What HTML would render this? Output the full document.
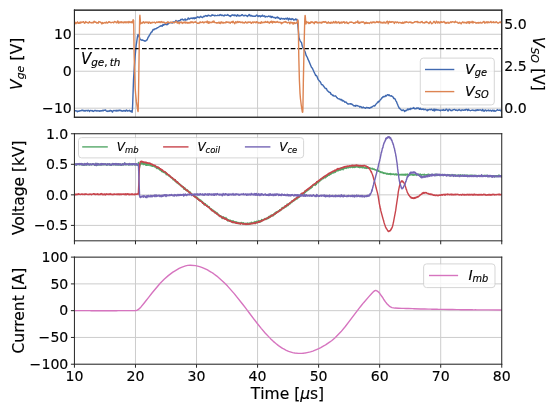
<!DOCTYPE html>
<html><head><meta charset="utf-8"><title>plot</title>
<style>html,body{margin:0;padding:0;background:#fff;width:550px;height:408px;overflow:hidden}svg{display:block}svg text{stroke:#000;stroke-width:0.15px}</style>
</head><body><svg width="550" height="408" viewBox="0 0 550 408" version="1.1"><defs><style type="text/css">*{stroke-linejoin: round; stroke-linecap: butt}</style></defs><g id="figure_1"><g id="patch_1"><path d="M 0 408 L 550 408 L 550 0 L 0 0 z " style="fill: #ffffff"/></g><g id="axes_1"><g id="patch_2"><path d="M 74.43 117.25 L 501.76 117.25 L 501.76 10.15 L 74.43 10.15 z " style="fill: #ffffff"/></g><g id="matplotlib.axis_1"><g id="xtick_1"><g id="line2d_1"><path d="M 74.43 117.25 L 74.43 10.15 " clip-path="url(#p11a7ee563b)" style="fill: none; stroke: #cccccc; stroke-linecap: square"/></g><g id="line2d_2"/></g><g id="xtick_2"><g id="line2d_3"><path d="M 135.48 117.25 L 135.48 10.15 " clip-path="url(#p11a7ee563b)" style="fill: none; stroke: #cccccc; stroke-linecap: square"/></g><g id="line2d_4"/></g><g id="xtick_3"><g id="line2d_5"><path d="M 196.52 117.25 L 196.52 10.15 " clip-path="url(#p11a7ee563b)" style="fill: none; stroke: #cccccc; stroke-linecap: square"/></g><g id="line2d_6"/></g><g id="xtick_4"><g id="line2d_7"><path d="M 257.57 117.25 L 257.57 10.15 " clip-path="url(#p11a7ee563b)" style="fill: none; stroke: #cccccc; stroke-linecap: square"/></g><g id="line2d_8"/></g><g id="xtick_5"><g id="line2d_9"><path d="M 318.62 117.25 L 318.62 10.15 " clip-path="url(#p11a7ee563b)" style="fill: none; stroke: #cccccc; stroke-linecap: square"/></g><g id="line2d_10"/></g><g id="xtick_6"><g id="line2d_11"><path d="M 379.67 117.25 L 379.67 10.15 " clip-path="url(#p11a7ee563b)" style="fill: none; stroke: #cccccc; stroke-linecap: square"/></g><g id="line2d_12"/></g><g id="xtick_7"><g id="line2d_13"><path d="M 440.71 117.25 L 440.71 10.15 " clip-path="url(#p11a7ee563b)" style="fill: none; stroke: #cccccc; stroke-linecap: square"/></g><g id="line2d_14"/></g><g id="xtick_8"><g id="line2d_15"><path d="M 501.76 117.25 L 501.76 10.15 " clip-path="url(#p11a7ee563b)" style="fill: none; stroke: #cccccc; stroke-linecap: square"/></g><g id="line2d_16"/></g></g><g id="matplotlib.axis_2"><g id="ytick_1"><g id="line2d_17"><path d="M 74.43 108.2 L 501.76 108.2 " clip-path="url(#p11a7ee563b)" style="fill: none; stroke: #cccccc; stroke-linecap: square"/></g><g id="line2d_18"/><g id="text_1"><text style="font-size: 14.1px; font-family: 'DejaVu Sans', sans-serif; text-anchor: end" x="71.83" y="112.952551" transform="rotate(-0 71.83 112.952551)">−10</text></g></g><g id="ytick_2"><g id="line2d_19"><path d="M 74.43 71.24 L 501.76 71.24 " clip-path="url(#p11a7ee563b)" style="fill: none; stroke: #cccccc; stroke-linecap: square"/></g><g id="line2d_20"/><g id="text_2"><text style="font-size: 14.1px; font-family: 'DejaVu Sans', sans-serif; text-anchor: end" x="71.83" y="75.996029" transform="rotate(-0 71.83 75.996029)">0</text></g></g><g id="ytick_3"><g id="line2d_21"><path d="M 74.43 34.28 L 501.76 34.28 " clip-path="url(#p11a7ee563b)" style="fill: none; stroke: #cccccc; stroke-linecap: square"/></g><g id="line2d_22"/><g id="text_3"><text style="font-size: 14.1px; font-family: 'DejaVu Sans', sans-serif; text-anchor: end" x="71.83" y="39.039507" transform="rotate(-0 71.83 39.039507)">10</text></g></g></g><g id="line2d_23"><path d="M 74.43 110.65 L 75.04 111.06 L 75.65 110.59 L 76.57 110.84 L 76.87 111.21 L 77.18 111.74 L 77.33 111.81 L 77.63 111.47 L 77.94 111.02 L 78.09 111.03 L 78.4 111.36 L 79.01 111.23 L 79.16 111.27 L 79.47 110.99 L 79.77 110.69 L 80.08 110.61 L 80.84 110.8 L 81.91 110.24 L 82.52 110.52 L 83.13 110.22 L 83.43 110.46 L 83.89 110.97 L 84.04 111.02 L 84.35 110.68 L 84.5 110.52 L 84.66 110.59 L 85.11 111.14 L 85.27 111.14 L 85.57 110.65 L 85.72 110.41 L 85.88 110.38 L 86.18 110.57 L 86.64 110.52 L 87.4 110.93 L 87.71 110.57 L 88.01 110.26 L 88.62 110.37 L 88.93 110.7 L 89.39 111.52 L 89.54 111.56 L 89.84 110.95 L 90.15 110.43 L 90.61 110.63 L 91.22 110.53 L 91.98 110.92 L 92.59 110.57 L 92.9 110.99 L 93.2 111.43 L 93.51 111.37 L 95.03 110.28 L 95.64 110.77 L 95.95 110.8 L 96.41 111.06 L 97.02 110.47 L 97.63 110.96 L 98.39 110.93 L 98.7 110.76 L 99.15 110.72 L 99.61 111.19 L 99.92 110.92 L 100.22 110.76 L 100.68 110.94 L 100.99 111.09 L 101.6 110.67 L 102.05 110.76 L 102.51 110.55 L 102.82 110.27 L 102.97 110.31 L 103.27 110.72 L 103.43 110.72 L 103.89 110.24 L 104.34 110.08 L 104.95 110.39 L 105.26 110.05 L 105.41 109.86 L 105.56 109.89 L 106.17 111.02 L 106.48 110.94 L 106.94 111.34 L 107.4 110.93 L 108.01 111.42 L 108.31 111.22 L 108.62 110.87 L 108.77 110.91 L 109.23 111.29 L 109.53 111.01 L 109.99 110.34 L 110.14 110.31 L 110.6 110.76 L 110.91 111.01 L 111.67 110.6 L 111.82 110.74 L 112.43 112.11 L 112.58 111.93 L 113.04 110.9 L 113.35 110.84 L 113.65 110.56 L 114.42 110.46 L 114.87 110.78 L 115.18 110.82 L 115.48 110.93 L 115.64 110.83 L 116.09 110.19 L 116.25 110.31 L 116.71 111.11 L 117.01 111.03 L 117.47 110.85 L 117.93 110.31 L 118.08 110.33 L 118.54 110.86 L 118.69 110.75 L 118.99 110.15 L 119.15 110.08 L 119.91 110.58 L 120.22 110.31 L 120.52 110.57 L 120.67 110.67 L 121.13 110.45 L 121.59 110.94 L 122.05 110.78 L 122.81 111.17 L 123.57 110.44 L 124.03 110.84 L 124.18 110.82 L 124.64 110.4 L 124.95 110.84 L 125.25 111.19 L 125.4 111.18 L 125.71 110.78 L 126.17 110.07 L 126.47 110.06 L 126.78 110.58 L 126.93 110.88 L 127.08 110.92 L 127.39 110.53 L 127.54 110.6 L 127.85 111.05 L 128 111.04 L 128.46 110.73 L 129.07 110.63 L 129.53 110.19 L 129.83 110.8 L 130.14 111.43 L 130.29 111.47 L 130.75 110.91 L 131.05 111.21 L 131.51 111.02 L 131.81 111.92 L 131.97 112.37 L 132.12 112.12 L 132.42 109.74 L 132.73 102.85 L 133.49 80.16 L 134.26 68 L 135.17 55.57 L 136.09 46.07 L 137.46 36.66 L 138.07 34.49 L 138.22 34.72 L 138.83 36.39 L 139.29 37.13 L 139.9 38.57 L 140.82 39.8 L 141.12 39.85 L 141.58 40.21 L 142.19 39.9 L 142.8 40.36 L 143.11 40.31 L 143.72 40.64 L 144.02 40.6 L 144.63 41.16 L 144.94 41.12 L 145.24 40.89 L 145.7 41 L 146.62 40.03 L 147.08 40.06 L 147.38 39.21 L 148.14 37.22 L 148.3 37.02 L 148.6 37 L 148.75 36.75 L 149.21 35.46 L 149.67 34.94 L 151.04 32.67 L 151.35 31.95 L 151.81 32.07 L 153.18 29.41 L 153.79 29.88 L 154.1 29.63 L 154.55 29 L 154.86 29.01 L 155.16 29.05 L 155.78 28.59 L 156.23 28.67 L 156.54 28.57 L 156.84 28.16 L 157.15 27.81 L 157.76 27.74 L 158.83 26.99 L 159.13 26.9 L 159.59 26.4 L 160.05 26.27 L 160.35 26.1 L 160.66 26.04 L 161.12 25.51 L 162.03 26.35 L 162.19 26.28 L 162.49 25.69 L 162.95 24.63 L 163.1 24.42 L 163.25 24.47 L 163.71 25.27 L 163.86 25.16 L 164.32 24.52 L 164.78 24.39 L 165.09 24.01 L 165.24 23.97 L 165.54 24.3 L 165.85 24.67 L 166 24.65 L 166.31 24.37 L 166.61 24.55 L 167.07 24.74 L 167.22 24.6 L 167.68 23.73 L 167.98 23.85 L 168.29 24.01 L 168.6 23.31 L 168.9 22.62 L 169.05 22.61 L 169.66 23 L 170.12 22.54 L 170.58 22.62 L 170.88 22.51 L 171.34 22.82 L 171.65 22.64 L 171.95 22.92 L 172.26 23.03 L 172.56 22.72 L 172.87 22.2 L 173.17 22.06 L 173.48 22.04 L 173.94 22.36 L 175.31 21.55 L 175.92 20.42 L 177.14 21.72 L 177.29 21.83 L 177.45 21.73 L 178.06 20.84 L 178.36 20.78 L 178.82 20.97 L 179.28 20.67 L 180.04 20.79 L 180.19 20.6 L 180.65 19.52 L 181.11 19.53 L 181.42 19.68 L 181.87 19.47 L 182.33 19.09 L 182.94 19.93 L 183.25 19.7 L 183.55 19.96 L 183.86 20.14 L 184.62 19.94 L 185.08 18.88 L 185.23 19.01 L 185.69 20.17 L 185.99 20.08 L 186.6 19.75 L 186.91 19.47 L 187.21 19.51 L 187.52 19.63 L 187.67 19.4 L 188.13 17.99 L 188.28 18.03 L 188.74 18.6 L 189.5 19.02 L 189.66 19.01 L 189.96 18.59 L 190.27 18.27 L 191.03 18.42 L 191.49 18.01 L 191.79 18.16 L 192.56 18.55 L 193.01 17.79 L 193.17 17.81 L 193.62 18.12 L 193.93 18.34 L 194.24 18.72 L 194.39 18.71 L 194.69 18.16 L 195 17.48 L 195.15 17.49 L 195.61 18.31 L 195.91 18.19 L 196.52 17.69 L 196.98 17.1 L 197.44 16.8 L 197.59 16.84 L 198.2 17.47 L 198.81 17.12 L 199.27 17.64 L 199.58 17.39 L 200.8 16.28 L 201.26 16.97 L 201.87 17.14 L 202.48 17.57 L 202.78 17.18 L 203.09 16.94 L 203.24 16.88 L 203.7 16.31 L 204.16 16.57 L 204.46 16.6 L 205.07 15.8 L 205.38 15.92 L 205.53 15.85 L 205.83 15.5 L 205.99 15.55 L 206.29 15.84 L 206.6 15.98 L 206.9 16.37 L 207.05 16.29 L 207.51 15.52 L 207.97 15.48 L 208.28 15.1 L 208.43 15.09 L 209.19 15.66 L 209.65 15.68 L 210.41 15.99 L 210.87 15.86 L 211.33 15.9 L 211.48 15.79 L 212.09 14.66 L 212.55 15.28 L 213.01 15.39 L 213.46 15.26 L 213.92 15.45 L 214.23 15.49 L 214.53 15.87 L 214.69 15.87 L 215.14 15.31 L 215.45 15.42 L 215.75 15.64 L 216.36 15.6 L 216.98 15.67 L 217.13 15.67 L 217.74 15.16 L 218.96 15.65 L 219.26 15.54 L 220.18 14.57 L 220.64 14.93 L 220.94 14.88 L 221.4 15.5 L 221.86 14.99 L 222.32 15.1 L 222.93 15.65 L 223.23 15.48 L 223.54 15.62 L 224 16 L 224.15 15.88 L 224.61 15 L 224.91 14.97 L 225.83 15.36 L 226.13 15.43 L 226.74 15.31 L 227.05 15.22 L 227.81 14.52 L 228.27 15.25 L 228.57 15.35 L 229.34 16.08 L 229.79 15.74 L 229.95 15.74 L 230.25 16.16 L 230.56 16.44 L 230.86 15.89 L 231.17 15.44 L 231.63 15.46 L 232.24 14.78 L 232.85 15.25 L 233.15 15.03 L 233.31 15.04 L 233.76 15.46 L 234.07 15.53 L 234.37 15.66 L 234.68 15.07 L 234.83 14.82 L 234.98 14.93 L 235.29 15.51 L 235.59 15.46 L 236.2 15.31 L 236.82 16.26 L 237.12 15.71 L 237.58 14.73 L 237.88 14.92 L 238.19 15.23 L 238.65 15.84 L 239.26 16.05 L 239.87 15.33 L 240.02 15.38 L 240.48 15.79 L 241.39 15.33 L 241.85 14.68 L 242.61 14.77 L 243.07 15.59 L 243.38 15.6 L 243.68 15.69 L 243.99 15.93 L 244.14 15.9 L 244.9 15.13 L 245.51 15.48 L 245.97 15.43 L 246.58 15.85 L 246.89 15.73 L 247.04 15.86 L 247.5 16.53 L 247.8 15.91 L 247.96 15.62 L 248.41 15.51 L 249.18 14.52 L 249.33 14.64 L 250.09 15.99 L 250.25 16.01 L 250.55 15.64 L 250.86 15.31 L 251.31 15.55 L 251.47 15.52 L 251.62 15.62 L 252.08 16.35 L 252.84 15.94 L 253.15 15.89 L 253.6 16.38 L 254.82 16.07 L 255.13 16.26 L 255.43 16.4 L 255.74 16.04 L 256.2 15.44 L 256.81 15.03 L 257.11 15.45 L 257.57 16.09 L 258.18 16.56 L 258.49 16.03 L 258.79 15.66 L 259.25 16.06 L 259.56 15.78 L 259.71 15.63 L 259.86 15.72 L 260.32 16.79 L 260.47 16.77 L 260.93 16.14 L 261.39 15.97 L 261.69 16.19 L 261.84 16.14 L 262.46 15.22 L 262.61 15.26 L 262.91 15.9 L 263.22 16.36 L 264.13 15.95 L 264.44 15.76 L 264.59 15.83 L 264.9 16.53 L 265.2 17.09 L 265.35 16.99 L 265.81 16.4 L 266.27 16.44 L 266.73 16.65 L 267.03 16.59 L 267.49 16.74 L 268.1 16.35 L 268.41 16.02 L 268.71 16.21 L 269.02 16.35 L 269.32 16.18 L 269.48 16.27 L 269.78 16.73 L 269.93 16.77 L 270.54 16.14 L 270.7 16.21 L 271 16.97 L 271.31 17.62 L 271.46 17.47 L 272.07 16.4 L 272.22 16.38 L 272.99 17.3 L 273.44 17.38 L 273.75 17.63 L 274.05 17.44 L 274.36 17.36 L 274.82 17.61 L 274.97 17.64 L 275.43 18.24 L 275.58 18.11 L 275.89 17.48 L 276.04 17.46 L 276.34 17.53 L 276.65 17.36 L 276.95 17.8 L 277.11 17.74 L 277.41 17.05 L 277.56 16.99 L 278.33 18.12 L 278.63 17.93 L 278.79 17.83 L 278.94 17.91 L 279.55 18.81 L 280.31 19.39 L 280.46 19.32 L 281.07 18.19 L 281.38 18.44 L 281.99 18.34 L 282.45 18.94 L 283.21 18.68 L 283.52 18.51 L 283.82 18.77 L 284.13 19.04 L 284.58 19.19 L 285.2 18.46 L 285.96 18.34 L 286.42 19.12 L 286.57 19.13 L 287.18 18.09 L 287.64 18.06 L 287.79 18.31 L 288.4 19.99 L 288.55 19.96 L 288.86 19.45 L 289.32 18.39 L 289.47 18.33 L 289.77 18.75 L 290.23 19.29 L 290.54 19.52 L 290.84 19.2 L 290.99 19.07 L 291.15 19.16 L 291.45 19.61 L 291.61 19.58 L 292.06 18.52 L 292.22 18.63 L 292.52 19.01 L 293.13 19.05 L 293.44 19.55 L 293.74 20.07 L 293.89 20.13 L 294.2 19.94 L 294.5 19.71 L 294.96 19.85 L 295.57 18.87 L 296.34 19.7 L 296.79 19.22 L 297.1 19.67 L 297.25 19.98 L 297.56 22.31 L 298.32 30.1 L 298.93 37.51 L 299.24 38.45 L 299.69 39.72 L 300 40.54 L 300.76 41.72 L 301.07 42.27 L 301.37 42.34 L 301.53 42.61 L 301.83 44.08 L 302.29 46.26 L 302.59 46.91 L 302.9 47.42 L 303.36 48.37 L 303.66 48.47 L 303.97 49.05 L 304.73 51.08 L 305.34 52.59 L 306.26 55.73 L 307.32 57.34 L 307.94 59.19 L 308.7 60.62 L 311.14 66.53 L 311.45 67.3 L 311.9 67.68 L 312.21 68.17 L 312.51 68.39 L 312.82 69.21 L 313.12 69.95 L 313.43 70.44 L 314.04 71.95 L 314.35 72.64 L 314.65 73.33 L 314.96 73.73 L 315.72 75.62 L 316.33 75.52 L 316.63 75.78 L 316.94 76.38 L 318.16 79.48 L 318.92 80.37 L 320.14 81.75 L 320.76 82.71 L 321.37 84.37 L 321.67 84.58 L 322.28 84.74 L 322.89 85.03 L 323.65 86.35 L 324.11 86.78 L 324.42 87.24 L 324.72 87.88 L 324.88 87.97 L 325.18 87.92 L 325.79 88.67 L 326.25 88.41 L 326.4 88.54 L 326.71 89.24 L 327.17 90.42 L 327.62 90.98 L 328.08 91.18 L 328.54 91.67 L 328.84 92 L 329.15 92.11 L 329.61 92.52 L 330.22 92.39 L 330.37 92.57 L 330.68 93.43 L 330.98 94.3 L 331.13 94.4 L 331.44 94.3 L 331.74 94.55 L 332.51 95.34 L 332.81 95.57 L 333.27 95.19 L 333.58 95.65 L 333.88 96.07 L 334.34 96.11 L 334.64 96.09 L 335.1 95.82 L 335.56 95.94 L 335.86 96.22 L 336.78 97.57 L 337.09 97.65 L 337.39 98.07 L 337.7 98.36 L 338 98.53 L 338.31 98.86 L 338.92 98.9 L 339.53 99.04 L 339.83 99.13 L 340.29 99.68 L 340.6 99.41 L 340.75 99.47 L 341.05 99.81 L 341.36 99.52 L 341.51 99.57 L 342.27 100.95 L 342.73 100.34 L 343.5 100.79 L 343.8 101.15 L 344.26 101.52 L 344.56 101.84 L 344.87 102.19 L 345.02 102.15 L 345.33 101.86 L 345.48 101.86 L 345.78 102.18 L 346.24 102.12 L 346.7 102.89 L 347.16 103.44 L 347.46 103.51 L 347.92 104.08 L 348.53 104.01 L 348.84 104.06 L 350.21 103.69 L 350.97 104.19 L 351.58 103.84 L 351.74 103.95 L 352.19 104.67 L 352.65 104.68 L 353.26 105.35 L 353.87 105.85 L 354.33 105.67 L 354.64 105.76 L 355.25 106.31 L 355.55 105.94 L 356.01 105.26 L 356.62 105.81 L 357.08 105.56 L 357.38 105.59 L 358.3 106.1 L 358.76 106.14 L 359.37 106.53 L 359.67 107.06 L 359.83 107.05 L 360.13 106.53 L 360.28 106.5 L 360.59 106.79 L 361.05 106.66 L 361.5 107.27 L 361.96 107.84 L 362.11 107.84 L 363.18 106.94 L 363.49 107.23 L 363.95 107.68 L 364.56 107.67 L 365.32 108.33 L 365.62 108.26 L 365.93 107.78 L 366.24 107.34 L 366.69 107.48 L 367.15 107.79 L 367.61 107.56 L 368.22 107.93 L 368.83 107.71 L 369.14 108.08 L 369.44 108.31 L 369.9 108.05 L 370.2 107.9 L 370.51 107.49 L 370.66 107.45 L 370.97 107.57 L 371.73 107.14 L 372.03 106.77 L 372.34 106.74 L 372.65 106.71 L 373.26 105.86 L 373.56 105.88 L 374.02 105.53 L 374.48 106.08 L 374.78 105.95 L 375.09 105.61 L 376 104.01 L 376.31 103.85 L 376.77 103.32 L 376.92 103.27 L 377.22 102.71 L 377.53 102.08 L 377.68 102.12 L 377.99 102.46 L 378.14 102.33 L 378.6 101.26 L 379.06 101.66 L 379.36 101.3 L 380.28 99.76 L 380.73 99.61 L 381.19 98.89 L 381.65 98.17 L 381.95 97.78 L 382.26 97.47 L 382.57 97.7 L 382.72 97.47 L 383.02 96.6 L 383.18 96.46 L 383.79 96.76 L 384.09 96.53 L 384.4 96.36 L 384.85 96.69 L 385.01 96.66 L 385.31 96.18 L 385.62 95.51 L 385.77 95.38 L 386.08 95.71 L 386.38 95.96 L 386.69 95.73 L 387.45 94.58 L 388.06 94.58 L 388.67 95.42 L 389.13 94.85 L 389.43 95.2 L 389.89 95.76 L 390.2 95.82 L 390.5 95.85 L 390.81 96.08 L 391.11 95.86 L 391.42 95.78 L 391.88 96.31 L 392.18 96.38 L 392.49 96.66 L 392.79 96.62 L 393.1 97.08 L 393.86 98.62 L 394.01 98.63 L 394.32 98.4 L 394.93 98.83 L 395.23 99.34 L 396 101.01 L 396.61 101.97 L 397.06 103.32 L 397.52 104.17 L 398.29 106.39 L 398.59 106.73 L 398.9 107.58 L 399.2 108.32 L 399.66 108.04 L 400.27 109.08 L 400.57 109.3 L 401.03 109.83 L 401.34 109.91 L 401.95 110.59 L 403.17 109.85 L 403.47 109.93 L 403.78 110.26 L 404.7 111.49 L 405 111.13 L 405.46 110.44 L 405.61 110.39 L 406.07 110.73 L 406.37 110.46 L 406.68 110.21 L 406.98 109.96 L 407.44 108.94 L 407.59 109.05 L 408.05 109.99 L 408.36 109.56 L 408.82 109.02 L 409.12 108.82 L 409.88 109.35 L 410.04 109.52 L 410.19 109.47 L 410.8 108.24 L 411.41 108.84 L 412.02 108.57 L 412.33 108.51 L 412.94 108.14 L 413.24 108.25 L 413.39 108.12 L 413.7 107.54 L 413.85 107.62 L 414.31 108.69 L 414.46 108.73 L 414.77 108.62 L 415.38 108.9 L 415.84 108.55 L 416.14 108.67 L 416.29 108.69 L 416.75 107.92 L 417.21 108.44 L 417.51 108.18 L 417.82 107.91 L 418.28 108.03 L 418.58 108.35 L 419.35 109.25 L 419.5 109.39 L 419.65 109.32 L 420.11 108.08 L 420.26 108.09 L 421.03 109.4 L 421.33 109.46 L 421.64 109.34 L 422.09 108.99 L 422.4 109.18 L 422.7 109.4 L 422.86 109.39 L 423.31 109.04 L 423.92 109.7 L 425.3 109.26 L 426.37 109.91 L 426.67 109.87 L 427.13 110.77 L 427.28 110.69 L 427.74 109.62 L 427.89 109.58 L 428.5 110.06 L 428.66 110.03 L 429.27 109.49 L 429.57 109.62 L 430.03 109.55 L 430.33 109.77 L 430.64 109.62 L 431.4 109.15 L 431.71 109.14 L 431.86 109.28 L 432.32 110.3 L 432.47 110.32 L 432.78 110.12 L 433.23 110.6 L 433.39 110.46 L 434 108.96 L 434.3 110.07 L 434.61 110.95 L 434.76 110.7 L 435.22 109.5 L 435.52 109.44 L 435.68 109.51 L 436.13 110.1 L 436.59 109.5 L 437.2 110.06 L 437.97 109.8 L 438.58 110 L 438.88 110 L 439.34 110.31 L 439.8 110.16 L 440.41 110.72 L 440.71 110.43 L 441.02 110.07 L 441.32 110.08 L 441.63 110.13 L 441.93 110.06 L 442.39 110.3 L 442.85 110.06 L 443.31 109.49 L 443.46 109.61 L 443.92 110.51 L 444.07 110.45 L 444.38 110.08 L 444.68 110.2 L 445.29 110.39 L 445.44 110.3 L 446.05 109.21 L 446.66 109.12 L 447.58 110.33 L 447.89 110.98 L 448.04 111.06 L 448.34 110.71 L 448.8 109.96 L 449.11 109.37 L 449.26 109.27 L 450.02 109.71 L 450.79 110.66 L 451.09 110.66 L 451.55 110.28 L 452.01 110.66 L 452.31 110.31 L 452.62 109.97 L 453.69 109.68 L 453.99 109.67 L 454.45 109.39 L 454.91 109.6 L 455.52 110.19 L 455.97 110.21 L 456.28 109.84 L 457.04 110.11 L 457.35 110.63 L 457.65 110.65 L 457.96 110.48 L 458.42 109.95 L 459.03 109.43 L 459.48 109.76 L 459.94 110.2 L 460.4 110.1 L 461.01 110.78 L 461.32 110.34 L 461.62 109.89 L 461.93 109.9 L 462.38 110.17 L 462.84 109.98 L 463.3 110.33 L 464.37 109.83 L 464.83 110.17 L 465.13 110.29 L 465.44 109.84 L 465.74 109.38 L 466.05 109.49 L 466.35 109.56 L 466.66 109.38 L 466.81 109.44 L 467.73 110.58 L 468.34 109.35 L 468.49 109.42 L 469.1 110.1 L 469.41 110.2 L 469.86 110.45 L 470.17 110.57 L 470.47 110.74 L 471.24 110.2 L 471.69 110.41 L 472 110.34 L 472.3 110.28 L 472.61 109.97 L 473.22 110.22 L 473.98 110.62 L 474.44 110.53 L 474.75 110.59 L 475.2 110.26 L 475.66 110.64 L 476.12 109.81 L 476.27 109.93 L 476.58 110.43 L 476.73 110.47 L 477.49 109.61 L 477.65 109.64 L 477.95 110.12 L 478.1 110.36 L 478.26 110.32 L 478.56 109.85 L 478.71 109.88 L 479.02 110.14 L 479.33 109.95 L 479.63 109.83 L 479.94 109.87 L 480.39 110.13 L 480.7 109.97 L 481.31 110.08 L 481.92 110.82 L 482.07 110.69 L 482.38 109.99 L 482.68 109.37 L 482.84 109.55 L 483.45 111.08 L 483.75 111.11 L 484.06 111.12 L 484.36 111.19 L 484.67 110.6 L 484.97 110.01 L 485.12 110 L 485.43 110.16 L 485.89 110 L 486.35 110.91 L 486.5 110.96 L 487.11 110.41 L 487.87 110.65 L 488.48 110.01 L 488.63 110.11 L 489.09 110.84 L 489.25 110.85 L 489.7 110.48 L 490.77 110.3 L 490.92 110.41 L 491.38 111.23 L 491.69 110.96 L 492.76 110.14 L 492.91 110.24 L 493.37 111.13 L 493.52 111.13 L 494.13 110.27 L 494.28 110.39 L 494.74 111.29 L 494.89 111.31 L 495.35 111.1 L 495.66 111 L 496.11 110.58 L 496.57 110.47 L 497.33 109.59 L 497.64 109.75 L 498.25 110.3 L 498.86 110.33 L 499.17 110.4 L 499.62 110.04 L 500.23 110.07 L 500.69 110.83 L 500.84 110.88 L 501.45 110.27 L 501.76 109.76 L 501.76 109.76 " clip-path="url(#p11a7ee563b)" style="fill: none; stroke: #4069b0; stroke-width: 1.4; stroke-linecap: square"/></g><g id="line2d_24"><path d="M 74.43 48.58 L 501.76 48.58 " clip-path="url(#p11a7ee563b)" style="fill: none; stroke-dasharray: 4.7175,2.04; stroke-dashoffset: 0; stroke: #000000; stroke-width: 1.275"/></g><g id="patch_3"><path d="M 74.43 117.25 L 74.43 10.15 " style="fill: none; stroke: #262626; stroke-linejoin: miter; stroke-linecap: square"/></g><g id="patch_4"><path d="M 501.76 117.25 L 501.76 10.15 " style="fill: none; stroke: #262626; stroke-linejoin: miter; stroke-linecap: square"/></g><g id="patch_5"><path d="M 74.43 117.25 L 501.76 117.25 " style="fill: none; stroke: #262626; stroke-linejoin: miter; stroke-linecap: square"/></g><g id="patch_6"><path d="M 74.43 10.15 L 501.76 10.15 " style="fill: none; stroke: #262626; stroke-linejoin: miter; stroke-linecap: square"/></g></g><g id="axes_2"><g id="patch_7"><path d="M 74.43 240.82 L 501.76 240.82 L 501.76 133.72 L 74.43 133.72 z " style="fill: #ffffff"/></g><g id="matplotlib.axis_3"><g id="xtick_9"><g id="line2d_25"><path d="M 74.43 240.82 L 74.43 133.72 " clip-path="url(#pb87db20f77)" style="fill: none; stroke: #cccccc; stroke-linecap: square"/></g><g id="line2d_26"><defs><path id="mb01c74a3c1" d="M 0 0 L 0 3.5 " style="stroke: #262626"/></defs><g><use href="#mb01c74a3c1" x="74.43" y="240.82" style="fill: #262626; stroke: #262626"/></g></g></g><g id="xtick_10"><g id="line2d_27"><path d="M 135.48 240.82 L 135.48 133.72 " clip-path="url(#pb87db20f77)" style="fill: none; stroke: #cccccc; stroke-linecap: square"/></g><g id="line2d_28"><g><use href="#mb01c74a3c1" x="135.477143" y="240.82" style="fill: #262626; stroke: #262626"/></g></g></g><g id="xtick_11"><g id="line2d_29"><path d="M 196.52 240.82 L 196.52 133.72 " clip-path="url(#pb87db20f77)" style="fill: none; stroke: #cccccc; stroke-linecap: square"/></g><g id="line2d_30"><g><use href="#mb01c74a3c1" x="196.524286" y="240.82" style="fill: #262626; stroke: #262626"/></g></g></g><g id="xtick_12"><g id="line2d_31"><path d="M 257.57 240.82 L 257.57 133.72 " clip-path="url(#pb87db20f77)" style="fill: none; stroke: #cccccc; stroke-linecap: square"/></g><g id="line2d_32"><g><use href="#mb01c74a3c1" x="257.571429" y="240.82" style="fill: #262626; stroke: #262626"/></g></g></g><g id="xtick_13"><g id="line2d_33"><path d="M 318.62 240.82 L 318.62 133.72 " clip-path="url(#pb87db20f77)" style="fill: none; stroke: #cccccc; stroke-linecap: square"/></g><g id="line2d_34"><g><use href="#mb01c74a3c1" x="318.618571" y="240.82" style="fill: #262626; stroke: #262626"/></g></g></g><g id="xtick_14"><g id="line2d_35"><path d="M 379.67 240.82 L 379.67 133.72 " clip-path="url(#pb87db20f77)" style="fill: none; stroke: #cccccc; stroke-linecap: square"/></g><g id="line2d_36"><g><use href="#mb01c74a3c1" x="379.665714" y="240.82" style="fill: #262626; stroke: #262626"/></g></g></g><g id="xtick_15"><g id="line2d_37"><path d="M 440.71 240.82 L 440.71 133.72 " clip-path="url(#pb87db20f77)" style="fill: none; stroke: #cccccc; stroke-linecap: square"/></g><g id="line2d_38"><g><use href="#mb01c74a3c1" x="440.712857" y="240.82" style="fill: #262626; stroke: #262626"/></g></g></g><g id="xtick_16"><g id="line2d_39"><path d="M 501.76 240.82 L 501.76 133.72 " clip-path="url(#pb87db20f77)" style="fill: none; stroke: #cccccc; stroke-linecap: square"/></g><g id="line2d_40"><g><use href="#mb01c74a3c1" x="501.76" y="240.82" style="fill: #262626; stroke: #262626"/></g></g></g></g><g id="matplotlib.axis_4"><g id="ytick_4"><g id="line2d_41"><path d="M 74.43 225.4 L 501.76 225.4 " clip-path="url(#pb87db20f77)" style="fill: none; stroke: #cccccc; stroke-linecap: square"/></g><g id="line2d_42"><defs><path id="m298dba9c88" d="M 0 0 L -3.5 0 " style="stroke: #262626"/></defs><g><use href="#m298dba9c88" x="74.43" y="225.398675" style="fill: #262626; stroke: #262626"/></g></g><g id="text_4"><text style="font-size: 14.1px; font-family: 'DejaVu Sans', sans-serif; text-anchor: end" x="68.33" y="230.155574" transform="rotate(-0 68.33 230.155574)">−0.5</text></g></g><g id="ytick_5"><g id="line2d_43"><path d="M 74.43 194.85 L 501.76 194.85 " clip-path="url(#pb87db20f77)" style="fill: none; stroke: #cccccc; stroke-linecap: square"/></g><g id="line2d_44"><g><use href="#m298dba9c88" x="74.43" y="194.8493" style="fill: #262626; stroke: #262626"/></g></g><g id="text_5"><text style="font-size: 14.1px; font-family: 'DejaVu Sans', sans-serif; text-anchor: end" x="68.33" y="199.606198" transform="rotate(-0 68.33 199.606198)">0.0</text></g></g><g id="ytick_6"><g id="line2d_45"><path d="M 74.43 164.3 L 501.76 164.3 " clip-path="url(#pb87db20f77)" style="fill: none; stroke: #cccccc; stroke-linecap: square"/></g><g id="line2d_46"><g><use href="#m298dba9c88" x="74.43" y="164.299925" style="fill: #262626; stroke: #262626"/></g></g><g id="text_6"><text style="font-size: 14.1px; font-family: 'DejaVu Sans', sans-serif; text-anchor: end" x="68.33" y="169.056823" transform="rotate(-0 68.33 169.056823)">0.5</text></g></g><g id="ytick_7"><g id="line2d_47"><path d="M 74.43 133.75 L 501.76 133.75 " clip-path="url(#pb87db20f77)" style="fill: none; stroke: #cccccc; stroke-linecap: square"/></g><g id="line2d_48"><g><use href="#m298dba9c88" x="74.43" y="133.750549" style="fill: #262626; stroke: #262626"/></g></g><g id="text_7"><text style="font-size: 14.1px; font-family: 'DejaVu Sans', sans-serif; text-anchor: end" x="68.33" y="138.507448" transform="rotate(-0 68.33 138.507448)">1.0</text></g></g></g><g id="line2d_49"><path d="M 74.43 164.49 L 74.58 164.69 L 74.74 164.23 L 74.89 164.66 L 75.04 164.29 L 75.19 164.53 L 75.35 164.49 L 75.65 164.88 L 75.8 164.09 L 75.96 164.36 L 76.11 164.02 L 76.41 165.12 L 76.87 164.1 L 77.33 163.91 L 77.79 164.6 L 77.94 164.04 L 78.25 164.61 L 78.4 164.06 L 78.55 164.01 L 78.7 163.74 L 78.86 164.48 L 79.01 163.99 L 79.31 164.44 L 79.62 164.78 L 79.77 164.79 L 79.92 163.65 L 80.08 164.56 L 80.23 163.78 L 80.53 164.42 L 80.69 164.44 L 80.84 164.26 L 80.99 163.83 L 81.3 164.17 L 81.6 164.85 L 81.76 163.59 L 81.91 164.73 L 82.06 164.95 L 82.21 163.89 L 82.37 164.83 L 82.52 164.11 L 82.67 164.13 L 82.82 164.47 L 82.98 164.3 L 83.13 165.16 L 83.28 165.04 L 83.59 164.37 L 83.74 164.34 L 83.89 164.16 L 84.2 165.24 L 84.35 164.39 L 84.5 164.6 L 84.81 163.65 L 84.96 164.41 L 85.11 164.26 L 85.27 164.82 L 85.42 164.14 L 85.72 164.26 L 85.88 164.13 L 86.03 164.96 L 86.18 164.26 L 86.33 164.18 L 86.49 163.73 L 86.64 164.96 L 86.94 163.59 L 87.1 164.63 L 87.25 164.7 L 87.56 163.36 L 87.86 164.6 L 88.32 164.61 L 88.47 164.48 L 88.62 164.09 L 89.08 164.61 L 89.23 165.14 L 89.39 164.42 L 89.69 164.69 L 90 164.21 L 90.3 164.56 L 90.61 164 L 90.76 164.48 L 90.91 164.45 L 91.07 164.89 L 91.37 164.38 L 91.52 164.36 L 91.83 164.8 L 91.98 164.88 L 92.13 164.32 L 92.29 164.53 L 92.44 163.93 L 92.59 163.97 L 92.74 164.38 L 92.9 164.03 L 93.05 164.33 L 93.2 164.07 L 93.35 164.47 L 93.66 163.9 L 93.81 164.33 L 93.97 164.04 L 94.12 164.57 L 94.27 164.53 L 94.42 165.17 L 94.58 164.59 L 94.73 164.91 L 94.88 164.48 L 95.03 165.34 L 95.49 164.22 L 95.64 164.89 L 95.8 164.46 L 95.95 163.44 L 96.41 165.55 L 96.71 164.39 L 96.86 164.37 L 97.17 164.08 L 97.32 164.48 L 97.48 164.22 L 97.63 165.14 L 97.78 163.6 L 97.93 164.61 L 98.09 164.75 L 98.24 163.97 L 98.39 164.25 L 98.54 164.1 L 98.7 164.67 L 99 164.35 L 99.15 165.06 L 99.31 164.72 L 99.76 164.75 L 99.92 164.78 L 100.07 164.07 L 100.22 164.24 L 100.38 164.16 L 100.68 164.91 L 100.83 165.05 L 100.99 164.43 L 101.14 164.57 L 101.29 163.75 L 101.44 163.67 L 101.6 163.9 L 101.75 164.73 L 101.9 164.9 L 102.05 164.46 L 102.21 164.68 L 102.36 163.86 L 102.66 164.4 L 102.82 164.25 L 102.97 163.81 L 103.12 164.62 L 103.27 164.13 L 103.43 164.81 L 103.58 164.44 L 103.73 164.59 L 103.89 164.2 L 104.04 164.26 L 104.19 163.97 L 104.65 164.72 L 104.95 164.49 L 105.11 164.52 L 105.26 164.71 L 105.41 163.93 L 105.56 163.89 L 105.87 164.42 L 106.17 164.37 L 106.33 164.45 L 106.48 165.08 L 106.63 164.63 L 106.78 165.08 L 106.94 164.41 L 107.09 164.29 L 107.24 165 L 107.4 164.61 L 107.55 164.92 L 107.7 164.92 L 107.85 163.82 L 108.31 164.52 L 108.46 164.29 L 108.62 164.53 L 108.77 164.3 L 108.92 164.73 L 109.07 164.38 L 109.23 164.5 L 109.38 164.9 L 109.53 163.77 L 109.68 164.06 L 109.99 165.03 L 110.14 164.82 L 110.3 164.85 L 110.45 164.71 L 110.6 164.98 L 110.91 164.51 L 111.06 164.53 L 111.21 165.39 L 111.36 164.52 L 111.52 164.72 L 111.67 164.68 L 111.82 164.48 L 111.97 164.67 L 112.13 164.18 L 112.28 164.19 L 112.58 164.67 L 112.74 163.7 L 112.89 163.61 L 113.19 164.34 L 113.35 164.02 L 113.5 164.02 L 113.65 164.84 L 113.81 163.88 L 113.96 164.32 L 114.11 163.74 L 114.26 164.45 L 114.42 164.41 L 114.57 164.61 L 114.87 164.02 L 115.03 164.77 L 115.33 164.38 L 115.48 164.75 L 115.64 163.8 L 115.79 165.03 L 115.94 163.6 L 116.09 164.76 L 116.4 163.8 L 116.55 164.12 L 116.71 164.85 L 117.01 164.51 L 117.32 164.12 L 117.62 164.01 L 117.77 164.83 L 117.93 164.05 L 118.08 165.06 L 118.23 164.37 L 118.54 164.87 L 118.69 163.87 L 118.84 164.25 L 118.99 163.97 L 119.15 165.01 L 119.3 164.95 L 119.45 164.57 L 119.6 164.74 L 119.76 164.42 L 119.91 164.63 L 120.06 164.5 L 120.22 164.81 L 120.37 164.04 L 120.67 165.15 L 120.83 164.52 L 121.44 164.84 L 121.59 164.64 L 121.74 165.25 L 122.35 163.95 L 122.5 164.41 L 122.66 164.45 L 122.81 164.03 L 122.96 164.7 L 123.12 164.39 L 123.27 164.45 L 123.42 164.98 L 123.57 164.2 L 123.73 164.08 L 123.88 164.51 L 124.18 164.6 L 124.49 163.15 L 124.64 163.6 L 124.79 163.36 L 124.95 164.57 L 125.1 163.68 L 125.25 163.53 L 125.4 163.72 L 125.56 164.74 L 125.71 164.02 L 125.86 164.4 L 126.01 163.93 L 126.17 164.6 L 126.32 164.48 L 126.47 164.74 L 126.63 164.28 L 126.78 164.47 L 126.93 164.14 L 127.39 164.58 L 127.54 164.59 L 127.85 164.05 L 128 164.44 L 128.3 164.37 L 128.46 164.18 L 128.61 164.38 L 128.76 164.95 L 128.91 164.21 L 129.07 164.28 L 129.22 164.78 L 129.37 163.65 L 129.53 164.88 L 129.68 164.31 L 129.83 164.61 L 129.98 164.43 L 130.14 164.01 L 130.29 164.01 L 130.75 164.81 L 131.05 164.08 L 131.36 164.61 L 131.81 163.93 L 131.97 164.83 L 132.12 164.24 L 132.27 164.34 L 132.58 164.76 L 132.73 163.91 L 133.04 164.48 L 133.19 164.42 L 133.34 164.15 L 133.49 164.48 L 133.65 163.85 L 133.95 164.64 L 134.1 164.49 L 134.26 164.84 L 134.41 164.62 L 134.56 164.04 L 134.71 163.91 L 135.17 165.01 L 135.32 164.92 L 135.48 164.34 L 135.63 164.47 L 135.78 164.76 L 135.93 164.62 L 136.09 163.89 L 136.39 164.64 L 136.55 164.5 L 136.7 164.11 L 136.85 164.57 L 137 164.66 L 137.16 165.21 L 137.46 165.06 L 137.61 165.17 L 137.77 164.37 L 137.92 164.25 L 138.07 164.69 L 138.38 163.11 L 138.53 162.49 L 138.68 163.28 L 138.83 163.26 L 138.99 163.43 L 139.29 165.7 L 139.45 167.73 L 140.06 164.48 L 140.21 164.93 L 140.36 163.21 L 140.67 164.18 L 140.82 163.47 L 140.97 164.29 L 141.28 162.79 L 141.43 162.61 L 141.58 163.53 L 141.73 162.83 L 141.89 163.34 L 142.19 163.33 L 142.5 162.65 L 142.8 164.08 L 143.11 163.36 L 143.26 164.62 L 143.41 164.19 L 143.57 163.16 L 143.72 164.62 L 143.87 164.21 L 144.02 164.54 L 144.48 163.48 L 144.63 164.26 L 144.79 163.21 L 144.94 163.35 L 145.09 164.02 L 145.24 163.7 L 145.4 163.82 L 145.7 165.1 L 145.86 164.9 L 146.01 165.02 L 146.16 165.3 L 146.47 163.52 L 146.62 163.93 L 146.77 163.81 L 146.92 165.4 L 147.23 163.74 L 147.53 164.46 L 147.69 164.76 L 147.84 164.28 L 147.99 164.59 L 148.14 164.65 L 148.3 165.32 L 148.45 164.46 L 148.6 164.56 L 148.75 163.79 L 149.37 164.93 L 149.52 164.54 L 149.82 164.47 L 149.98 164.37 L 150.13 165.71 L 150.28 164.96 L 150.59 165.06 L 150.74 164.56 L 150.89 165.53 L 151.04 164.29 L 151.2 165.39 L 151.35 165.16 L 151.5 165.25 L 151.65 165.1 L 151.81 166.06 L 151.96 165.99 L 152.11 166.14 L 152.27 165.36 L 152.42 165.95 L 152.57 165.41 L 152.88 166.19 L 153.03 165.46 L 153.18 165.94 L 153.33 165.83 L 153.49 165.89 L 153.79 166.32 L 153.94 165.78 L 154.1 166.58 L 154.4 166.73 L 154.55 166.25 L 154.71 166.8 L 154.86 165.85 L 155.01 167.15 L 155.16 167.03 L 155.32 166.44 L 155.47 166.46 L 155.62 166.28 L 155.93 167.38 L 156.23 166.71 L 156.39 168.16 L 156.69 167.32 L 157 168.6 L 157.3 167.81 L 157.61 168.4 L 157.76 167.69 L 157.91 167.9 L 158.06 167.66 L 158.37 168.17 L 158.52 167.97 L 158.68 168.68 L 158.83 168.34 L 158.98 169.4 L 159.13 168.38 L 159.29 168.35 L 159.44 168.99 L 159.59 169.12 L 159.74 169.98 L 159.9 169.15 L 160.05 169.47 L 160.2 170.11 L 160.35 169.25 L 160.51 170.5 L 160.66 169.65 L 160.81 170.34 L 161.12 169.76 L 161.42 170.44 L 161.57 170.57 L 161.73 171.58 L 161.88 170.62 L 162.03 170.81 L 162.19 171.44 L 162.34 170.77 L 162.49 170.63 L 162.64 171.82 L 162.95 171.3 L 163.1 171.95 L 163.25 171.92 L 163.41 172.43 L 163.71 171.66 L 163.86 172.26 L 164.02 172.23 L 164.17 171.35 L 164.32 171.76 L 164.47 171.82 L 164.63 172.31 L 164.78 172.15 L 164.93 172.8 L 165.09 172.81 L 165.24 173.29 L 165.39 171.97 L 165.7 173.26 L 166 173.77 L 166.15 174.54 L 166.31 172.84 L 166.61 174.08 L 166.76 174.69 L 166.92 174.67 L 167.07 173.96 L 167.22 174.13 L 167.37 173.96 L 167.53 174.9 L 167.68 174.48 L 167.98 174.74 L 168.29 175.21 L 168.44 175.59 L 168.6 175.01 L 168.9 176.16 L 169.05 175.3 L 169.21 176.16 L 169.51 176.04 L 169.66 175.91 L 169.82 176.58 L 170.12 176.03 L 170.43 177.07 L 170.58 176.88 L 170.73 177.4 L 170.88 177.11 L 171.19 177.27 L 171.49 177.91 L 171.65 177.42 L 171.8 178.01 L 171.95 178.1 L 172.11 178.04 L 172.26 177.75 L 172.41 178.75 L 172.72 178.29 L 173.02 179.58 L 173.17 179.79 L 173.33 179.21 L 173.48 179.68 L 173.63 179.51 L 173.94 179.76 L 174.09 179.42 L 174.24 179.39 L 174.39 180.53 L 174.55 180.56 L 174.7 180.17 L 174.85 181.15 L 175.01 180.78 L 175.16 180.76 L 175.31 179.79 L 175.62 181.32 L 175.77 180.88 L 175.92 181.14 L 176.07 181.88 L 176.53 182.23 L 176.68 181.48 L 176.84 181.84 L 176.99 183 L 177.14 182.44 L 177.29 182.77 L 177.6 182.5 L 177.75 182.33 L 177.9 183.02 L 178.06 182.62 L 178.21 182.81 L 178.36 183.83 L 178.52 183.81 L 178.67 183.25 L 178.82 183.84 L 178.97 183.45 L 179.28 184.58 L 179.43 184.23 L 179.58 184.53 L 179.74 184.45 L 179.89 184.24 L 180.04 184.94 L 180.19 184.34 L 180.35 185.2 L 180.5 185.32 L 180.8 185.33 L 180.96 185.6 L 181.11 185.21 L 181.26 186.36 L 181.42 185.53 L 181.57 185.73 L 181.87 186.69 L 182.03 185.98 L 182.18 186.52 L 182.33 186.22 L 182.64 187.03 L 183.09 186.65 L 183.25 186.66 L 183.4 188.11 L 183.55 186.94 L 183.7 189.02 L 183.86 187.77 L 184.01 188.35 L 184.16 187.71 L 184.31 189.01 L 184.47 187.86 L 184.62 189.26 L 185.08 188.67 L 185.23 189.27 L 185.38 188.23 L 185.54 189.73 L 185.69 188.79 L 185.99 190.06 L 186.15 189.76 L 186.3 190.25 L 186.45 190.2 L 186.6 190.91 L 186.76 190.23 L 186.91 190.31 L 187.06 190.6 L 187.21 189.95 L 187.52 190.63 L 187.67 190.14 L 187.83 190.94 L 187.98 190.72 L 188.13 190.81 L 188.28 191.4 L 188.44 190.86 L 188.59 191.65 L 188.74 191.23 L 188.89 191.8 L 189.05 191.89 L 189.2 192.47 L 189.35 192.49 L 189.5 192.83 L 189.66 191.94 L 189.96 192.72 L 190.11 192.53 L 190.27 192.53 L 190.42 192.09 L 190.57 193.29 L 190.88 193.01 L 191.03 193.67 L 191.18 193.45 L 191.34 194.18 L 191.49 194.31 L 191.64 194.07 L 191.79 195.25 L 191.95 194.69 L 192.1 194.7 L 192.25 194.34 L 192.4 194.78 L 192.56 194.5 L 192.71 194.96 L 192.86 194.8 L 193.01 194.92 L 193.17 195.39 L 193.32 195.34 L 193.47 195.45 L 193.78 195.21 L 193.93 196.24 L 194.08 196.44 L 194.24 196.43 L 194.39 195.48 L 194.54 196.47 L 194.69 196.66 L 194.85 196.4 L 195 195.91 L 195.15 196.86 L 195.3 196.48 L 195.61 197.25 L 195.76 196.61 L 195.91 197.6 L 196.22 196.99 L 196.37 196.89 L 196.83 197.87 L 196.98 197.28 L 197.13 198.28 L 197.29 197.72 L 197.44 199.02 L 197.59 198.61 L 197.75 198.64 L 197.9 199.03 L 198.05 198.2 L 198.2 199.39 L 198.66 199.75 L 198.97 200.39 L 199.12 200.23 L 199.27 199.11 L 199.58 200.59 L 199.73 200.23 L 200.03 199.99 L 200.34 200.49 L 200.49 200.7 L 200.64 199.9 L 200.8 201.17 L 200.95 201.25 L 201.1 200.71 L 201.26 200.8 L 201.41 201.34 L 201.56 201.33 L 201.87 202.1 L 202.02 202.02 L 202.32 202.58 L 202.48 201.43 L 202.63 202.69 L 202.78 202.2 L 202.93 202.74 L 203.09 202.72 L 203.24 203.01 L 203.39 202.61 L 203.85 204.43 L 204.16 203.13 L 204.31 204.92 L 204.46 204.1 L 204.61 203.92 L 204.77 203.93 L 205.07 204.43 L 205.22 203.78 L 205.38 203.68 L 205.53 204.8 L 205.68 205 L 205.83 204.45 L 206.29 205.54 L 206.44 205.43 L 206.9 206.12 L 207.05 206.36 L 207.21 205.24 L 207.36 205.8 L 207.51 205.73 L 207.82 206.46 L 207.97 206.62 L 208.12 206.39 L 208.28 207.41 L 208.43 206.66 L 208.58 206.64 L 208.73 206.81 L 208.89 207.42 L 209.04 206.61 L 209.19 206.68 L 209.34 207.27 L 209.5 207.2 L 209.8 208.34 L 210.11 208.55 L 210.41 208.41 L 210.57 209.03 L 211.02 208.66 L 211.18 208.67 L 211.33 209.07 L 211.48 210.26 L 211.63 209.69 L 211.79 210.65 L 211.94 209.47 L 212.09 209.39 L 212.4 210.38 L 212.85 210.52 L 213.16 211.23 L 213.31 210.09 L 213.46 211.06 L 213.62 211.17 L 213.77 210.93 L 213.92 211.73 L 214.23 211.35 L 214.38 211.61 L 214.53 211.19 L 214.84 212.72 L 214.99 211.4 L 215.14 212.32 L 215.3 211.91 L 215.75 212.64 L 216.06 212.24 L 216.21 213.06 L 216.36 212.87 L 216.67 213.94 L 216.82 213.4 L 216.98 213.5 L 217.13 213.34 L 217.28 212.98 L 217.59 213.46 L 217.74 213.51 L 218.04 214.14 L 218.2 214.17 L 218.35 214.38 L 218.5 215.03 L 218.65 214.66 L 218.96 215.7 L 219.11 214.9 L 219.42 215.86 L 220.18 215.6 L 220.33 216.29 L 220.49 215.67 L 220.64 216.5 L 220.79 216.17 L 220.94 216.15 L 221.1 216.77 L 221.25 216.14 L 221.4 216.5 L 221.55 216.38 L 221.71 217.8 L 221.86 217.19 L 222.01 217.87 L 222.16 217.57 L 222.32 218.59 L 222.62 217.15 L 222.77 216.87 L 222.93 217.59 L 223.08 216.59 L 223.23 216.9 L 223.39 218.06 L 223.54 218.02 L 223.69 217.85 L 223.84 217.3 L 224 218.23 L 224.15 218.22 L 224.3 217.63 L 224.45 218.78 L 224.61 217.8 L 224.76 218.91 L 224.91 218.27 L 225.06 218.98 L 225.37 218.27 L 225.52 218.35 L 225.83 218.95 L 225.98 217.57 L 226.13 218.31 L 226.28 218.44 L 226.59 219.61 L 226.74 219.59 L 226.9 219.16 L 227.05 219.59 L 227.2 218.87 L 227.35 219.47 L 227.51 219.5 L 227.66 219.72 L 227.81 221.03 L 228.12 219.87 L 228.27 219.61 L 228.42 220.91 L 228.57 220.82 L 228.73 219.84 L 228.88 220.27 L 229.03 220.1 L 229.18 220.34 L 229.34 220.14 L 229.49 221.31 L 229.79 220.64 L 229.95 220.63 L 230.1 221.07 L 230.25 220.08 L 230.56 221.08 L 230.71 220.92 L 230.86 220.94 L 231.02 221.11 L 231.17 220.73 L 231.32 221.66 L 231.47 221.18 L 231.78 221.99 L 231.93 221.86 L 232.08 221.02 L 232.39 222.18 L 232.54 222.08 L 232.69 222.41 L 233 220.59 L 233.76 222.67 L 233.92 222.42 L 234.07 221.49 L 234.22 221.77 L 234.37 222.59 L 234.53 222.27 L 234.98 222.36 L 235.29 221.85 L 235.44 222.95 L 235.59 222.35 L 235.75 222.72 L 235.9 222.74 L 236.05 221.79 L 236.2 222.16 L 236.36 223.02 L 236.51 222.28 L 236.66 222.84 L 236.82 222.26 L 236.97 222.75 L 237.12 222.76 L 237.27 222.96 L 237.43 222.61 L 237.58 222.66 L 237.73 222.48 L 237.88 222.61 L 238.04 222.44 L 238.34 223.17 L 238.49 222.84 L 238.65 223.43 L 238.8 222.62 L 238.95 222.54 L 239.1 223.58 L 239.26 223.26 L 239.41 223.61 L 239.56 223.04 L 239.72 223.16 L 239.87 223.62 L 240.02 223.13 L 240.33 223.78 L 240.48 222.88 L 240.63 223.48 L 240.94 223.1 L 241.09 222.45 L 241.55 223.08 L 241.7 222.85 L 241.85 222.83 L 242 222.55 L 242.31 223.53 L 242.46 223.48 L 242.61 223.2 L 242.77 223.57 L 242.92 223.52 L 243.07 224.01 L 243.23 223.34 L 243.38 223.32 L 243.53 223.64 L 243.68 222.66 L 243.84 223.6 L 243.99 223.4 L 244.14 223.44 L 244.6 224.09 L 244.75 223.58 L 245.06 224.06 L 245.21 223.71 L 245.36 223.99 L 245.51 223.76 L 245.67 223.75 L 245.82 223.08 L 245.97 223.08 L 246.13 223.61 L 246.28 223.42 L 246.58 224.43 L 246.74 223.7 L 247.04 224.03 L 247.19 223.84 L 247.35 223.91 L 247.5 223.02 L 247.8 224.42 L 247.96 223.58 L 248.11 223.8 L 248.57 223.21 L 248.72 223.48 L 248.87 223.47 L 249.02 224.42 L 249.18 223.61 L 249.33 223.48 L 249.48 223.06 L 249.79 223.59 L 250.09 223.21 L 250.25 223.92 L 250.4 223.71 L 250.55 223.96 L 250.86 223 L 251.01 223.47 L 251.31 222.12 L 251.47 223.63 L 251.62 223.38 L 251.77 222.91 L 252.08 222.7 L 252.54 223.45 L 252.69 222.85 L 252.84 223.25 L 252.99 223 L 253.15 223.51 L 253.3 222.26 L 253.45 223.03 L 253.6 222.85 L 253.76 222.86 L 253.91 223.2 L 254.06 223.12 L 254.21 223.24 L 254.52 222.47 L 254.67 222.9 L 254.82 221.52 L 255.28 223.49 L 255.43 222.06 L 255.59 222.07 L 255.89 222.99 L 256.2 222.83 L 256.35 221.36 L 256.5 221.4 L 256.66 222.41 L 256.81 221.31 L 256.96 222.4 L 257.11 222.13 L 257.27 222.21 L 257.42 222.79 L 257.57 222.52 L 257.72 222.62 L 258.03 221.22 L 258.33 221.83 L 258.49 221.53 L 258.64 221.98 L 258.79 220.53 L 259.1 222.25 L 259.25 221.65 L 259.4 221.65 L 259.56 221.48 L 259.71 221.57 L 259.86 222.33 L 260.01 220.87 L 260.17 220.65 L 260.32 221.09 L 260.47 220.63 L 260.62 221.07 L 260.78 221.06 L 260.93 220.91 L 261.08 221.5 L 261.23 220.33 L 261.39 221.29 L 261.54 219.53 L 261.84 220.65 L 262 220.03 L 262.46 220.41 L 262.61 220.34 L 262.76 219.81 L 262.91 220.57 L 263.07 220.17 L 263.22 220.38 L 263.37 219.56 L 263.52 219.63 L 263.68 220.1 L 263.83 219.71 L 264.13 219.59 L 264.29 219.13 L 264.44 219.36 L 264.74 218.87 L 265.05 218.37 L 265.2 219.16 L 265.35 218.36 L 265.51 218.81 L 265.81 218.78 L 265.97 219.48 L 266.42 218.29 L 266.58 218.35 L 266.73 218.88 L 266.88 218.81 L 267.03 218.26 L 267.19 218.52 L 267.34 218.35 L 267.49 217.67 L 267.64 217.75 L 267.95 218.68 L 268.25 217.08 L 268.41 217.65 L 268.56 217.45 L 268.71 218.25 L 268.87 216.42 L 269.02 217.41 L 269.17 216.59 L 269.32 217.12 L 269.48 216.65 L 269.63 216.81 L 269.78 217.53 L 269.93 216.05 L 270.09 217.27 L 270.24 216.72 L 270.39 216.62 L 270.7 215.78 L 270.85 216.51 L 271.15 215.08 L 271.31 215.38 L 271.46 215.27 L 271.76 215.99 L 272.07 215.52 L 272.22 215.39 L 272.38 215.41 L 272.53 214.67 L 272.68 215.43 L 272.99 215.24 L 273.14 215.83 L 273.29 214.66 L 273.44 215.43 L 273.6 215.15 L 273.75 213.9 L 273.9 214.96 L 274.05 214.03 L 274.21 214.29 L 274.36 214.01 L 274.51 214.03 L 274.66 214.48 L 274.82 212.85 L 274.97 214.41 L 275.12 214.12 L 275.43 212.7 L 275.58 213.54 L 275.73 213.32 L 275.89 212.83 L 276.04 211.92 L 276.19 213.11 L 276.34 213.16 L 276.5 212.45 L 276.65 212.52 L 276.8 211.59 L 276.95 212.26 L 277.11 211.74 L 277.26 211.72 L 277.41 211.55 L 277.56 211.68 L 277.72 211.33 L 277.87 212.02 L 278.17 211.76 L 278.33 211.83 L 278.48 210.9 L 278.63 211.55 L 278.79 211.55 L 278.94 210.83 L 279.09 211.38 L 279.24 210.87 L 279.4 210.89 L 279.55 211.05 L 279.7 209.69 L 279.85 210.38 L 280.01 209.96 L 280.16 210.72 L 280.31 210.43 L 280.46 209.86 L 280.62 209.72 L 280.77 209.97 L 281.07 209.33 L 281.23 209.85 L 281.38 209.4 L 281.53 209.75 L 281.69 209.54 L 281.84 207.89 L 282.14 208.47 L 282.3 207.52 L 282.45 207.99 L 282.75 208.15 L 282.91 208.63 L 283.36 207.88 L 283.67 208.19 L 283.82 207.42 L 283.97 207.42 L 284.28 206.73 L 284.43 207.71 L 284.58 206.3 L 284.74 207.32 L 285.04 206.81 L 285.2 206.25 L 285.5 206.24 L 285.65 206.38 L 285.81 207.03 L 285.96 206.38 L 286.11 206.58 L 286.42 205.68 L 286.57 206.49 L 286.72 205.36 L 286.87 205.77 L 287.03 205.67 L 287.18 203.96 L 287.48 205.08 L 287.64 204.9 L 287.94 205.71 L 288.4 203.98 L 288.55 204.95 L 288.71 203.85 L 288.86 204.34 L 289.01 204.06 L 289.16 204.03 L 289.32 203.68 L 289.47 203.88 L 289.77 202.92 L 289.93 203.72 L 290.08 203.52 L 290.23 203.85 L 290.54 202.48 L 290.69 202.84 L 290.84 202.38 L 290.99 202.82 L 291.15 202.19 L 291.3 202.66 L 291.45 202.24 L 291.61 202.34 L 291.76 202.58 L 291.91 201 L 292.06 201.66 L 292.22 200.65 L 292.37 200.72 L 292.52 201.57 L 292.67 200.92 L 292.83 200.98 L 292.98 200.87 L 293.13 201.23 L 293.28 200.95 L 293.44 201.06 L 293.59 200.66 L 293.74 200.89 L 293.89 200.88 L 294.05 200.73 L 294.2 200.74 L 294.35 199.6 L 294.5 200.1 L 294.66 199.83 L 294.81 198.83 L 294.96 199.68 L 295.12 199.89 L 295.27 199.35 L 295.42 199.46 L 295.57 199.3 L 296.03 198.31 L 296.18 198.84 L 296.34 198.31 L 296.49 198.2 L 296.64 198.92 L 296.95 197.7 L 297.1 198.94 L 297.25 197.56 L 297.4 198.23 L 297.56 197.88 L 297.71 196.86 L 297.86 198.13 L 298.02 197.39 L 298.17 197.74 L 298.32 196.94 L 298.47 197.43 L 298.63 196.65 L 298.78 197.5 L 299.08 196.61 L 299.24 197.17 L 299.39 196.77 L 299.54 196.74 L 299.69 195.65 L 300 196.4 L 300.15 196.48 L 300.3 195.61 L 300.61 195.46 L 300.76 194.79 L 300.91 195.3 L 301.07 193.99 L 301.22 195.26 L 301.68 194.29 L 301.83 193.58 L 301.98 194.57 L 302.14 194.26 L 302.44 194.54 L 302.59 194.05 L 302.75 193.97 L 302.9 194.19 L 303.05 193.98 L 303.2 193.22 L 303.51 193.76 L 303.66 192.98 L 303.81 192.92 L 303.97 193.72 L 304.12 193.59 L 304.27 192.89 L 304.43 192.99 L 304.58 192.52 L 304.73 191.31 L 304.88 191 L 305.04 191.94 L 305.19 191.37 L 305.34 191.3 L 305.65 192.2 L 305.8 191.17 L 305.95 191.25 L 306.1 191.21 L 306.26 191.02 L 306.41 191.41 L 306.56 190.16 L 306.71 190.4 L 306.87 190.99 L 307.02 190.87 L 307.32 190.02 L 307.48 190.29 L 307.63 189.99 L 307.78 190.6 L 308.09 189.67 L 308.24 189.62 L 308.55 188.91 L 308.7 189.77 L 308.85 188.92 L 309.16 188.46 L 309.46 188.94 L 309.61 189.04 L 309.77 187.73 L 310.07 188.06 L 310.22 187.48 L 310.38 188.52 L 310.53 187.47 L 310.68 187.25 L 310.84 187.84 L 310.99 187.65 L 311.14 188.15 L 311.29 186.84 L 311.45 187.3 L 311.75 186.51 L 311.9 186.54 L 312.06 186.37 L 312.21 187.25 L 312.36 186.26 L 312.67 186.15 L 312.82 185.11 L 312.97 185.64 L 313.12 184.81 L 313.28 185.46 L 313.58 184.76 L 313.73 184.76 L 313.89 185.11 L 314.04 184.86 L 314.19 185.11 L 314.35 184.82 L 314.5 184.83 L 314.65 184.6 L 314.8 184.75 L 314.96 184.64 L 315.26 185.44 L 315.41 184.46 L 315.57 184.48 L 315.72 184.38 L 316.02 183.2 L 316.33 184.49 L 316.48 183.75 L 316.63 181.73 L 316.79 182.82 L 317.09 182.77 L 317.4 181.58 L 317.55 182.49 L 317.7 181.81 L 317.86 182.47 L 318.01 182.61 L 318.16 182.95 L 318.31 182.15 L 318.47 182.5 L 318.62 181.62 L 318.77 182.19 L 318.92 181.53 L 319.08 181.56 L 319.23 181.3 L 319.38 181.26 L 319.53 181.51 L 319.84 181.05 L 319.99 181.02 L 320.14 180.62 L 320.3 179.86 L 320.45 180.23 L 320.6 179.81 L 320.76 179.88 L 320.91 180.09 L 321.06 179.77 L 321.21 179.8 L 321.37 179.24 L 321.52 179.71 L 321.67 179.66 L 322.13 178.48 L 322.28 178.49 L 322.43 177.91 L 322.74 178.88 L 322.89 178.51 L 323.04 178.79 L 323.2 178.6 L 323.35 177.97 L 323.5 178.3 L 323.96 176.7 L 324.11 177.67 L 324.42 177.85 L 324.57 177.36 L 324.72 176.3 L 324.88 177.86 L 325.03 177.72 L 325.18 176.95 L 325.49 177.76 L 325.79 176.6 L 325.94 177.38 L 326.1 176.2 L 326.25 176.48 L 326.4 175.85 L 326.86 176.53 L 327.01 176.09 L 327.17 176.1 L 327.32 175.75 L 327.47 176.26 L 327.62 175.92 L 327.78 174.6 L 327.93 175.24 L 328.08 175.38 L 328.23 175.08 L 328.39 175.19 L 328.69 174.7 L 328.84 174.73 L 329 174.34 L 329.15 175.37 L 329.45 173.61 L 329.61 174.07 L 329.76 173.53 L 329.91 174.65 L 330.06 173.53 L 330.37 174.27 L 330.52 174.37 L 330.83 173.74 L 330.98 174.24 L 331.44 173.11 L 331.59 172.75 L 331.74 173.34 L 331.9 173.24 L 332.35 172.21 L 332.66 172.44 L 332.81 173.01 L 332.96 172.52 L 333.27 172.99 L 333.42 172.19 L 333.58 172.41 L 333.73 172.44 L 333.88 172.26 L 334.03 172.8 L 334.19 172.03 L 334.34 171.84 L 334.64 171.03 L 334.8 171.25 L 334.95 171.22 L 335.1 171.95 L 335.25 170.96 L 335.41 172.26 L 335.71 171.05 L 336.02 171.46 L 336.17 170.28 L 336.32 170.71 L 336.47 170.61 L 336.63 170.67 L 336.93 170.2 L 337.09 170.79 L 337.24 170.17 L 337.39 170.55 L 337.54 169.83 L 337.85 170 L 338 170.94 L 338.31 169.31 L 338.46 170.4 L 338.61 169.99 L 338.76 169.26 L 338.92 170.08 L 339.22 170.23 L 339.37 168.99 L 339.53 170.07 L 339.68 169.8 L 339.99 170.12 L 340.29 169.61 L 340.44 170.14 L 340.6 169.44 L 340.75 169.97 L 341.21 167.75 L 341.36 169.55 L 341.66 167.73 L 341.82 169.04 L 341.97 168.34 L 342.27 169.22 L 342.43 168.33 L 342.58 168.95 L 342.73 168.29 L 342.88 169.57 L 343.04 168.41 L 343.19 169.72 L 343.5 167.75 L 343.8 168.38 L 343.95 168.57 L 344.11 168.58 L 344.26 167.32 L 344.56 168.49 L 344.72 168.23 L 344.87 168.49 L 345.02 167.9 L 345.17 168.09 L 345.63 168.04 L 345.78 167.81 L 345.94 168.05 L 346.09 167.76 L 346.24 168.42 L 346.4 167.45 L 346.55 167.93 L 346.7 167.9 L 347.01 167.26 L 347.16 167.74 L 347.46 167.39 L 347.62 167.53 L 347.77 167.38 L 348.07 167.78 L 348.23 167.67 L 348.38 166.81 L 348.53 167.72 L 348.68 167.8 L 348.84 167.01 L 348.99 167.15 L 349.14 167.05 L 349.29 166.79 L 349.45 167.23 L 349.6 167.27 L 349.75 166.97 L 350.06 167.12 L 350.21 167.17 L 350.36 167.45 L 350.52 167.22 L 350.67 167.41 L 350.97 166.53 L 351.28 166.76 L 351.43 166.41 L 351.58 166.53 L 351.74 166.9 L 351.89 166.2 L 352.04 167.18 L 352.19 165.53 L 352.35 166.68 L 352.5 166.45 L 352.65 167.62 L 352.8 166.5 L 352.96 166.49 L 353.11 167.39 L 353.26 166.81 L 353.42 167.28 L 353.57 167.04 L 353.87 165.97 L 354.03 167.06 L 354.18 166.34 L 354.33 166.75 L 354.48 166.34 L 354.64 167.5 L 354.79 167.01 L 354.94 166.15 L 355.09 167.22 L 355.25 166.07 L 355.4 167.24 L 355.55 166.25 L 355.7 166.67 L 356.01 166.75 L 356.32 165.96 L 356.62 166.57 L 356.77 165.21 L 356.93 166.97 L 357.08 166.98 L 357.23 166.29 L 357.38 167.03 L 357.69 166.58 L 357.84 167.14 L 357.99 166.13 L 358.15 167.15 L 358.3 166.93 L 358.45 166.12 L 358.6 167.31 L 358.76 166.29 L 358.91 166.54 L 359.06 166.26 L 359.21 166.39 L 359.52 167.68 L 359.67 166.86 L 359.83 166.72 L 359.98 166.88 L 360.13 167.27 L 360.28 166.84 L 360.44 167.29 L 360.74 166.56 L 360.89 167.63 L 361.05 166.56 L 361.5 167.37 L 361.66 166.83 L 361.81 166.76 L 361.96 167.18 L 362.11 166.15 L 362.27 167.72 L 362.42 167.08 L 362.57 167.89 L 362.73 167.5 L 362.88 167.54 L 363.03 166.55 L 363.18 166.89 L 363.34 166.8 L 363.79 167.82 L 364.1 167.75 L 364.4 167.91 L 364.56 167.42 L 364.86 168.17 L 365.01 167.86 L 365.17 168 L 365.47 167.79 L 365.62 167.3 L 365.78 168.24 L 365.93 168.21 L 366.08 168.04 L 366.24 168.45 L 366.39 168.29 L 366.54 167.74 L 366.69 168.03 L 366.85 168 L 367 167.69 L 367.15 168.29 L 367.3 167.75 L 367.61 167.69 L 367.76 167.99 L 368.22 167.47 L 368.37 167.81 L 368.52 167.55 L 368.68 168.32 L 368.83 167.8 L 368.98 167.74 L 369.14 168.14 L 369.75 167.65 L 370.05 168.16 L 370.2 168.29 L 370.66 168.23 L 370.81 168.46 L 370.97 168.48 L 371.27 168.82 L 371.58 168.71 L 371.73 168.36 L 371.88 168.89 L 372.03 168.71 L 372.19 169.1 L 372.34 168.59 L 372.49 168.6 L 372.65 168.34 L 372.8 168.57 L 372.95 169.1 L 373.1 169 L 373.26 169.28 L 373.71 169.23 L 374.02 169.29 L 374.17 168.8 L 374.32 169.45 L 374.48 169.45 L 374.93 169.87 L 375.09 169.87 L 375.24 170 L 375.39 169.83 L 375.55 169.88 L 375.7 170.1 L 375.85 169.88 L 376 169.93 L 376.31 170.23 L 376.61 170.2 L 376.92 170.71 L 377.07 170.67 L 377.22 170.4 L 377.38 170.95 L 377.53 170.58 L 377.68 170.76 L 377.83 169.78 L 378.14 170.82 L 378.29 170.98 L 378.44 171.4 L 378.6 171.28 L 378.75 170.79 L 379.06 171.33 L 379.36 171.23 L 379.51 171.54 L 379.82 171.38 L 379.97 171.94 L 380.12 171.72 L 380.28 172.34 L 380.43 172.13 L 380.58 171.64 L 380.89 171.74 L 381.04 172.62 L 381.19 172.42 L 381.34 172.47 L 381.5 172.11 L 381.8 172.41 L 381.95 172.28 L 382.11 172.6 L 382.26 172.36 L 382.41 172.66 L 382.57 172.27 L 383.33 173.25 L 383.48 172.82 L 383.63 173.43 L 383.79 172.63 L 384.09 173.34 L 384.24 172.96 L 384.4 173.44 L 384.55 173.27 L 384.7 173.36 L 384.85 172.98 L 385.16 173 L 385.31 173.39 L 385.47 173.11 L 385.62 173.48 L 386.08 173.32 L 386.23 173.82 L 386.38 173.46 L 386.53 174.1 L 386.69 173.74 L 386.84 173.88 L 386.99 173.78 L 387.14 174.01 L 387.3 173.53 L 387.45 173.81 L 387.6 173.6 L 387.75 174.04 L 387.91 174.1 L 388.21 173.7 L 388.36 174.21 L 388.67 173.86 L 388.82 173.83 L 388.98 173.96 L 389.13 173.77 L 389.43 174.16 L 389.74 173.75 L 389.89 174.14 L 390.04 174.19 L 390.35 173.49 L 390.5 174.6 L 390.81 173.91 L 390.96 174.25 L 391.11 173.86 L 391.26 174.02 L 391.42 174.41 L 391.72 174.01 L 391.88 174.27 L 392.03 173.94 L 392.64 174.31 L 392.79 174.16 L 392.94 174.44 L 393.1 173.92 L 393.25 174.39 L 393.55 174.02 L 393.71 174.17 L 393.86 174.51 L 394.32 174.38 L 394.62 174.83 L 394.77 174.22 L 394.93 174.22 L 395.08 173.88 L 395.23 173.84 L 395.39 174.65 L 395.54 174.67 L 395.84 174.31 L 396 174.54 L 396.15 174.55 L 396.3 174.99 L 396.45 174 L 396.61 174.68 L 396.76 174.4 L 396.91 174.49 L 397.06 174.87 L 397.37 174.35 L 397.52 174.68 L 398.13 174.61 L 398.29 175.02 L 398.44 174.98 L 398.59 174.78 L 398.74 175.11 L 399.05 174.59 L 399.35 174.93 L 399.51 174.55 L 399.66 174.68 L 399.81 174.51 L 400.12 174.7 L 400.27 174.78 L 400.42 174.48 L 400.57 174.92 L 401.03 174.52 L 401.34 174.9 L 401.49 174.41 L 401.64 174.67 L 401.8 174.55 L 401.95 174.83 L 402.1 174.32 L 402.25 174.49 L 402.41 174.98 L 402.56 174.93 L 402.86 174.47 L 403.02 174.35 L 403.32 174.98 L 403.47 174.55 L 403.63 174.48 L 403.78 174.94 L 403.93 174.73 L 404.24 174.91 L 404.54 174.34 L 404.7 174.46 L 404.85 175 L 405 174.95 L 405.15 174.6 L 405.31 174.77 L 405.46 174.72 L 405.61 174.1 L 405.76 175.27 L 405.92 174.94 L 406.07 175.06 L 406.22 174.9 L 406.37 174.4 L 406.53 174.7 L 406.98 174.74 L 407.14 174.54 L 407.29 174.04 L 407.44 174.81 L 407.75 174.7 L 407.9 175.21 L 408.05 174.6 L 408.21 174.8 L 408.36 175.26 L 408.66 174.73 L 408.82 175 L 408.97 174.58 L 409.27 175.4 L 409.43 174.81 L 409.58 174.86 L 409.73 174.71 L 409.88 175.16 L 410.04 175.14 L 410.8 174.4 L 410.95 174.69 L 411.1 174.73 L 411.26 174.24 L 411.41 174.67 L 411.56 174.5 L 411.72 174.89 L 412.02 174.74 L 412.17 174.85 L 412.33 174.67 L 412.48 175 L 412.94 174.42 L 413.09 175.39 L 413.39 174.72 L 413.55 175.02 L 413.7 174.79 L 413.85 174.86 L 414 174.81 L 414.16 174.92 L 414.46 174.77 L 414.62 174.96 L 414.77 174.69 L 414.92 174.96 L 415.07 174.89 L 415.23 174.98 L 415.38 174.39 L 415.53 174.76 L 415.68 174.8 L 415.84 174.4 L 415.99 174.66 L 416.14 174.46 L 416.75 175.39 L 416.9 174.37 L 417.06 174.38 L 417.21 174.94 L 417.36 174.4 L 417.51 174.66 L 417.67 174.61 L 417.82 174.38 L 418.13 174.47 L 418.28 174.3 L 418.74 174.93 L 418.89 174.39 L 419.04 175.02 L 419.19 174.76 L 419.5 174.81 L 419.65 174.32 L 419.96 174.72 L 420.11 174.46 L 420.26 174.71 L 420.57 174.06 L 420.72 174.61 L 420.87 174.7 L 421.03 174.53 L 421.18 175.39 L 421.48 175.01 L 421.64 175.08 L 421.79 174.78 L 422.25 174.9 L 422.55 174.56 L 422.7 174.55 L 422.86 174.88 L 423.01 174.8 L 423.16 174.46 L 423.31 174.75 L 423.47 174.55 L 423.62 175 L 424.23 174.6 L 424.38 174.81 L 424.54 174.25 L 424.69 175.09 L 424.84 174.63 L 424.99 175.16 L 425.15 174.79 L 425.3 174.95 L 425.6 174.72 L 426.06 175.01 L 426.37 174.85 L 426.52 174.67 L 426.67 175.37 L 426.82 174.74 L 426.98 174.89 L 427.59 174.63 L 427.74 174.73 L 427.89 174.31 L 428.2 174.75 L 428.35 174.53 L 428.5 174.99 L 428.66 174.84 L 428.81 174.26 L 429.11 175.08 L 429.27 174.51 L 429.42 174.45 L 429.57 174.91 L 429.72 175.01 L 430.03 174.63 L 430.33 175 L 430.49 174.71 L 430.64 174.76 L 430.79 175.3 L 430.95 175.2 L 431.1 174.93 L 431.25 174.9 L 431.4 174.75 L 431.56 174.8 L 431.71 174.51 L 431.86 174.74 L 432.01 174.51 L 432.17 175.11 L 432.32 174.96 L 432.47 174.58 L 432.62 175.17 L 432.78 174.53 L 433.08 174.69 L 433.23 174.75 L 433.39 174.99 L 434 174.49 L 434.15 175.06 L 434.3 174.84 L 434.46 174.95 L 434.61 174.5 L 434.76 174.56 L 435.07 174.12 L 435.37 174.97 L 435.52 174.74 L 435.83 174.96 L 435.98 175.17 L 436.13 174.8 L 436.29 175.15 L 436.44 174.89 L 436.59 174.97 L 436.74 175.49 L 437.05 174.12 L 437.36 175.02 L 437.51 174.76 L 437.66 175.26 L 437.81 174.95 L 437.97 174.92 L 438.12 175.04 L 438.27 174.81 L 438.42 174.93 L 438.58 174.87 L 438.73 174.62 L 438.88 175.03 L 439.34 175.01 L 439.64 175.35 L 439.8 175.03 L 439.95 175.49 L 440.1 175.38 L 440.41 174.47 L 440.56 175.03 L 440.71 174.81 L 440.87 175.19 L 441.02 174.91 L 441.48 175.31 L 441.63 174.61 L 441.78 175.27 L 441.93 174.7 L 442.09 175.27 L 442.39 174.67 L 442.54 174.53 L 442.85 175.54 L 443 174.96 L 443.15 175.35 L 443.31 175.42 L 443.46 175.25 L 443.61 175.29 L 443.77 174.88 L 443.92 175.02 L 444.22 174.98 L 444.38 175.26 L 444.83 174.61 L 445.14 175.04 L 445.29 175.19 L 445.75 174.91 L 445.9 175.33 L 446.05 175.22 L 446.51 175.34 L 446.66 175.09 L 446.82 175.48 L 446.97 175.21 L 447.12 175.5 L 447.28 175.09 L 447.43 175.37 L 447.58 174.92 L 447.73 175.07 L 447.89 174.89 L 448.04 175.32 L 448.34 175.4 L 448.65 174.81 L 448.95 175.04 L 449.11 175.48 L 449.26 174.78 L 449.41 174.74 L 449.72 175.65 L 449.87 175.32 L 450.02 175.3 L 450.18 175.01 L 450.33 175.32 L 450.48 175.36 L 450.63 175.03 L 450.79 175.02 L 450.94 175.18 L 451.24 174.93 L 451.4 175.5 L 451.55 175.32 L 451.85 175.66 L 452.16 175.04 L 452.31 174.82 L 452.46 175.08 L 452.62 175 L 452.92 175.48 L 453.23 175.15 L 453.38 175.5 L 453.53 175 L 453.84 175.42 L 453.99 174.85 L 454.14 175.02 L 454.3 174.78 L 454.45 175.24 L 454.6 175.12 L 454.75 175.5 L 454.91 175.49 L 455.21 174.98 L 455.36 175.35 L 455.52 175.22 L 455.67 175.43 L 455.97 175.19 L 456.13 175.66 L 456.28 175.51 L 456.43 175.75 L 456.74 175.28 L 457.04 175.62 L 457.35 176.04 L 457.65 175.22 L 457.81 175.49 L 457.96 175.34 L 458.26 175.62 L 458.42 175.18 L 458.57 175.3 L 458.72 175.78 L 458.87 175.75 L 459.03 175.26 L 459.18 175.84 L 459.33 175.57 L 459.48 175.65 L 459.64 175.21 L 459.79 175.44 L 459.94 175.46 L 460.1 175.64 L 460.25 174.97 L 460.4 174.82 L 460.55 175.42 L 460.71 175.38 L 461.32 175.81 L 461.47 175.51 L 461.62 175.93 L 461.77 175.74 L 461.93 175.29 L 462.08 175.71 L 462.23 174.96 L 462.38 175.45 L 462.54 175.44 L 462.69 175.21 L 462.84 175.5 L 463 175.45 L 463.15 175.65 L 463.45 175.33 L 463.61 175.69 L 463.91 175.17 L 464.22 175.75 L 464.37 175.4 L 464.52 175.35 L 464.83 175.97 L 465.13 175.43 L 465.28 175.26 L 465.59 175.51 L 465.74 175.82 L 465.89 175.48 L 466.35 176.02 L 466.51 175.34 L 466.66 175.88 L 466.81 175.13 L 466.96 174.95 L 467.27 175.93 L 467.57 175.87 L 467.88 175.3 L 468.03 175.72 L 468.18 175.69 L 468.34 175.77 L 468.49 175.32 L 468.64 175.34 L 468.79 175.72 L 469.1 175.39 L 469.25 175.87 L 469.56 175.48 L 469.71 175.84 L 469.86 175.5 L 470.17 175.94 L 470.32 175.6 L 470.47 175.99 L 470.63 175.57 L 470.78 175.66 L 470.93 175.3 L 471.08 175.69 L 471.24 175.38 L 471.39 175.41 L 471.69 175.13 L 471.85 175.98 L 472 175.73 L 472.15 175.96 L 472.3 175.48 L 472.46 175.38 L 472.61 175.71 L 472.92 175.33 L 473.37 176.32 L 473.68 175.61 L 473.83 176.16 L 473.98 175.7 L 474.29 175.74 L 474.44 175.47 L 474.59 175.77 L 474.75 175.27 L 474.9 175.72 L 475.05 175.4 L 475.2 175.84 L 475.36 175.77 L 475.51 175.95 L 475.66 175.35 L 475.81 175.84 L 475.97 175.76 L 476.12 175.4 L 476.43 175.76 L 476.58 175.78 L 476.73 176.05 L 477.34 175.59 L 477.49 175.62 L 477.8 176.23 L 477.95 176.09 L 478.1 175.58 L 478.26 175.84 L 478.41 175.49 L 478.56 176.16 L 478.71 175.89 L 478.87 175.97 L 479.02 175.77 L 479.33 176.17 L 479.48 175.85 L 479.63 176.35 L 479.94 175.74 L 480.09 176.07 L 480.24 175.79 L 480.39 176.06 L 480.7 175.89 L 481 175.68 L 481.16 175.92 L 481.31 175.35 L 481.61 175.83 L 481.77 175.36 L 481.92 175.82 L 482.07 175.3 L 482.53 175.91 L 482.68 176.01 L 482.99 175.79 L 483.14 175.45 L 483.45 175.88 L 483.6 175.78 L 483.9 176.11 L 484.06 176.13 L 484.21 175.45 L 484.36 175.84 L 484.51 175.34 L 484.67 175.26 L 484.82 175.63 L 484.97 175.51 L 485.12 175.79 L 485.43 175.67 L 485.58 175.75 L 485.74 175.42 L 485.89 175.75 L 486.04 175.48 L 486.19 175.72 L 486.35 175.64 L 486.5 175.35 L 486.65 176.18 L 486.8 175.55 L 486.96 175.93 L 487.11 175.67 L 487.72 176.45 L 487.87 175.34 L 488.33 176.38 L 488.63 175.62 L 488.79 175.84 L 488.94 176.33 L 489.25 175.94 L 489.4 176.05 L 489.55 175.71 L 489.7 176.12 L 489.86 176.03 L 490.01 176.48 L 490.16 175.58 L 490.31 175.67 L 490.62 176.23 L 490.77 175.62 L 490.92 176.28 L 491.23 176.45 L 491.53 176.07 L 491.69 176.24 L 491.84 175.79 L 492.3 175.87 L 492.45 175.88 L 492.6 176.4 L 492.76 176.09 L 492.91 176.42 L 493.21 176.02 L 493.52 176.35 L 493.67 175.75 L 493.82 176.4 L 494.13 176.2 L 494.43 176.07 L 494.59 176.94 L 494.89 175.93 L 495.2 175.74 L 495.66 176.2 L 495.81 176.55 L 496.11 175.82 L 496.42 175.98 L 496.57 175.7 L 496.72 175.8 L 496.88 175.65 L 497.18 176.47 L 497.49 175.76 L 497.64 176.09 L 497.94 175.74 L 498.1 176.65 L 498.25 175.37 L 498.56 175.98 L 498.71 176.19 L 498.86 176.18 L 499.01 174.85 L 499.17 175.75 L 499.32 175.62 L 499.47 176.1 L 499.62 176.12 L 499.78 175.92 L 499.93 176.31 L 500.08 176.07 L 500.23 176.12 L 500.54 175.88 L 500.69 176.07 L 500.84 175.61 L 501 176.11 L 501.15 176.16 L 501.3 176.04 L 501.45 176.07 L 501.61 175.79 L 501.76 176.7 L 501.76 176.7 " clip-path="url(#pb87db20f77)" style="fill: none; stroke: #55a868; stroke-width: 1.4; stroke-linecap: square"/></g><g id="line2d_50"><path d="M 74.43 194.72 L 74.58 194.26 L 74.74 194.45 L 74.89 194.25 L 75.04 194.74 L 75.35 194.2 L 75.5 194.8 L 75.65 194.14 L 76.11 194.64 L 76.26 194.09 L 76.41 194.21 L 76.57 194.13 L 76.87 194.47 L 77.02 194.23 L 77.18 194.51 L 77.33 194.12 L 77.48 194.53 L 77.63 194.41 L 77.79 194.46 L 77.94 193.88 L 78.09 194.34 L 78.25 194.22 L 78.4 193.92 L 78.55 194.02 L 78.7 193.68 L 78.86 193.76 L 79.01 194.01 L 79.16 194.01 L 79.31 194.39 L 79.47 194.19 L 79.77 194.26 L 79.92 194.52 L 80.38 194.25 L 80.69 194.49 L 80.84 194.42 L 80.99 194.22 L 81.15 194.27 L 81.3 194.08 L 81.45 194.33 L 81.6 194.03 L 82.21 194.36 L 82.37 194.06 L 82.67 194.48 L 82.82 194.4 L 82.98 194.12 L 83.13 194.11 L 83.74 194.51 L 83.89 194.25 L 84.04 194.45 L 84.2 194.27 L 84.35 194.46 L 84.5 194.18 L 84.66 194.22 L 84.81 194.54 L 84.96 194.1 L 85.11 194.1 L 85.27 194.44 L 85.57 194.06 L 85.72 194.25 L 85.88 194.07 L 86.03 194.21 L 86.18 194.06 L 86.49 194.35 L 86.79 194.31 L 87.25 194.39 L 87.4 194.32 L 87.56 194.45 L 87.86 194.49 L 88.32 194.55 L 88.62 194.17 L 88.78 194.39 L 88.93 194.18 L 89.08 194.25 L 89.23 194.15 L 89.69 194.36 L 89.84 194.54 L 90.15 193.92 L 90.3 194.29 L 90.45 194.07 L 90.61 194.29 L 90.76 194.19 L 90.91 194.37 L 91.22 194.34 L 91.37 194.73 L 91.52 194.21 L 91.68 194.24 L 91.83 194.65 L 91.98 194.1 L 92.13 194.27 L 93.05 194.1 L 93.2 193.64 L 93.35 193.7 L 93.51 194.11 L 93.97 193.82 L 94.27 194.25 L 94.42 193.81 L 94.58 193.96 L 94.73 194.41 L 94.88 194.45 L 95.34 194.05 L 95.64 194.49 L 95.8 194.18 L 95.95 194.18 L 96.25 194.42 L 96.41 194.18 L 96.71 194.22 L 96.86 193.92 L 97.02 194.16 L 97.17 193.79 L 97.32 193.91 L 97.48 194.23 L 97.78 193.94 L 97.93 194.58 L 98.24 194.02 L 98.39 194.63 L 98.54 194.39 L 98.7 194.6 L 98.85 194.29 L 99 194.66 L 99.46 194.18 L 99.92 194.35 L 100.07 194.48 L 100.22 194.38 L 100.38 194.55 L 100.53 194.32 L 100.68 193.63 L 100.83 193.71 L 100.99 193.91 L 101.29 193.72 L 101.44 193.96 L 101.6 193.58 L 101.75 194.13 L 101.9 194.21 L 102.05 193.89 L 102.21 194.73 L 102.36 194.33 L 102.51 194.62 L 102.82 194.22 L 102.97 194.33 L 103.12 194.27 L 103.27 194.44 L 103.43 194.34 L 103.58 194.6 L 103.73 194.53 L 103.89 194.71 L 104.04 194.23 L 104.19 194.38 L 104.34 193.85 L 104.65 194.02 L 104.8 193.89 L 105.11 194.72 L 105.26 194.35 L 105.41 194.95 L 105.56 194.24 L 105.72 194.2 L 105.87 194.33 L 106.02 194.13 L 106.17 194.34 L 106.33 194.02 L 106.48 194.43 L 106.63 193.87 L 106.78 193.83 L 107.09 194.34 L 107.24 194.05 L 107.4 194.35 L 107.7 194.4 L 107.85 194.5 L 108.01 194.3 L 108.31 194.62 L 108.46 194.45 L 108.62 194.05 L 108.77 194.04 L 108.92 194.34 L 109.23 194.27 L 109.38 194.16 L 109.68 194.44 L 109.84 194.26 L 110.14 193.58 L 110.45 194.45 L 110.6 193.98 L 110.75 194.13 L 111.06 193.89 L 111.52 194.55 L 111.67 194.26 L 111.82 194.56 L 111.97 194.33 L 112.13 194.6 L 112.28 194.46 L 112.43 194.67 L 112.58 194.42 L 112.74 194.41 L 113.04 194.17 L 113.35 194.66 L 113.5 194.15 L 113.65 194.38 L 114.26 193.93 L 114.57 194.02 L 114.72 194.47 L 114.87 194.49 L 115.18 194.33 L 115.33 194.32 L 115.64 194.16 L 115.79 194.26 L 115.94 194.54 L 116.09 194.1 L 116.25 194.07 L 116.4 194.26 L 116.55 194.03 L 117.01 194.6 L 117.47 193.89 L 117.62 194.47 L 117.77 194.41 L 117.93 194.6 L 118.08 194.51 L 118.23 194.25 L 118.54 194.59 L 118.69 193.98 L 118.99 194.25 L 119.15 194.05 L 119.3 194.14 L 119.45 194.67 L 119.76 193.9 L 119.91 194.23 L 120.06 194.23 L 120.22 194.06 L 120.52 194.52 L 120.67 194.34 L 120.83 194.4 L 120.98 194.09 L 121.13 194.5 L 121.28 193.93 L 121.44 194.37 L 121.59 194.11 L 121.74 194.5 L 122.35 194.06 L 122.5 194.26 L 122.96 194.01 L 123.12 194.2 L 123.27 193.94 L 123.42 194.11 L 123.57 194 L 123.73 194.18 L 123.88 194.17 L 124.03 194.41 L 124.18 194.32 L 124.34 194.43 L 124.49 194.2 L 124.79 194.04 L 124.95 194.45 L 125.1 193.59 L 125.25 194.18 L 125.4 193.93 L 125.56 193.95 L 125.71 194.56 L 126.01 193.97 L 126.17 194.78 L 126.32 194.16 L 126.47 194.33 L 126.78 194.04 L 126.93 194.45 L 127.08 194.1 L 127.39 194.37 L 127.54 194.15 L 127.69 193.64 L 127.85 194.16 L 128 194.11 L 128.3 194.42 L 128.61 193.91 L 128.76 194.23 L 128.91 194.18 L 129.07 194.44 L 129.22 194.04 L 129.37 194.84 L 129.53 194.36 L 129.83 194.29 L 129.98 194.5 L 130.14 194.48 L 130.44 194.28 L 130.59 194.47 L 130.75 194.34 L 130.9 193.97 L 131.05 193.93 L 131.36 194.63 L 131.51 194.64 L 131.66 193.94 L 131.81 194.24 L 131.97 194.29 L 132.27 193.77 L 132.42 194.03 L 132.58 194.54 L 132.73 194.31 L 133.49 194.59 L 133.65 194.28 L 133.8 194.28 L 133.95 194.48 L 134.1 194.47 L 134.41 194 L 134.71 194.2 L 134.87 194.78 L 135.02 194.33 L 135.17 194.41 L 135.32 194.26 L 135.48 194.38 L 135.63 194.29 L 135.78 194.36 L 135.93 193.74 L 136.24 194.3 L 136.7 194.12 L 136.85 194.27 L 137 194.21 L 137.16 194.03 L 137.46 194.06 L 137.61 193.82 L 138.07 194.41 L 138.22 194.19 L 138.38 192.8 L 138.83 182.21 L 139.29 169.84 L 139.75 164.21 L 140.36 161.55 L 140.82 161.58 L 140.97 161.7 L 141.43 161.13 L 141.58 161.54 L 141.73 161.13 L 141.89 161.56 L 142.04 161.54 L 142.19 162.03 L 142.5 161.59 L 142.8 162.13 L 143.11 161.84 L 143.41 162.4 L 143.57 162.23 L 143.72 162.47 L 143.87 162.13 L 144.18 162.64 L 144.33 162.5 L 144.48 162.09 L 144.63 162.47 L 144.94 162.14 L 145.09 162.37 L 145.24 162.07 L 145.4 162.29 L 145.55 162.27 L 145.86 162.8 L 146.01 163.12 L 146.16 162.66 L 146.47 162.42 L 146.62 162.34 L 146.77 162.69 L 147.08 162.76 L 147.23 162.7 L 147.38 163.16 L 147.53 162.86 L 147.69 162.98 L 147.84 162.95 L 147.99 162.73 L 148.3 163.32 L 148.45 163.1 L 148.6 163.23 L 149.06 163.08 L 149.21 163.34 L 149.37 163.2 L 149.52 163.25 L 149.67 163.07 L 149.98 163.33 L 150.43 164.08 L 150.59 163.42 L 150.74 163.93 L 151.04 163.69 L 151.2 164.22 L 151.5 164.17 L 151.81 164.43 L 151.96 164.34 L 152.11 164.07 L 152.72 165.01 L 152.88 164.73 L 153.03 164.88 L 153.18 165.22 L 153.33 165 L 154.1 165.34 L 154.25 165.26 L 154.55 165.63 L 154.86 165.77 L 155.01 165.3 L 155.16 166.05 L 155.32 165.57 L 155.78 166.16 L 155.93 166.15 L 156.23 166.56 L 156.39 166.56 L 156.54 167.03 L 156.69 166.66 L 156.84 166.7 L 157 167.63 L 157.3 166.98 L 157.61 167.09 L 157.91 166.95 L 158.06 167.04 L 158.22 166.96 L 158.37 167.39 L 158.52 167.36 L 158.68 167.93 L 158.83 167.84 L 158.98 168.25 L 159.29 167.83 L 159.59 168.56 L 159.74 168.36 L 160.35 168.56 L 160.51 169.34 L 160.66 168.71 L 160.96 169.28 L 161.12 169.04 L 161.42 169.84 L 161.57 169.92 L 161.88 169.72 L 162.03 169.79 L 162.34 170.33 L 162.49 169.98 L 162.64 170.43 L 162.8 170.2 L 163.25 171.1 L 163.41 171.17 L 163.71 171.49 L 163.86 171.47 L 164.02 171.61 L 164.17 171.48 L 164.78 172.12 L 164.93 171.84 L 165.24 172.22 L 165.54 172.1 L 165.85 172.63 L 166.15 172.9 L 166.46 173.07 L 166.61 173.56 L 166.76 173.61 L 166.92 174 L 167.07 173.46 L 167.37 173.7 L 167.53 174.06 L 167.68 174.02 L 168.14 174.82 L 168.29 174.78 L 168.44 174.85 L 168.75 174.69 L 168.9 175.18 L 169.05 175.12 L 169.21 175.26 L 169.51 176.01 L 169.66 175.99 L 169.82 176.19 L 169.97 176 L 170.12 176 L 170.58 176.5 L 170.73 177.03 L 170.88 176.88 L 171.04 177.44 L 171.19 177.23 L 171.34 177.3 L 171.65 177.8 L 171.8 177.48 L 171.95 177.77 L 172.11 177.51 L 172.26 177.62 L 172.56 178.09 L 172.72 178.04 L 173.17 178.79 L 173.48 178.92 L 173.94 179.41 L 174.24 179.71 L 174.39 179.31 L 174.55 179.72 L 174.7 179.71 L 174.85 180.23 L 175.01 180.11 L 175.16 180.45 L 175.31 179.94 L 175.46 180.87 L 175.62 181.04 L 175.77 180.87 L 175.92 181 L 176.07 181.74 L 176.23 181.41 L 176.38 181.36 L 176.53 181.75 L 176.68 181.35 L 177.45 182.5 L 177.6 181.97 L 177.9 182.84 L 178.06 182.7 L 178.21 183.06 L 178.36 183.02 L 178.52 183.49 L 178.67 183.47 L 179.28 183.9 L 179.43 183.7 L 179.74 184.51 L 180.35 184.84 L 180.5 185.33 L 180.65 185.16 L 180.96 185.45 L 181.11 185.48 L 181.26 186.01 L 181.42 185.73 L 181.57 185.83 L 181.72 186.23 L 182.03 186.12 L 182.18 186.57 L 182.33 186.48 L 182.79 187.09 L 182.94 187.08 L 183.09 186.86 L 183.25 187.09 L 183.4 187.59 L 183.55 187.48 L 183.86 187.92 L 184.01 187.8 L 184.31 188.48 L 184.47 188.08 L 184.62 188.79 L 184.77 188.56 L 184.93 189.14 L 185.08 188.96 L 185.38 189.19 L 185.54 189.72 L 185.69 189.5 L 185.84 189.59 L 185.99 189.9 L 186.3 189.89 L 186.45 190.32 L 186.6 190.17 L 186.76 190.39 L 186.91 190.09 L 187.06 190.12 L 187.21 189.97 L 187.52 190.7 L 187.67 190.74 L 187.83 191.31 L 187.98 191.01 L 188.28 191.63 L 188.44 191.48 L 188.59 191.75 L 188.74 191.63 L 188.89 192.18 L 189.05 191.99 L 189.5 193 L 189.66 192.59 L 190.27 193.12 L 190.42 192.98 L 190.72 193.69 L 190.88 193.57 L 191.34 193.93 L 191.49 194.15 L 191.64 194.09 L 191.79 194.54 L 191.95 194.45 L 192.4 194.95 L 192.71 195.22 L 192.86 195.16 L 193.17 195.72 L 193.32 195.45 L 193.47 195.44 L 193.93 196.19 L 194.08 196.33 L 194.39 196.32 L 194.69 196.46 L 194.85 196.96 L 195 196.83 L 195.3 196.88 L 195.46 196.87 L 195.61 197.35 L 195.76 197.37 L 195.91 197.77 L 196.07 197.33 L 196.83 197.86 L 196.98 198.41 L 197.29 198.38 L 197.59 199.11 L 197.75 198.97 L 197.9 199.07 L 198.05 199.01 L 198.2 199.11 L 198.36 199.56 L 198.66 199.62 L 198.97 200.15 L 199.12 200.37 L 199.42 199.95 L 199.58 200.7 L 199.73 200.43 L 199.88 200.45 L 200.19 200.85 L 200.49 201.2 L 200.8 201.15 L 200.95 201.27 L 201.1 201.18 L 201.26 201.38 L 201.41 201.78 L 201.56 201.54 L 201.87 202.33 L 202.02 201.97 L 202.32 202.47 L 202.48 202.34 L 202.63 203.32 L 202.78 203.25 L 202.93 202.85 L 203.24 203.33 L 203.39 203.01 L 203.85 203.96 L 204.16 203.65 L 204.31 204.47 L 204.46 204.29 L 204.77 204.86 L 204.92 204.62 L 205.07 205 L 205.22 204.96 L 205.38 204.71 L 205.53 205.05 L 205.83 205.25 L 206.44 205.89 L 206.6 205.79 L 206.9 206.29 L 207.05 206.16 L 207.21 206.19 L 207.36 206.57 L 207.51 206.64 L 207.67 206.51 L 207.97 207.02 L 208.12 206.91 L 208.43 207.23 L 208.58 206.79 L 208.89 207.53 L 209.04 207.66 L 209.19 207.43 L 209.5 208.24 L 209.65 208.22 L 209.95 208.75 L 210.11 208.73 L 210.57 209.11 L 210.72 208.95 L 210.87 209.44 L 211.02 209.1 L 211.48 210.12 L 211.63 209.59 L 211.79 210.42 L 211.94 210.36 L 212.09 210.11 L 212.55 210.98 L 212.7 210.85 L 213.46 211.14 L 213.77 211.75 L 213.92 211.36 L 214.08 211.93 L 214.23 211.63 L 214.38 211.89 L 214.53 211.71 L 214.69 212.26 L 214.84 212.3 L 215.14 212.84 L 215.3 212.81 L 215.45 213.04 L 215.6 212.97 L 215.75 213.1 L 215.91 212.96 L 216.36 213.67 L 216.67 213.85 L 216.82 213.46 L 217.28 214.23 L 217.43 214.25 L 217.59 214.14 L 217.74 214.79 L 217.89 214.64 L 218.35 214.8 L 218.5 215.17 L 218.65 215.14 L 218.81 215.54 L 218.96 215.59 L 219.11 215.17 L 219.42 216.03 L 219.57 215.56 L 219.87 216.59 L 220.03 216.16 L 220.18 216.15 L 220.33 216.33 L 220.49 216.13 L 220.64 216.51 L 220.79 216.42 L 220.94 216.75 L 221.25 216.42 L 221.71 217.51 L 221.86 217.25 L 222.01 217.51 L 222.16 217.25 L 222.32 217.58 L 222.47 217.41 L 222.62 217.72 L 222.77 217.33 L 222.93 218.04 L 223.08 217.92 L 223.23 217.58 L 223.54 218.49 L 223.84 218.16 L 224 218.07 L 224.15 218.53 L 224.3 218.22 L 224.45 218.82 L 224.61 218.26 L 224.91 218.9 L 225.06 218.82 L 225.22 218.99 L 225.37 219.33 L 225.52 218.78 L 225.83 219.35 L 225.98 218.79 L 226.13 218.91 L 226.59 219.96 L 226.9 219.54 L 227.05 219.71 L 227.2 219.55 L 227.35 220.02 L 227.51 219.81 L 227.66 219.94 L 227.81 220.46 L 227.96 220.53 L 228.27 220.36 L 228.42 220.39 L 228.57 220.57 L 228.88 220.53 L 229.79 221.23 L 229.95 220.89 L 230.1 221.08 L 230.25 220.71 L 230.71 221.66 L 231.17 221.51 L 231.47 221.9 L 231.63 221.79 L 231.93 221.89 L 232.08 221.72 L 232.39 222.4 L 232.54 222.17 L 232.69 222.49 L 232.85 222.35 L 233 221.88 L 233.15 221.95 L 233.46 222.23 L 233.61 222.16 L 233.76 222.44 L 233.92 222.02 L 234.07 222.21 L 234.22 221.9 L 234.37 222.51 L 234.53 222.21 L 234.68 222.61 L 234.83 222.4 L 234.98 222.84 L 235.14 222.56 L 235.44 222.8 L 235.75 222.64 L 235.9 222.77 L 236.05 222.6 L 236.2 222.68 L 236.36 223.23 L 236.51 222.84 L 236.66 223.25 L 236.97 223.02 L 237.12 223.45 L 237.27 223.47 L 237.43 223.21 L 237.58 223.22 L 237.73 222.84 L 238.04 223.14 L 238.19 223 L 238.34 223.46 L 238.49 223.4 L 238.65 223.6 L 238.95 223.22 L 239.1 223.14 L 239.41 223.45 L 239.72 223.67 L 240.02 223.2 L 240.17 223.96 L 240.33 224.11 L 240.48 223.59 L 240.63 224.15 L 240.78 223.67 L 240.94 223.74 L 241.09 223.2 L 241.24 223.2 L 241.39 223.39 L 241.55 223.37 L 241.7 223.61 L 241.85 223.53 L 242 223.29 L 242.16 223.48 L 242.46 224.03 L 242.77 224.03 L 242.92 223.91 L 243.07 224.03 L 243.23 223.85 L 243.38 223.99 L 243.84 223.8 L 243.99 224.17 L 244.14 223.76 L 244.29 224.08 L 244.6 224.04 L 244.75 223.95 L 245.21 224.15 L 245.36 224.4 L 245.51 224.1 L 245.67 224.23 L 245.82 224.17 L 245.97 223.55 L 246.13 224.31 L 246.43 223.9 L 246.74 223.84 L 246.89 224.39 L 247.04 224.38 L 247.19 224.05 L 247.35 224.21 L 247.5 223.89 L 247.65 224.21 L 247.8 224.19 L 247.96 224.03 L 248.72 224.09 L 248.87 223.94 L 249.02 224.21 L 249.18 224.23 L 249.33 223.9 L 249.48 223.93 L 249.64 224.13 L 249.79 223.97 L 249.94 224.07 L 250.09 223.44 L 250.25 224.08 L 250.4 223.46 L 250.55 223.92 L 250.7 223.72 L 250.86 223.86 L 251.01 223.84 L 251.16 223.61 L 251.62 223.72 L 251.77 223.23 L 252.23 223.71 L 252.54 223.61 L 252.69 223.27 L 252.84 223.55 L 252.99 223.35 L 253.15 223.54 L 253.45 223.1 L 253.6 223.37 L 253.91 223.1 L 254.21 223.4 L 254.37 223.02 L 254.67 223.21 L 254.82 222.92 L 255.13 223.51 L 255.28 223.1 L 255.43 223.15 L 255.59 222.75 L 255.74 223.04 L 255.89 222.99 L 256.2 222.72 L 256.35 222.84 L 256.5 222.42 L 256.66 222.51 L 256.96 222.04 L 257.11 222.65 L 257.42 222.57 L 258.03 222.03 L 258.18 222.46 L 258.49 222.3 L 258.64 221.69 L 258.79 221.69 L 258.94 222.24 L 259.1 222.22 L 259.4 221.55 L 259.56 221.54 L 259.71 221.7 L 260.01 221.41 L 260.17 221.46 L 260.32 221 L 260.62 221.51 L 260.78 221.34 L 260.93 221.52 L 261.23 220.86 L 261.39 221.18 L 261.69 220.39 L 262 220.93 L 262.46 220.69 L 262.61 220.68 L 263.07 220.13 L 263.22 220.32 L 263.37 219.66 L 263.68 219.7 L 263.83 219.97 L 263.98 219.48 L 264.13 219.78 L 264.29 219.27 L 264.44 219.35 L 264.59 219.71 L 264.74 219.59 L 264.9 219.09 L 265.2 219.36 L 265.81 218.95 L 265.97 219 L 266.12 218.84 L 266.27 218.46 L 266.42 218.62 L 266.58 218.36 L 266.73 218.52 L 267.34 217.95 L 267.49 217.86 L 267.64 218.04 L 267.8 217.92 L 267.95 218.16 L 268.41 217.62 L 268.56 217.42 L 268.71 217.56 L 268.87 216.97 L 269.02 217.24 L 269.17 217.07 L 269.32 217.11 L 269.48 216.8 L 269.93 217.09 L 270.09 216.7 L 270.24 216.76 L 270.54 216.15 L 270.7 216.68 L 271.15 215.6 L 271.31 215.75 L 271.61 215.66 L 271.76 215.58 L 271.92 215.36 L 272.22 215.82 L 272.53 215.33 L 272.68 215.39 L 272.99 215.09 L 273.14 215.04 L 273.29 214.67 L 273.6 214.7 L 273.9 214.41 L 274.05 213.99 L 274.21 214.24 L 274.36 213.89 L 274.51 213.95 L 274.66 214.29 L 274.82 213.64 L 275.12 213.74 L 275.28 213.62 L 275.43 212.9 L 275.58 213.28 L 275.89 212.65 L 276.04 212.76 L 276.19 213.19 L 276.34 212.81 L 276.65 212.65 L 276.8 212.41 L 276.95 212.55 L 277.11 212.36 L 277.26 211.96 L 277.41 212.51 L 277.72 211.73 L 277.87 211.97 L 278.02 211.81 L 278.17 211.86 L 278.33 211.5 L 278.48 211.58 L 278.79 210.92 L 279.24 210.8 L 279.4 210.67 L 279.55 210.72 L 279.7 210.23 L 279.85 210.42 L 280.01 210.29 L 280.16 210.5 L 280.46 209.48 L 280.77 210.08 L 281.07 209.54 L 281.23 209.3 L 281.38 209.29 L 281.53 209.11 L 281.69 209.16 L 281.99 208.71 L 282.3 208.21 L 282.45 208.51 L 282.6 208.32 L 282.75 208.59 L 283.21 207.87 L 283.36 208.1 L 283.52 207.58 L 283.67 207.91 L 283.97 207.18 L 284.13 207.07 L 284.28 207.23 L 284.43 207.18 L 284.58 206.73 L 284.74 207.05 L 284.89 206.6 L 285.04 206.68 L 285.2 206.44 L 285.35 205.8 L 285.5 205.77 L 285.65 205.87 L 285.81 206.35 L 286.11 205.93 L 286.26 205.74 L 286.42 205.31 L 286.57 205.77 L 286.72 205.26 L 286.87 205.15 L 287.03 205.19 L 287.18 204.62 L 287.33 205.11 L 287.64 204.78 L 287.79 205.14 L 288.1 204.84 L 288.4 204.08 L 288.71 203.93 L 288.86 204.31 L 289.01 203.78 L 289.16 203.84 L 289.62 202.92 L 289.77 203.04 L 289.93 202.9 L 290.08 203.07 L 290.23 202.65 L 290.38 202.75 L 290.54 202.26 L 290.69 202.5 L 290.84 202.15 L 291.15 202.14 L 291.3 201.94 L 291.45 202.01 L 291.61 201.77 L 291.76 201.89 L 291.91 201.22 L 292.06 201.35 L 292.37 200.62 L 292.52 201.49 L 292.98 200.55 L 293.13 200.72 L 293.28 200.43 L 293.44 200.48 L 293.59 200.04 L 293.74 200.15 L 293.89 199.58 L 294.05 200.27 L 294.2 200.16 L 294.35 199.53 L 294.66 199.83 L 294.81 199.09 L 294.96 199.2 L 295.12 199.07 L 295.27 199.17 L 295.57 198.7 L 295.73 198.97 L 295.88 198.38 L 296.03 198.37 L 296.18 197.99 L 296.34 197.93 L 296.49 198.25 L 296.64 198.15 L 296.95 197.57 L 297.1 197.66 L 297.56 197.2 L 297.71 196.94 L 298.17 197.33 L 298.32 196.7 L 298.47 196.76 L 298.78 196.51 L 298.93 196.66 L 299.08 196.33 L 299.24 196.65 L 299.39 196.16 L 299.54 196.17 L 299.69 195.61 L 299.85 195.79 L 300 195.69 L 300.3 195.02 L 300.46 195.11 L 300.91 193.99 L 301.22 194.74 L 301.53 193.67 L 301.68 194.2 L 301.83 193.31 L 301.98 193.96 L 302.14 193.67 L 302.29 193.79 L 302.44 193.6 L 302.59 193.68 L 302.75 193.49 L 302.9 193.5 L 303.05 192.73 L 303.2 193.04 L 303.36 192.69 L 303.66 192.7 L 303.97 192.17 L 304.12 192.19 L 305.04 191.38 L 305.34 190.98 L 305.49 191.03 L 305.65 190.73 L 305.8 190.68 L 305.95 190.35 L 306.1 190.53 L 306.41 190.49 L 306.56 190.26 L 306.71 189.78 L 306.87 190.21 L 307.02 189.77 L 307.17 189.69 L 307.48 189.03 L 307.78 189.69 L 307.94 188.89 L 308.09 188.73 L 308.24 189.04 L 308.55 188.55 L 308.7 188.81 L 308.85 188.06 L 309.16 187.84 L 309.31 187.94 L 309.77 187.45 L 309.92 187.64 L 310.07 187.1 L 310.22 187.23 L 310.38 187.59 L 310.53 186.72 L 310.84 186.91 L 310.99 186.59 L 311.14 186.7 L 311.29 186.11 L 311.45 186.53 L 311.6 186.28 L 311.75 185.81 L 311.9 185.74 L 312.06 185.92 L 312.21 185.89 L 312.36 185.38 L 312.51 185.41 L 312.82 184.87 L 312.97 185.03 L 313.12 184.62 L 313.28 185.16 L 313.43 184.41 L 313.58 184.92 L 314.19 183.92 L 314.5 183.8 L 314.8 183.61 L 315.11 183.87 L 315.26 183.81 L 315.41 183.26 L 315.72 182.96 L 315.87 182.7 L 316.02 182.69 L 316.33 182.85 L 316.48 182.82 L 316.63 182.04 L 316.79 181.86 L 316.94 182.08 L 317.4 181.38 L 317.55 181.72 L 317.86 181.22 L 318.01 181.66 L 318.31 181.11 L 318.47 181.12 L 318.62 180.5 L 318.77 180.63 L 319.08 180.66 L 319.23 180.15 L 319.38 180.03 L 319.53 180.14 L 319.69 180.05 L 319.84 180.18 L 320.3 179.24 L 320.6 179.01 L 320.76 179.18 L 320.91 179.07 L 321.06 178.66 L 321.37 178.88 L 321.67 178.37 L 322.13 178.15 L 322.43 177.49 L 322.74 177.89 L 322.89 177.65 L 323.04 177.89 L 323.2 177.48 L 323.35 177.41 L 323.5 177.05 L 323.65 177.14 L 323.96 176.4 L 324.11 176.78 L 324.27 176.81 L 324.42 176.45 L 324.57 176.43 L 324.72 176.23 L 324.88 176.28 L 325.03 176.03 L 325.18 176.02 L 325.33 176.3 L 325.64 175.71 L 325.79 175.5 L 325.94 175.72 L 326.1 175.6 L 326.25 175.1 L 326.4 175.38 L 326.86 174.79 L 327.01 174.8 L 327.17 174.94 L 327.32 174.52 L 327.47 174.81 L 327.62 174.73 L 327.78 174 L 327.93 174.04 L 328.08 174.37 L 328.54 173.83 L 328.69 173.92 L 328.84 173.32 L 329.15 173.33 L 329.3 173.38 L 329.61 172.93 L 329.76 173.13 L 329.91 172.94 L 330.06 172.94 L 330.22 172.67 L 330.37 172.75 L 330.52 173.07 L 330.68 172.93 L 330.83 172.33 L 330.98 172.65 L 331.13 172.32 L 331.29 172.4 L 331.44 171.93 L 331.59 172 L 331.74 171.95 L 331.9 172.02 L 332.35 171.4 L 332.51 171.8 L 332.66 171.25 L 332.81 171.47 L 332.96 171.45 L 333.12 171.13 L 333.27 171.23 L 333.73 171 L 334.03 171.23 L 334.19 170.65 L 334.34 170.69 L 334.49 170.22 L 334.95 170.33 L 335.1 170.12 L 335.41 170.51 L 335.56 170.24 L 335.71 170.7 L 336.02 169.75 L 336.17 169.77 L 336.32 169.41 L 336.78 169.57 L 336.93 169.27 L 337.09 169.54 L 337.24 169.4 L 337.7 168.54 L 338 169.29 L 338.31 168.65 L 338.46 168.92 L 338.76 168.54 L 338.92 168.96 L 339.07 168.89 L 339.22 168.95 L 339.37 168.5 L 339.68 168.45 L 339.83 168.74 L 339.99 168.54 L 340.29 168.49 L 340.75 168.12 L 341.21 167.95 L 341.36 168.03 L 341.66 167.64 L 341.82 167.76 L 342.58 167.62 L 342.73 167.25 L 342.88 167.78 L 343.04 167.36 L 343.19 167.64 L 343.34 167.05 L 343.5 167.14 L 343.65 167.4 L 343.8 167.27 L 343.95 167.37 L 344.41 166.58 L 344.56 167.26 L 344.72 166.74 L 344.87 167.11 L 345.48 166.5 L 345.78 166.61 L 345.94 166.63 L 346.09 166.4 L 346.24 166.76 L 346.4 166.46 L 346.55 166.57 L 346.85 166.49 L 347.16 165.92 L 347.31 166.05 L 347.46 166.55 L 347.62 166.33 L 347.77 166.53 L 348.07 166.09 L 348.23 166.28 L 348.38 166.18 L 348.84 166.29 L 348.99 165.99 L 349.29 165.87 L 349.45 166.13 L 349.91 165.69 L 350.21 166.08 L 350.36 165.79 L 350.52 165.97 L 350.67 165.89 L 350.82 166.06 L 350.97 165.66 L 351.28 165.85 L 351.43 165.52 L 351.58 165.55 L 351.89 165.25 L 352.04 165.56 L 352.19 165.24 L 352.35 165.74 L 352.5 165.55 L 352.65 165.94 L 352.8 165.65 L 352.96 165.67 L 353.11 165.58 L 353.26 165.35 L 353.42 165.76 L 353.57 165.41 L 353.72 165.64 L 354.03 165.36 L 354.48 165.65 L 354.64 165.36 L 354.79 165.61 L 354.94 165.38 L 355.09 165.73 L 355.25 165.21 L 355.4 165.7 L 355.55 165.32 L 355.7 165.63 L 355.86 165.42 L 356.01 165.48 L 356.16 165.27 L 356.32 165.37 L 356.47 165.08 L 356.77 165.23 L 356.93 165.14 L 357.08 165.61 L 357.23 165.2 L 357.54 165.77 L 357.69 165.45 L 357.84 165.59 L 357.99 165.22 L 358.15 165.63 L 358.45 165.6 L 358.6 166.04 L 358.76 165.62 L 358.91 165.91 L 359.06 165.44 L 359.21 165.39 L 359.52 165.99 L 359.67 165.66 L 359.98 165.51 L 360.28 165.87 L 360.44 165.63 L 360.59 165.79 L 360.74 165.38 L 360.89 165.95 L 361.05 165.97 L 361.2 165.8 L 361.35 165.93 L 361.66 165.65 L 361.96 165.78 L 362.11 165.56 L 362.27 165.7 L 362.42 166.04 L 362.73 165.7 L 362.88 165.88 L 363.18 165.57 L 363.34 165.49 L 363.64 165.85 L 363.79 166.02 L 363.95 165.79 L 364.1 166.02 L 364.25 165.51 L 364.4 165.8 L 364.56 165.77 L 364.71 165.54 L 365.01 165.92 L 365.47 166.15 L 365.62 166.19 L 365.78 165.93 L 365.93 166.31 L 366.39 166.3 L 366.54 166.16 L 366.69 166.77 L 366.85 166.55 L 367.15 166.8 L 367.3 166.73 L 367.46 167.13 L 367.61 166.81 L 367.91 167.39 L 368.07 167.1 L 368.52 168.13 L 368.68 167.91 L 369.14 168.05 L 369.29 168.87 L 369.44 168.7 L 369.59 168.95 L 369.75 168.95 L 370.36 170.46 L 370.97 171.38 L 371.12 171.99 L 371.27 171.49 L 372.19 174.14 L 372.34 174.15 L 372.8 175.83 L 373.26 177.1 L 373.71 179.05 L 374.02 179.63 L 374.32 181.23 L 374.48 181.37 L 374.63 182.56 L 374.78 182.3 L 375.09 183.68 L 375.24 184.09 L 375.55 185.81 L 375.7 185.79 L 376 187.52 L 377.53 193.17 L 377.83 194.63 L 377.99 195.09 L 379.06 201.9 L 379.36 203.85 L 379.67 205.2 L 379.97 207.04 L 380.28 208.27 L 380.43 208.22 L 380.73 210.38 L 382.72 217.76 L 383.18 219.33 L 383.48 220.38 L 383.63 220.76 L 383.94 222.14 L 384.24 222.96 L 384.4 223.89 L 384.55 224.1 L 384.85 224.87 L 385.01 225.21 L 385.47 226.93 L 385.62 227.1 L 385.92 227.59 L 386.38 228.61 L 386.53 228.59 L 386.99 229.51 L 387.14 229.52 L 387.75 230.94 L 387.91 230.65 L 388.06 230.68 L 388.21 231.05 L 388.36 231.01 L 388.67 231.58 L 388.98 231.12 L 389.13 231.35 L 389.43 230.87 L 389.74 230.65 L 390.04 230.87 L 390.35 230.38 L 390.5 230.43 L 390.65 229.74 L 390.81 229.59 L 391.11 229.53 L 391.26 228.52 L 391.42 228.87 L 391.57 228.62 L 391.88 227.93 L 392.03 227.66 L 392.18 227.16 L 392.33 227.06 L 392.49 226.32 L 392.64 226.22 L 392.94 224.48 L 393.1 224.11 L 393.25 222.71 L 393.4 222.53 L 393.71 220.94 L 395.69 210.38 L 396.3 205.9 L 397.22 199.8 L 397.52 197.84 L 397.67 197.08 L 398.29 191.8 L 399.2 187.27 L 400.12 183.58 L 400.27 183.4 L 400.42 182.73 L 400.57 182.6 L 400.73 182.07 L 400.88 182.03 L 401.49 181.18 L 401.64 181.29 L 401.8 180.73 L 402.1 181.35 L 402.41 181.61 L 402.71 181.04 L 402.86 181.77 L 403.02 181.77 L 403.17 182.25 L 403.32 181.87 L 403.63 182.51 L 403.78 182.54 L 403.93 182.69 L 404.54 184.27 L 404.7 184.76 L 404.85 184.44 L 405.15 185.63 L 406.07 188.56 L 406.22 189.36 L 406.37 189.27 L 406.68 190.32 L 406.83 190.66 L 407.29 192.44 L 407.44 192.52 L 407.9 193.31 L 408.05 193.8 L 408.21 193.79 L 408.51 194.85 L 408.82 194.71 L 409.12 195.58 L 409.58 196 L 409.73 196.07 L 409.88 196.7 L 410.04 196.34 L 410.34 197.01 L 410.49 196.74 L 410.65 197.16 L 410.8 197.19 L 410.95 197.8 L 411.1 197.24 L 411.41 197.93 L 411.56 197.47 L 411.87 197.74 L 412.02 197.73 L 412.17 198.3 L 412.33 198.01 L 412.48 198.27 L 412.63 198.27 L 412.78 197.79 L 413.09 198.06 L 413.24 198.27 L 413.39 198.21 L 413.55 198.03 L 413.85 198.58 L 414 198.17 L 414.31 198.04 L 414.46 197.59 L 414.62 198.2 L 414.77 197.94 L 414.92 198.31 L 415.23 197.68 L 415.38 197.55 L 415.53 198.03 L 415.68 197.65 L 415.99 197.78 L 416.14 197.1 L 416.45 197.53 L 416.6 197.27 L 416.75 197.63 L 416.9 196.94 L 417.21 197.3 L 417.51 196.77 L 417.67 196.53 L 417.82 197.06 L 417.97 197.1 L 418.13 197.01 L 418.28 196.5 L 418.43 196.67 L 418.74 196.19 L 419.04 196.3 L 419.19 195.77 L 419.35 195.87 L 419.65 195.27 L 419.8 195.56 L 419.96 195.37 L 420.11 194.6 L 420.26 194.98 L 420.41 194.98 L 420.57 194.66 L 420.87 194.7 L 421.18 194.06 L 421.48 193.97 L 421.64 194.32 L 421.79 194.09 L 421.94 193.45 L 422.09 193.51 L 422.25 193.07 L 422.4 193.15 L 422.55 193.46 L 422.7 193.14 L 422.86 193.39 L 423.31 192.37 L 423.47 192.76 L 423.62 192.7 L 423.77 192.93 L 423.92 192.89 L 424.08 193.4 L 424.38 192.72 L 424.54 192.66 L 424.69 192.8 L 424.84 192.45 L 424.99 192.5 L 425.15 192.81 L 425.45 192.8 L 425.91 192.47 L 426.21 193.1 L 426.37 193.09 L 426.52 192.76 L 426.82 193.04 L 427.28 193.38 L 427.44 193.58 L 427.89 193.55 L 428.2 193.78 L 428.35 193.46 L 428.5 193.85 L 428.66 193.8 L 429.11 194.29 L 429.27 194.13 L 429.42 194.24 L 429.57 193.95 L 429.72 194.32 L 430.33 193.86 L 430.49 193.89 L 430.64 194.51 L 430.79 194.37 L 430.95 194.44 L 431.1 193.98 L 431.25 194.3 L 431.56 194.18 L 431.71 194.61 L 432.01 194.51 L 432.17 194.72 L 432.32 194.47 L 433.23 195.01 L 433.39 195.37 L 433.54 195.05 L 433.69 195.03 L 434 195.37 L 434.61 194.88 L 434.76 195.41 L 434.91 195.23 L 435.07 195.26 L 435.37 195.49 L 435.52 195.59 L 435.68 195.5 L 435.98 195.09 L 436.13 195.47 L 436.29 195.24 L 436.59 195.15 L 436.74 195.31 L 437.05 195.26 L 437.2 195.64 L 437.36 195.35 L 437.51 195.65 L 437.66 195.69 L 437.81 195.5 L 437.97 195.68 L 438.27 195.18 L 438.58 195.45 L 438.73 195.53 L 438.88 195.46 L 439.19 195.11 L 439.49 195.39 L 439.64 195.36 L 439.8 195.12 L 439.95 195.35 L 440.1 195 L 440.26 195.26 L 440.41 194.89 L 440.56 195.32 L 441.17 195.11 L 441.32 194.63 L 441.48 194.97 L 441.63 194.9 L 441.78 195.01 L 441.93 194.52 L 442.24 194.83 L 442.39 195.19 L 442.54 194.7 L 442.7 194.8 L 443 194.59 L 443.15 194.86 L 443.46 194.37 L 443.77 194.52 L 443.92 194.56 L 444.07 194.47 L 444.22 194.67 L 444.38 194.35 L 444.68 194.83 L 444.83 194.63 L 445.14 195.36 L 445.29 194.52 L 445.44 194.39 L 445.6 194.71 L 445.9 194.34 L 446.21 194.49 L 446.51 194.37 L 446.66 194.41 L 446.82 194.26 L 447.12 194.65 L 447.28 194.54 L 447.43 194.76 L 447.58 194.08 L 447.73 194.6 L 448.04 194.2 L 448.5 194.1 L 448.65 194.56 L 448.8 194.39 L 448.95 194.42 L 449.26 194.67 L 449.41 194.39 L 449.56 194.78 L 450.33 194.34 L 450.48 194.25 L 450.79 194.33 L 450.94 194.24 L 451.09 194.72 L 451.24 194.27 L 451.4 194.6 L 451.55 194.35 L 451.85 194.6 L 452.01 194.94 L 452.16 194.29 L 452.31 194.74 L 452.46 194.78 L 452.62 194.48 L 452.77 194.67 L 452.92 194.33 L 453.07 194.35 L 453.38 194.62 L 453.53 194.58 L 453.69 194.97 L 453.84 194.67 L 453.99 194.64 L 454.14 194.74 L 454.3 194.61 L 454.45 194.87 L 454.6 194.35 L 454.75 194.24 L 454.91 194.73 L 455.21 194.29 L 455.52 194.67 L 455.67 194.56 L 455.97 194.15 L 456.13 194.74 L 456.28 194.48 L 456.43 194.57 L 456.74 194.39 L 457.04 194.58 L 457.2 194.11 L 457.35 194.58 L 457.5 194.63 L 457.65 194.36 L 457.96 194.55 L 458.11 194.4 L 458.26 194.8 L 458.42 194.55 L 458.72 194.67 L 458.87 194.8 L 459.03 194.74 L 459.18 195.03 L 459.33 194.77 L 459.79 194.74 L 460.1 194.79 L 460.25 194.64 L 460.4 194.69 L 460.55 194.56 L 460.86 194.89 L 461.01 194.8 L 461.32 194.86 L 461.47 195.21 L 461.93 194.55 L 462.08 194.66 L 462.38 194.39 L 462.54 194.86 L 462.69 194.53 L 463 194.67 L 463.15 194.3 L 463.3 194.92 L 463.45 194.88 L 463.76 194.66 L 463.91 194.76 L 464.06 195.07 L 464.22 194.72 L 464.37 194.74 L 464.52 194.37 L 464.98 195.08 L 465.13 194.76 L 465.28 194.94 L 465.44 194.61 L 465.59 194.57 L 465.74 194.73 L 465.89 194.62 L 466.2 194.78 L 466.35 194.4 L 466.81 194.96 L 467.42 194.36 L 467.57 194.44 L 467.73 194.73 L 467.88 194.26 L 468.18 194.68 L 468.34 194.57 L 468.49 195.01 L 468.64 194.77 L 468.79 194.81 L 468.95 194.54 L 469.1 195 L 469.25 194.81 L 469.41 194.41 L 469.71 194.63 L 469.86 194.22 L 470.02 194.9 L 470.17 194.72 L 470.32 194.89 L 470.47 194.71 L 470.78 194.79 L 470.93 194.57 L 471.08 194.87 L 471.24 194.54 L 471.39 194.69 L 471.54 194.5 L 471.69 194.75 L 471.85 194.73 L 472.15 194.31 L 472.3 194.94 L 472.46 194.63 L 472.61 194.65 L 472.76 195.11 L 472.92 195.07 L 473.07 194.78 L 473.22 194.93 L 473.37 194.78 L 473.53 194.34 L 473.68 194.81 L 473.83 194.77 L 473.98 194.98 L 474.14 194.68 L 474.29 194.65 L 474.44 194.14 L 474.59 194.3 L 474.75 194.81 L 474.9 194.27 L 475.2 194.69 L 475.36 194.56 L 475.81 195.07 L 476.27 194.8 L 476.43 194.78 L 476.58 194.37 L 476.73 194.72 L 476.88 194.44 L 477.04 194.76 L 477.19 194.64 L 477.34 194.83 L 477.49 194.68 L 477.8 195.17 L 478.1 194.72 L 478.26 194.47 L 478.41 194.53 L 478.56 194.77 L 478.71 194.75 L 478.87 195.12 L 479.33 194.39 L 479.63 194.69 L 479.94 194.67 L 480.09 195.13 L 480.24 194.99 L 480.55 194.48 L 481.31 194.76 L 481.46 194.91 L 481.61 194.45 L 481.92 194.76 L 482.07 194.51 L 482.38 194.91 L 482.53 194.69 L 482.68 195.09 L 482.84 194.69 L 482.99 194.86 L 483.14 194.85 L 483.45 194.33 L 483.75 194.83 L 483.9 194.37 L 484.06 194.85 L 484.21 194.59 L 484.36 194.88 L 484.51 194.53 L 484.67 194.62 L 484.82 194.41 L 485.12 194.86 L 485.28 194.41 L 485.43 194.63 L 485.58 195.17 L 485.74 194.88 L 486.04 194.95 L 486.35 194.92 L 486.5 194.87 L 486.8 195.21 L 487.11 194.66 L 487.26 195.12 L 487.41 194.74 L 487.57 194.68 L 487.72 194.83 L 487.87 194.73 L 488.02 194.94 L 488.18 194.88 L 488.33 194.98 L 488.63 194.44 L 488.79 194.82 L 488.94 194.54 L 489.09 195.14 L 489.25 194.83 L 489.4 194.81 L 489.55 194.37 L 489.7 194.83 L 489.86 194.56 L 490.01 195.02 L 490.16 194.59 L 490.31 194.5 L 490.47 194.64 L 490.62 195.17 L 490.77 194.71 L 491.08 194.62 L 491.23 194.77 L 491.38 195.09 L 491.69 194.45 L 491.84 194.72 L 491.99 194.48 L 492.15 194.76 L 492.3 194.74 L 492.45 194.61 L 492.6 194.84 L 492.76 194.21 L 492.91 194.69 L 493.06 194.55 L 493.21 194.65 L 493.37 194.49 L 493.82 194.71 L 493.98 194.33 L 494.13 194.45 L 494.28 195.01 L 494.43 194.99 L 494.59 194.68 L 494.89 194.54 L 495.04 194.89 L 495.2 194.6 L 495.5 194.81 L 496.11 194.54 L 496.27 194.77 L 496.42 194.67 L 496.57 194.82 L 497.18 194.36 L 497.49 194.34 L 497.64 194.55 L 497.79 194.45 L 497.94 194.63 L 498.1 194.45 L 498.25 194.56 L 498.4 194.49 L 498.86 194.81 L 499.01 194.13 L 499.17 194.31 L 499.32 194.22 L 499.62 194.63 L 499.78 194.15 L 499.93 194.9 L 500.23 194.6 L 500.54 194.89 L 500.84 194.72 L 501 194.6 L 501.15 194.33 L 501.3 194.76 L 501.61 194.35 L 501.76 194.45 L 501.76 194.45 " clip-path="url(#pb87db20f77)" style="fill: none; stroke: #c8444c; stroke-width: 1.4; stroke-linecap: square"/></g><g id="line2d_51"><path d="M 74.43 164.36 L 74.58 164.57 L 74.74 164.11 L 74.89 164.54 L 75.04 164.17 L 75.19 164.4 L 75.35 164.36 L 75.65 164.75 L 75.8 163.97 L 75.96 164.24 L 76.11 163.9 L 76.41 164.99 L 76.87 163.98 L 77.33 163.79 L 77.79 164.48 L 77.94 163.92 L 78.25 164.49 L 78.4 163.93 L 78.55 163.89 L 78.7 163.62 L 78.86 164.36 L 79.01 163.86 L 79.31 164.32 L 79.62 164.66 L 79.77 164.67 L 79.92 163.53 L 80.08 164.44 L 80.23 163.66 L 80.53 164.29 L 80.69 164.32 L 80.84 164.14 L 80.99 163.71 L 81.3 164.05 L 81.6 164.73 L 81.76 163.47 L 81.91 164.61 L 82.06 164.83 L 82.21 163.77 L 82.37 164.71 L 82.52 163.99 L 82.67 164 L 82.82 164.35 L 82.98 164.18 L 83.13 165.03 L 83.28 164.92 L 83.59 164.25 L 83.74 164.22 L 83.89 164.04 L 84.2 165.12 L 84.35 164.27 L 84.5 164.48 L 84.81 163.53 L 84.96 164.29 L 85.11 164.14 L 85.27 164.69 L 85.42 164.02 L 85.72 164.14 L 85.88 164.01 L 86.03 164.83 L 86.18 164.14 L 86.33 164.05 L 86.49 163.61 L 86.64 164.84 L 86.94 163.47 L 87.1 164.51 L 87.25 164.58 L 87.56 163.24 L 87.86 164.48 L 88.32 164.49 L 88.47 164.36 L 88.62 163.97 L 89.08 164.49 L 89.23 165.02 L 89.39 164.29 L 89.69 164.57 L 90 164.08 L 90.3 164.44 L 90.61 163.87 L 90.76 164.36 L 90.91 164.32 L 91.07 164.77 L 91.37 164.26 L 91.52 164.24 L 91.83 164.68 L 91.98 164.76 L 92.13 164.2 L 92.29 164.41 L 92.44 163.81 L 92.59 163.85 L 92.74 164.26 L 92.9 163.91 L 93.05 164.21 L 93.2 163.95 L 93.35 164.35 L 93.66 163.78 L 93.81 164.21 L 93.97 163.92 L 94.12 164.45 L 94.27 164.41 L 94.42 165.05 L 94.58 164.47 L 94.73 164.79 L 94.88 164.36 L 95.03 165.22 L 95.49 164.1 L 95.64 164.77 L 95.8 164.34 L 95.95 163.31 L 96.41 165.43 L 96.71 164.26 L 96.86 164.25 L 97.17 163.96 L 97.32 164.36 L 97.48 164.1 L 97.63 165.01 L 97.78 163.47 L 97.93 164.49 L 98.09 164.63 L 98.24 163.85 L 98.39 164.13 L 98.54 163.98 L 98.7 164.55 L 99 164.23 L 99.15 164.94 L 99.31 164.6 L 99.76 164.62 L 99.92 164.66 L 100.07 163.95 L 100.22 164.11 L 100.38 164.04 L 100.68 164.79 L 100.83 164.93 L 100.99 164.31 L 101.14 164.45 L 101.29 163.63 L 101.44 163.54 L 101.6 163.78 L 101.75 164.61 L 101.9 164.77 L 102.05 164.33 L 102.21 164.56 L 102.36 163.74 L 102.66 164.28 L 102.82 164.13 L 102.97 163.69 L 103.12 164.49 L 103.27 164 L 103.43 164.68 L 103.58 164.32 L 103.73 164.47 L 103.89 164.07 L 104.04 164.14 L 104.19 163.85 L 104.65 164.6 L 104.95 164.37 L 105.11 164.4 L 105.26 164.58 L 105.41 163.81 L 105.56 163.76 L 105.87 164.29 L 106.17 164.25 L 106.33 164.33 L 106.48 164.95 L 106.63 164.5 L 106.78 164.96 L 106.94 164.29 L 107.09 164.17 L 107.24 164.87 L 107.4 164.49 L 107.55 164.8 L 107.7 164.79 L 107.85 163.69 L 108.31 164.4 L 108.46 164.17 L 108.62 164.41 L 108.77 164.17 L 108.92 164.61 L 109.07 164.25 L 109.23 164.38 L 109.38 164.78 L 109.53 163.65 L 109.68 163.94 L 109.99 164.91 L 110.14 164.7 L 110.3 164.73 L 110.45 164.59 L 110.6 164.86 L 110.91 164.39 L 111.06 164.41 L 111.21 165.27 L 111.36 164.4 L 111.52 164.6 L 111.67 164.56 L 111.82 164.35 L 111.97 164.55 L 112.13 164.06 L 112.28 164.07 L 112.58 164.55 L 112.74 163.58 L 112.89 163.48 L 113.19 164.22 L 113.35 163.9 L 113.5 163.9 L 113.65 164.72 L 113.81 163.76 L 113.96 164.19 L 114.11 163.62 L 114.26 164.33 L 114.42 164.29 L 114.57 164.49 L 114.87 163.89 L 115.03 164.65 L 115.33 164.26 L 115.48 164.63 L 115.64 163.68 L 115.79 164.91 L 115.94 163.48 L 116.09 164.64 L 116.4 163.68 L 116.55 164 L 116.71 164.73 L 117.01 164.39 L 117.32 163.99 L 117.62 163.89 L 117.77 164.71 L 117.93 163.93 L 118.08 164.94 L 118.23 164.24 L 118.54 164.74 L 118.69 163.75 L 118.84 164.13 L 118.99 163.85 L 119.15 164.89 L 119.3 164.83 L 119.45 164.45 L 119.6 164.62 L 119.76 164.29 L 119.91 164.5 L 120.06 164.38 L 120.22 164.69 L 120.37 163.91 L 120.67 165.03 L 120.83 164.39 L 121.44 164.72 L 121.59 164.52 L 121.74 165.13 L 122.35 163.82 L 122.5 164.29 L 122.66 164.33 L 122.81 163.91 L 122.96 164.57 L 123.12 164.26 L 123.27 164.33 L 123.42 164.86 L 123.57 164.08 L 123.73 163.96 L 123.88 164.39 L 124.18 164.48 L 124.49 163.03 L 124.64 163.47 L 124.79 163.23 L 124.95 164.45 L 125.1 163.56 L 125.25 163.4 L 125.4 163.6 L 125.56 164.61 L 125.71 163.9 L 125.86 164.28 L 126.01 163.8 L 126.17 164.48 L 126.32 164.36 L 126.47 164.62 L 126.63 164.16 L 126.78 164.34 L 126.93 164.01 L 127.39 164.46 L 127.54 164.46 L 127.85 163.93 L 128 164.32 L 128.3 164.25 L 128.46 164.06 L 128.61 164.25 L 128.76 164.82 L 128.91 164.08 L 129.07 164.16 L 129.22 164.66 L 129.37 163.53 L 129.53 164.76 L 129.68 164.18 L 129.83 164.49 L 129.98 164.31 L 130.14 163.89 L 130.29 163.88 L 130.75 164.69 L 131.05 163.96 L 131.36 164.48 L 131.81 163.81 L 131.97 164.71 L 132.12 164.11 L 132.27 164.22 L 132.58 164.64 L 132.73 163.79 L 133.04 164.36 L 133.19 164.3 L 133.34 164.02 L 133.49 164.36 L 133.65 163.72 L 133.95 164.52 L 134.1 164.37 L 134.26 164.72 L 134.41 164.5 L 134.56 163.91 L 134.71 163.78 L 135.17 164.88 L 135.32 164.8 L 135.48 164.22 L 135.63 164.35 L 135.78 164.64 L 135.93 164.5 L 136.09 163.77 L 136.39 164.51 L 136.55 164.37 L 136.7 163.99 L 136.85 164.44 L 137 164.54 L 137.16 165.08 L 137.46 164.93 L 137.61 165.05 L 137.77 164.25 L 137.92 164.13 L 138.07 164.57 L 138.22 164.12 L 138.38 165.16 L 138.53 167.5 L 139.6 196.08 L 139.75 196.38 L 139.9 197.07 L 140.06 196.62 L 140.21 197.29 L 140.36 196.5 L 140.67 197.49 L 140.82 196.74 L 140.97 197.44 L 141.28 196.23 L 141.43 196.34 L 141.58 196.84 L 141.73 196.55 L 142.04 196.62 L 142.34 196.01 L 142.5 195.91 L 142.65 196.68 L 142.8 196.8 L 143.11 196.37 L 143.26 197.2 L 143.57 195.79 L 143.72 197 L 144.02 196.93 L 144.18 196.35 L 144.48 196.24 L 144.63 196.64 L 144.79 195.82 L 145.24 196.48 L 145.4 196.37 L 145.55 197.27 L 145.7 197.26 L 146.01 196.76 L 146.16 197.49 L 146.47 195.95 L 146.62 196.43 L 146.77 195.97 L 146.92 197.51 L 147.23 195.89 L 147.38 195.68 L 147.53 196.45 L 147.69 196.64 L 147.84 196.18 L 147.99 196.72 L 148.14 196.38 L 148.3 196.84 L 148.45 196.2 L 148.6 196.18 L 148.75 195.45 L 149.06 196.27 L 149.21 196.13 L 149.37 196.58 L 149.52 196.14 L 149.67 196.32 L 149.98 195.89 L 150.13 196.89 L 150.28 195.98 L 150.43 195.76 L 150.59 196.49 L 150.74 195.48 L 150.89 196.57 L 151.04 195.45 L 151.2 196.02 L 151.35 195.83 L 151.5 195.93 L 151.65 195.61 L 151.81 196.48 L 151.96 196.5 L 152.11 196.91 L 152.27 195.91 L 152.42 196.27 L 152.57 195.68 L 152.72 195.7 L 152.88 196.31 L 153.03 195.44 L 153.33 195.68 L 153.49 195.67 L 153.64 195.9 L 153.79 195.87 L 153.94 195.39 L 154.1 196.1 L 154.25 196.2 L 154.4 196.09 L 154.55 195.46 L 154.71 195.9 L 154.86 194.93 L 155.01 196.7 L 155.16 195.83 L 155.47 195.48 L 155.62 195.15 L 155.93 196.08 L 156.23 195 L 156.39 196.45 L 156.54 195.34 L 156.69 195.5 L 156.84 195.94 L 157 195.82 L 157.15 195.53 L 157.45 195.83 L 157.61 196.17 L 157.76 195.56 L 157.91 195.79 L 158.06 195.47 L 158.22 195.8 L 158.52 195.46 L 158.68 195.61 L 158.83 195.34 L 158.98 196 L 159.13 195.32 L 159.29 195.37 L 159.44 195.62 L 159.59 195.4 L 159.74 196.47 L 159.9 195.58 L 160.05 195.84 L 160.2 196.54 L 160.35 195.54 L 160.51 196.01 L 160.66 195.78 L 160.81 196.02 L 160.96 195.64 L 161.42 195.45 L 161.57 195.51 L 161.73 196.69 L 161.88 195.74 L 162.19 196.07 L 162.34 195.29 L 162.49 195.5 L 162.64 196.24 L 162.8 196.25 L 162.95 195.56 L 163.1 196.01 L 163.25 195.67 L 163.41 196.11 L 163.71 195.02 L 163.86 195.64 L 164.02 195.48 L 164.17 194.73 L 164.32 195 L 164.47 194.88 L 164.63 195.22 L 164.78 194.88 L 164.93 195.81 L 165.09 195.52 L 165.24 195.92 L 165.39 194.64 L 165.54 195.55 L 166 195.79 L 166.15 196.49 L 166.31 194.69 L 166.46 195.5 L 166.61 195.37 L 166.76 195.93 L 167.07 195.35 L 167.22 195.42 L 167.37 195.11 L 167.53 195.68 L 167.83 195.07 L 168.29 195.28 L 168.44 195.59 L 168.6 195.16 L 168.9 195.84 L 169.05 195.03 L 169.21 195.75 L 169.66 194.77 L 169.82 195.24 L 170.12 194.88 L 170.43 195.56 L 170.58 195.23 L 170.73 195.22 L 170.88 195.07 L 171.04 194.6 L 171.34 195.29 L 171.49 195.16 L 171.65 194.47 L 171.8 195.38 L 171.95 195.18 L 172.11 195.38 L 172.26 194.98 L 172.41 195.66 L 172.56 195.14 L 172.72 195.1 L 172.87 195.65 L 173.02 195.63 L 173.17 195.84 L 173.33 195.26 L 173.48 195.61 L 173.78 195.15 L 173.94 195.2 L 174.24 194.53 L 174.39 196.07 L 174.7 195.31 L 174.85 195.77 L 175.16 195.16 L 175.31 194.69 L 175.46 194.71 L 175.62 195.13 L 175.77 194.86 L 176.07 195 L 176.38 195.71 L 176.68 194.98 L 176.84 195.07 L 176.99 195.93 L 177.14 195.23 L 177.29 195.37 L 177.45 195.01 L 177.6 195.38 L 177.75 194.55 L 177.9 195.02 L 178.21 194.6 L 178.36 195.66 L 178.67 194.63 L 178.82 195.11 L 178.97 194.62 L 179.13 194.94 L 179.28 195.52 L 179.43 195.38 L 179.89 194.5 L 180.04 195.22 L 180.19 194.39 L 180.35 195.21 L 180.5 194.84 L 180.65 194.98 L 180.8 194.83 L 180.96 195 L 181.11 194.58 L 181.26 195.2 L 181.42 194.65 L 181.72 194.85 L 181.87 195.33 L 182.03 194.72 L 182.18 194.8 L 182.33 194.59 L 182.64 194.91 L 182.79 194.6 L 182.94 194.56 L 183.09 194.64 L 183.25 194.41 L 183.4 195.37 L 183.55 194.31 L 183.7 196.09 L 183.86 194.7 L 184.01 195.4 L 184.16 194.37 L 184.31 195.38 L 184.47 194.62 L 184.62 195.32 L 184.77 195.32 L 184.93 194.6 L 185.08 194.56 L 185.23 195.09 L 185.38 193.89 L 185.54 194.86 L 185.69 194.14 L 185.84 195.03 L 185.99 195.02 L 186.15 194.7 L 186.3 195.21 L 186.45 194.72 L 186.6 195.58 L 186.76 194.69 L 187.06 195.32 L 187.21 194.83 L 187.52 194.77 L 187.67 194.25 L 187.98 194.55 L 188.13 194.22 L 188.28 194.62 L 188.44 194.23 L 188.59 194.75 L 188.74 194.45 L 188.89 194.47 L 189.2 194.95 L 189.5 194.67 L 189.66 194.2 L 189.96 194.7 L 190.42 193.96 L 190.57 194.66 L 190.72 194.29 L 190.88 194.29 L 191.03 194.87 L 191.18 194.53 L 191.34 195.1 L 191.64 194.83 L 191.79 195.55 L 192.25 194.41 L 192.4 194.68 L 192.56 194.21 L 192.71 194.58 L 192.86 194.48 L 193.01 194.22 L 193.32 194.74 L 193.47 194.86 L 193.78 194.26 L 193.93 194.9 L 194.24 195.01 L 194.39 194.01 L 194.54 194.98 L 194.69 195.04 L 195 193.93 L 195.15 194.82 L 195.3 194.45 L 195.46 194.92 L 195.61 194.76 L 195.76 194.09 L 195.91 194.68 L 196.07 194.69 L 196.37 194.19 L 196.52 194.31 L 196.68 194.79 L 196.83 194.86 L 196.98 193.72 L 197.13 194.79 L 197.29 194.19 L 197.44 195.02 L 197.59 194.34 L 197.9 194.81 L 198.05 194.04 L 198.2 195.13 L 198.36 194.78 L 198.66 194.98 L 198.81 194.9 L 198.97 195.09 L 199.12 194.71 L 199.27 193.89 L 199.42 195 L 199.73 194.65 L 199.88 194.56 L 200.03 194.08 L 200.49 194.35 L 200.64 193.6 L 200.8 194.87 L 200.95 194.83 L 201.26 194.27 L 201.56 194.65 L 201.71 194.88 L 201.87 194.62 L 202.02 194.89 L 202.17 194.83 L 202.32 194.95 L 202.48 193.94 L 202.63 194.22 L 202.78 193.8 L 202.93 194.74 L 203.09 194.5 L 203.24 194.53 L 203.39 194.45 L 203.7 194.63 L 203.85 195.33 L 204.16 194.33 L 204.31 195.3 L 204.61 194.2 L 204.77 193.93 L 204.92 194.5 L 205.07 194.28 L 205.22 193.67 L 205.38 193.81 L 205.53 194.6 L 205.68 194.74 L 205.83 194.06 L 206.29 194.44 L 206.44 194.38 L 206.6 194.79 L 206.75 194.85 L 206.9 194.68 L 207.05 195.05 L 207.21 193.9 L 207.36 194.08 L 207.51 193.95 L 207.67 194.59 L 207.97 194.45 L 208.12 194.34 L 208.28 195.21 L 208.43 194.28 L 208.58 194.7 L 208.73 194.44 L 208.89 194.74 L 209.04 193.8 L 209.34 194.28 L 209.5 193.8 L 209.8 194.71 L 209.95 194.57 L 210.11 194.67 L 210.41 194.3 L 210.57 194.77 L 210.72 194.78 L 210.87 194.26 L 211.02 194.4 L 211.18 194.11 L 211.33 194.41 L 211.48 194.99 L 211.63 194.95 L 211.79 195.08 L 211.94 193.96 L 212.24 194.45 L 212.4 194.74 L 212.55 194.32 L 212.7 194.55 L 212.85 194.47 L 213.01 194.95 L 213.16 194.97 L 213.31 193.88 L 213.46 194.77 L 213.77 194.02 L 213.92 195.21 L 214.08 194.34 L 214.23 194.57 L 214.38 194.57 L 214.53 194.33 L 214.84 195.26 L 214.99 193.67 L 215.14 194.33 L 215.3 193.94 L 215.45 194.04 L 215.6 194.46 L 215.91 194.22 L 216.06 193.85 L 216.21 194.24 L 216.36 194.04 L 216.52 194.77 L 216.67 194.94 L 217.13 194.34 L 217.28 193.59 L 217.59 194.18 L 217.74 193.57 L 217.89 194.23 L 218.35 194.42 L 218.5 194.7 L 218.65 194.37 L 218.96 194.96 L 219.11 194.58 L 219.42 194.68 L 219.57 195.1 L 219.87 193.93 L 220.03 194.27 L 220.18 194.3 L 220.33 194.81 L 220.49 194.39 L 220.64 194.84 L 220.94 194.25 L 221.1 195.05 L 221.25 194.57 L 221.4 194.55 L 221.55 194.17 L 221.71 195.14 L 221.86 194.79 L 222.01 195.21 L 222.16 195.16 L 222.32 195.86 L 222.62 194.28 L 222.93 194.41 L 223.08 193.52 L 223.39 194.76 L 223.54 194.37 L 223.69 194.42 L 223.84 193.98 L 224 195.01 L 224.3 194.26 L 224.45 194.81 L 224.61 194.39 L 224.76 195.06 L 224.91 194.22 L 225.06 195.01 L 225.37 193.79 L 225.67 194.59 L 225.83 194.44 L 225.98 193.63 L 226.13 194.25 L 226.28 194.06 L 226.44 194.51 L 226.59 194.5 L 226.74 194.76 L 226.9 194.47 L 227.05 194.72 L 227.2 194.17 L 227.66 194.63 L 227.81 195.43 L 228.12 194.3 L 228.27 194.1 L 228.42 195.37 L 228.57 195.09 L 228.73 194.18 L 228.88 194.59 L 229.03 194.32 L 229.18 194.51 L 229.34 194.21 L 229.49 195.1 L 229.79 194.26 L 230.1 194.85 L 230.25 194.22 L 230.41 194.2 L 230.56 194.64 L 230.71 194.11 L 230.86 194.17 L 231.02 194.48 L 231.17 194.07 L 231.32 194.79 L 231.47 194.12 L 231.78 194.93 L 231.93 194.82 L 232.08 194.15 L 232.24 194.73 L 232.39 194.63 L 232.69 194.77 L 233 193.55 L 233.31 194.29 L 233.46 194.31 L 233.76 195.08 L 233.92 195.25 L 234.07 194.13 L 234.37 194.92 L 234.53 194.91 L 234.68 194.55 L 234.83 194.72 L 235.29 193.93 L 235.44 194.99 L 235.59 194.52 L 235.75 194.93 L 235.9 194.82 L 236.05 194.03 L 236.36 194.63 L 236.51 194.29 L 236.66 194.45 L 236.82 194 L 236.97 194.58 L 237.12 194.16 L 237.27 194.34 L 237.58 194.29 L 237.73 194.49 L 238.04 194.14 L 238.19 194.67 L 238.34 194.56 L 238.49 194.29 L 238.65 194.68 L 238.8 194.09 L 238.95 194.17 L 239.1 195.29 L 239.26 194.77 L 239.41 195.01 L 239.56 194.37 L 239.72 194.34 L 239.87 195.06 L 240.17 194.49 L 240.33 194.52 L 240.48 194.13 L 240.63 194.18 L 240.78 194.45 L 241.09 194.1 L 241.55 194.55 L 241.7 194.09 L 242 194.11 L 242.16 194.51 L 242.31 194.49 L 242.61 194.02 L 242.77 194.4 L 242.92 194.46 L 243.07 194.84 L 243.38 194.18 L 243.53 194.58 L 243.68 193.58 L 243.84 194.65 L 243.99 194.09 L 244.14 194.54 L 244.29 194.45 L 244.45 194.88 L 244.6 194.9 L 244.75 194.48 L 244.9 194.77 L 245.06 194.82 L 245.21 194.41 L 245.51 194.51 L 245.67 194.37 L 245.82 193.76 L 245.97 194.38 L 246.13 194.15 L 246.28 194.21 L 246.58 195.38 L 246.89 194.37 L 247.19 194.64 L 247.35 194.55 L 247.5 193.98 L 247.8 195.08 L 247.96 194.4 L 248.11 194.61 L 248.26 194.5 L 248.57 194.05 L 248.87 194.38 L 249.02 195.06 L 249.18 194.23 L 249.33 194.43 L 249.48 193.97 L 249.64 194.1 L 249.79 194.47 L 249.94 194.13 L 250.09 194.61 L 250.25 194.69 L 250.4 195.1 L 250.7 194.53 L 250.86 193.98 L 251.01 194.48 L 251.31 193.33 L 251.47 194.76 L 251.62 194.51 L 251.77 194.53 L 252.08 193.88 L 252.54 194.69 L 252.69 194.42 L 252.84 194.55 L 252.99 194.51 L 253.15 194.83 L 253.3 193.9 L 253.45 194.79 L 253.6 194.33 L 253.76 194.46 L 253.91 194.94 L 254.06 194.62 L 254.37 194.73 L 254.52 194.22 L 254.67 194.54 L 254.82 193.45 L 255.28 195.24 L 255.43 193.76 L 255.89 194.85 L 256.2 194.96 L 256.35 193.37 L 256.5 193.83 L 256.66 194.75 L 256.81 193.91 L 256.96 195.21 L 257.11 194.33 L 257.27 194.43 L 257.42 195.07 L 257.57 194.94 L 257.72 195.15 L 258.18 194.06 L 258.33 194.28 L 258.49 194.08 L 258.64 195.14 L 258.79 193.7 L 259.1 194.88 L 259.25 194.68 L 259.4 194.95 L 259.71 194.73 L 259.86 195.66 L 260.01 194.31 L 260.17 194.04 L 260.32 194.95 L 260.47 194.13 L 260.78 194.57 L 260.93 194.24 L 261.08 195.17 L 261.23 194.32 L 261.39 194.96 L 261.54 193.72 L 261.69 194.85 L 261.84 194.84 L 262 193.95 L 262.46 194.57 L 262.61 194.5 L 262.76 194.13 L 262.91 194.97 L 263.52 194.76 L 263.68 195.25 L 263.83 194.59 L 263.98 195.05 L 264.13 194.66 L 264.44 194.86 L 264.74 194.13 L 264.9 194.25 L 265.05 194.03 L 265.2 194.64 L 265.35 193.96 L 265.51 194.52 L 265.81 194.68 L 265.97 195.33 L 266.42 194.52 L 266.88 195.32 L 267.03 194.91 L 267.19 195.38 L 267.34 195.25 L 267.49 194.66 L 267.64 194.56 L 267.95 195.37 L 268.1 194.53 L 268.25 194.34 L 268.41 194.87 L 268.56 194.88 L 268.71 195.53 L 268.87 194.29 L 269.02 195.01 L 269.17 194.37 L 269.32 194.86 L 269.48 194.69 L 269.63 194.76 L 269.78 195.42 L 269.93 193.81 L 270.09 195.42 L 270.24 194.81 L 270.39 195.09 L 270.54 194.73 L 270.7 193.95 L 270.85 195.05 L 271.15 194.33 L 271.31 194.47 L 271.46 194.37 L 271.76 195.27 L 271.92 195.17 L 272.22 194.42 L 272.38 194.68 L 272.53 194.19 L 272.68 194.89 L 272.99 194.99 L 273.14 195.64 L 273.29 194.84 L 273.44 195.56 L 273.6 195.29 L 273.75 194.19 L 273.9 195.4 L 274.05 194.89 L 274.51 194.93 L 274.66 195.03 L 274.82 194.06 L 274.97 195.54 L 275.12 195.22 L 275.28 194.33 L 275.73 195.19 L 275.89 195.03 L 276.04 194.01 L 276.34 195.2 L 276.5 194.52 L 276.65 194.73 L 276.8 194.02 L 276.95 194.57 L 277.11 194.23 L 277.26 194.61 L 277.41 193.9 L 277.56 194.47 L 277.72 194.45 L 277.87 194.9 L 278.17 194.75 L 278.33 195.18 L 278.48 194.17 L 278.79 195.48 L 278.94 194.77 L 279.09 195.28 L 279.24 194.93 L 279.55 195.17 L 279.7 194.31 L 279.85 194.81 L 280.01 194.52 L 280.31 195.41 L 280.46 195.22 L 280.77 194.74 L 281.07 194.64 L 281.23 195.4 L 281.38 194.96 L 281.53 195.5 L 281.69 195.23 L 281.84 193.94 L 282.14 194.9 L 282.3 194.15 L 282.6 194.55 L 282.75 194.41 L 282.91 195.08 L 283.06 194.98 L 283.21 195.18 L 283.36 194.62 L 283.52 195.34 L 283.82 194.75 L 283.97 195.09 L 284.13 194.84 L 284.28 194.35 L 284.43 195.38 L 284.58 194.42 L 284.74 195.13 L 284.89 195.3 L 285.2 194.66 L 285.35 195.25 L 285.81 195.53 L 285.96 195.2 L 286.11 195.5 L 286.42 195.22 L 286.57 195.57 L 286.72 194.95 L 286.87 195.47 L 287.03 195.32 L 287.18 194.19 L 287.33 194.41 L 287.48 195.09 L 287.64 194.98 L 287.94 195.58 L 288.1 195.11 L 288.25 195.17 L 288.4 194.75 L 288.55 195.83 L 288.71 194.77 L 289.16 195.03 L 289.32 195.05 L 289.47 195.43 L 289.77 194.73 L 289.93 195.67 L 290.08 195.3 L 290.23 196.05 L 290.54 195.06 L 290.69 195.19 L 290.84 195.09 L 290.99 195.47 L 291.15 194.9 L 291.3 195.57 L 291.45 195.08 L 291.76 195.54 L 291.91 194.63 L 292.06 195.16 L 292.22 194.62 L 292.37 194.94 L 292.52 194.93 L 292.67 194.56 L 293.13 195.36 L 293.59 195.47 L 293.74 195.59 L 293.89 196.15 L 294.05 195.31 L 294.2 195.42 L 294.35 194.92 L 294.5 195.17 L 294.81 194.59 L 295.12 195.67 L 295.27 195.02 L 295.42 195.51 L 295.57 195.44 L 295.73 194.83 L 295.88 195.07 L 296.03 194.79 L 296.18 195.7 L 296.49 194.8 L 296.64 195.62 L 296.79 195.03 L 296.95 194.98 L 297.1 196.13 L 297.25 194.88 L 297.4 195.79 L 297.56 195.53 L 297.71 194.77 L 297.86 195.94 L 298.02 195 L 298.17 195.26 L 298.32 195.09 L 298.47 195.52 L 298.63 194.87 L 298.78 195.83 L 298.93 195.24 L 299.08 195.13 L 299.39 195.45 L 299.54 195.42 L 299.69 194.89 L 300.15 195.97 L 300.46 195.25 L 300.61 195.51 L 300.76 195.01 L 300.91 196.16 L 301.07 194.46 L 301.37 195.69 L 301.53 195.89 L 301.68 194.95 L 301.83 195.12 L 301.98 195.46 L 302.29 195.46 L 302.44 195.79 L 302.59 195.22 L 302.9 195.53 L 303.05 196.09 L 303.2 195.03 L 303.51 195.95 L 303.66 195.13 L 303.81 195.43 L 303.97 196.39 L 304.12 196.25 L 304.27 195.67 L 304.43 195.93 L 304.58 195.51 L 304.73 194.46 L 304.88 194.3 L 305.04 195.41 L 305.19 195.1 L 305.34 195.17 L 305.65 196.32 L 305.8 195.35 L 305.95 195.75 L 306.26 195.38 L 306.41 195.77 L 306.56 194.75 L 306.71 195.48 L 307.02 195.94 L 307.17 195.6 L 307.32 195.6 L 307.48 196.1 L 307.63 195.49 L 307.94 196.08 L 308.24 195.43 L 308.39 195.43 L 308.55 195.21 L 308.7 195.81 L 309.16 195.47 L 309.61 196.17 L 309.77 195.13 L 309.92 195.16 L 310.07 195.8 L 310.22 195.1 L 310.38 195.78 L 310.53 195.6 L 310.68 195.21 L 310.84 195.78 L 310.99 195.91 L 311.14 196.29 L 311.29 195.58 L 311.45 195.61 L 311.75 195.55 L 311.9 195.65 L 312.06 195.3 L 312.21 196.21 L 312.36 195.73 L 312.51 195.65 L 312.67 195.84 L 312.82 195.09 L 312.97 195.46 L 313.12 195.04 L 313.28 195.15 L 313.43 195.52 L 313.58 194.7 L 314.04 195.6 L 314.19 196.04 L 314.35 195.77 L 314.5 195.88 L 314.65 195.76 L 314.8 195.99 L 314.96 195.66 L 315.11 195.95 L 315.26 196.49 L 315.41 196.05 L 315.72 196.27 L 316.02 195.36 L 316.33 196.49 L 316.48 195.78 L 316.63 194.54 L 316.79 195.81 L 316.94 195.52 L 317.09 195.83 L 317.4 195.05 L 317.55 195.62 L 317.7 195.15 L 317.86 196.09 L 318.01 195.8 L 318.16 196.43 L 318.31 195.9 L 318.47 196.23 L 318.62 195.97 L 318.77 196.42 L 318.92 195.78 L 319.08 195.75 L 319.38 196.08 L 319.53 196.22 L 319.84 195.72 L 319.99 196.06 L 320.14 196 L 320.3 195.47 L 320.45 195.92 L 320.76 195.55 L 321.06 195.96 L 321.21 195.93 L 321.37 195.21 L 321.52 196.03 L 321.67 196.14 L 322.13 195.18 L 322.28 195.54 L 322.43 195.27 L 322.74 195.84 L 322.89 195.71 L 323.04 195.75 L 323.2 195.97 L 323.35 195.42 L 323.5 196.1 L 323.81 195.08 L 323.96 195.15 L 324.11 195.74 L 324.27 195.76 L 324.42 196.25 L 324.57 195.78 L 324.72 194.92 L 324.88 196.43 L 325.03 196.54 L 325.18 195.78 L 325.33 195.88 L 325.49 196.75 L 325.79 195.95 L 325.94 196.51 L 326.1 195.45 L 326.25 196.23 L 326.4 195.32 L 326.86 196.59 L 327.17 196.02 L 327.32 196.08 L 327.47 196.3 L 327.62 196.04 L 327.78 195.45 L 327.93 196.05 L 328.23 195.76 L 328.39 196.11 L 328.69 195.64 L 328.84 196.26 L 329 195.9 L 329.15 196.89 L 329.45 195.31 L 329.61 196 L 329.76 195.25 L 329.91 196.56 L 330.06 195.44 L 330.37 196.36 L 330.68 196.04 L 330.98 196.44 L 331.13 196.3 L 331.29 195.88 L 331.44 196.03 L 331.59 195.6 L 331.74 196.24 L 332.51 195.39 L 332.81 196.39 L 332.96 195.93 L 333.12 196.54 L 333.27 196.61 L 333.42 195.88 L 333.73 196.28 L 333.88 196.02 L 334.03 196.41 L 334.64 195.64 L 334.8 195.88 L 334.95 195.74 L 335.1 196.69 L 335.25 195.41 L 335.41 196.6 L 335.56 196.15 L 335.71 195.2 L 336.02 196.56 L 336.17 195.36 L 336.32 196.15 L 336.47 196.01 L 336.63 196.02 L 336.78 195.74 L 336.93 195.79 L 337.09 196.09 L 337.24 195.62 L 337.39 196.39 L 337.54 195.8 L 337.7 196.27 L 337.85 195.88 L 338 196.5 L 338.15 196.37 L 338.31 195.51 L 338.46 196.33 L 338.61 196.24 L 338.76 195.57 L 339.07 196.14 L 339.22 196.13 L 339.37 195.34 L 339.53 196.48 L 339.83 196.05 L 339.99 196.43 L 340.29 195.97 L 340.44 196.66 L 340.6 195.97 L 340.75 196.7 L 341.05 195.84 L 341.21 194.65 L 341.36 196.36 L 341.66 194.93 L 341.82 196.13 L 341.97 195.47 L 342.12 195.76 L 342.27 196.38 L 342.43 195.72 L 342.58 196.18 L 342.73 195.88 L 342.88 196.64 L 343.04 195.9 L 343.19 196.93 L 343.5 195.46 L 344.11 196.28 L 344.26 195.13 L 344.41 196.1 L 344.56 196.08 L 344.72 196.34 L 344.87 196.22 L 345.02 195.82 L 345.33 196.39 L 345.63 196.27 L 345.78 196.05 L 345.94 196.26 L 346.09 196.21 L 346.24 196.51 L 346.4 195.84 L 346.55 196.22 L 346.7 196.23 L 346.85 195.87 L 347.01 195.98 L 347.16 196.67 L 347.46 195.69 L 347.62 196.05 L 347.77 195.7 L 348.07 196.54 L 348.23 196.24 L 348.38 195.48 L 348.53 196.33 L 348.68 196.27 L 348.84 195.57 L 348.99 196.01 L 349.29 195.76 L 349.6 196.12 L 349.75 195.9 L 349.91 196.27 L 350.21 195.94 L 350.36 196.51 L 350.52 196.1 L 350.67 196.37 L 350.82 195.63 L 351.13 195.74 L 351.58 195.83 L 351.74 196.38 L 351.89 195.79 L 352.04 196.46 L 352.19 195.14 L 352.35 195.79 L 352.5 195.76 L 352.65 196.53 L 352.8 195.71 L 352.96 195.67 L 353.11 196.66 L 353.26 196.31 L 353.57 196.49 L 353.87 195.36 L 354.03 196.55 L 354.18 195.73 L 354.33 196.14 L 354.48 195.54 L 354.64 196.99 L 354.94 195.61 L 355.09 196.34 L 355.25 195.7 L 355.4 196.4 L 355.55 195.78 L 356.01 196.12 L 356.32 195.44 L 356.62 196.26 L 356.77 194.83 L 356.93 196.68 L 357.23 195.94 L 357.38 196.44 L 357.54 195.92 L 357.69 195.97 L 357.84 196.39 L 357.99 195.76 L 358.15 196.37 L 358.3 196.2 L 358.45 195.36 L 358.6 196.12 L 358.76 195.51 L 358.91 195.48 L 359.37 196.07 L 359.52 196.53 L 359.67 196.05 L 359.83 195.94 L 360.13 196.4 L 360.28 195.82 L 360.44 196.51 L 360.59 195.8 L 360.74 196.03 L 360.89 196.53 L 361.05 195.43 L 361.2 195.83 L 361.35 195.81 L 361.5 196.5 L 361.81 195.87 L 361.96 196.25 L 362.11 195.44 L 362.27 196.87 L 362.42 195.89 L 362.57 196.81 L 362.88 196.52 L 363.03 195.77 L 363.18 196.17 L 363.34 196.15 L 363.64 196.5 L 363.79 196.34 L 363.95 196.43 L 364.1 196.22 L 364.25 196.27 L 364.4 197.03 L 364.71 195.76 L 364.86 196.32 L 365.01 196.07 L 365.17 196.2 L 365.32 196.06 L 365.47 195.77 L 365.62 196.32 L 365.78 196.02 L 365.93 196.64 L 366.08 195.9 L 366.24 196.57 L 366.39 195.73 L 366.54 195.6 L 366.69 196.6 L 366.85 195.77 L 367 196.18 L 367.15 195.61 L 367.3 196.16 L 367.61 195.86 L 367.76 195.17 L 367.91 196.34 L 368.07 195.45 L 368.37 195.9 L 368.52 195.72 L 368.68 195.26 L 368.83 195.32 L 368.98 194.94 L 369.29 195.94 L 369.59 194.94 L 369.75 194.79 L 370.05 193.61 L 370.36 194.81 L 370.51 193.47 L 370.66 193.81 L 370.97 192.84 L 371.12 192.82 L 371.27 192.62 L 371.88 189.69 L 372.03 191.01 L 372.34 189.15 L 372.65 187.82 L 372.8 186.94 L 372.95 187.13 L 373.26 185.35 L 373.41 185.12 L 373.56 184.63 L 373.87 182.54 L 374.02 183.37 L 374.17 181.62 L 374.32 181.71 L 374.48 181.59 L 374.78 179.98 L 374.93 178.96 L 375.09 179.07 L 375.24 177.82 L 375.39 177.95 L 375.7 176.19 L 375.85 175.87 L 376 174.98 L 376.16 174.84 L 376.31 173.67 L 376.46 173.69 L 376.61 173.21 L 377.22 169.93 L 377.38 169.79 L 377.53 168.99 L 377.68 169.13 L 378.9 163.24 L 379.06 163.14 L 379.21 162.03 L 379.36 161.77 L 379.51 160.81 L 379.67 160.95 L 379.82 159.59 L 380.12 158.65 L 380.28 158.15 L 380.58 156.33 L 380.89 155.01 L 381.34 152.14 L 381.5 152.67 L 381.95 150.48 L 382.11 149.97 L 382.26 148.45 L 382.41 149.01 L 382.57 148.03 L 382.72 147.82 L 382.87 147.16 L 383.02 147.4 L 383.18 145.58 L 383.48 145.09 L 383.63 143.73 L 383.79 144.05 L 384.09 143.25 L 384.24 142.18 L 384.4 142.31 L 384.7 142.06 L 385.16 140.53 L 385.31 140.96 L 385.77 138.33 L 385.92 139.22 L 386.08 139.42 L 386.23 138.08 L 386.53 138.53 L 386.69 137.75 L 387.14 138.32 L 387.45 137.6 L 387.6 138 L 387.75 136.84 L 387.91 137.65 L 388.06 136.64 L 388.36 137.24 L 388.52 137.17 L 388.67 137.55 L 388.82 137.3 L 388.98 136.64 L 389.13 137.5 L 389.28 137.1 L 389.43 137.85 L 389.74 137.07 L 389.89 137.9 L 390.04 137.54 L 390.2 138.64 L 390.65 137.75 L 390.81 138.2 L 390.96 139.18 L 391.11 139.16 L 391.26 139.28 L 391.42 140.23 L 391.57 139.87 L 391.72 139.87 L 391.88 140.22 L 392.18 141.59 L 392.49 142.56 L 392.64 142.79 L 392.79 142.78 L 393.1 144.24 L 393.25 144.04 L 393.4 144.53 L 393.71 146.08 L 393.86 146.57 L 394.01 147.72 L 394.16 147.74 L 394.47 148.46 L 394.77 150.53 L 395.69 154.39 L 395.84 156.2 L 396 155.89 L 396.3 158.13 L 396.76 161.34 L 397.06 163.16 L 397.67 168.91 L 397.83 169.75 L 397.98 171.82 L 398.13 172.06 L 398.44 174.63 L 398.59 175.25 L 398.9 178.06 L 399.2 179.64 L 399.35 181.2 L 399.51 180.75 L 399.81 183.47 L 400.12 183.83 L 400.42 184.79 L 400.57 184.75 L 400.73 185.77 L 400.88 185.87 L 401.18 187.59 L 401.34 187.03 L 401.49 188.14 L 401.64 187.86 L 401.8 188.17 L 401.95 188.78 L 402.1 188.77 L 402.41 188.34 L 402.56 187.9 L 402.71 188.33 L 402.86 187.61 L 403.17 187.88 L 403.93 185.95 L 404.08 185.83 L 404.24 185.13 L 404.39 185.37 L 404.85 184.93 L 405.15 183.45 L 405.31 183.28 L 405.46 182.84 L 405.61 181.52 L 405.76 182.09 L 406.07 181.06 L 406.22 180.79 L 406.37 179.53 L 406.53 179.62 L 406.68 178.74 L 406.83 179.13 L 407.14 176.73 L 407.29 177.46 L 407.59 176.55 L 407.75 176.17 L 407.9 176.73 L 408.21 175.49 L 408.36 175.67 L 408.51 176.03 L 408.97 174.24 L 409.12 174.59 L 409.27 174.63 L 409.43 173.76 L 409.58 173.63 L 409.73 173.27 L 409.88 173.28 L 410.04 172.76 L 410.19 172.87 L 410.34 173.64 L 410.65 172.51 L 410.8 172.6 L 410.95 171.95 L 411.1 172.63 L 411.26 172.25 L 411.41 172.95 L 411.56 172.46 L 412.02 173.07 L 412.17 172.57 L 412.33 172.54 L 412.48 172.91 L 412.63 172.94 L 412.78 172.6 L 412.94 171.94 L 413.09 172.72 L 413.24 171.95 L 413.39 173.04 L 413.55 172.37 L 413.85 172.22 L 414 172.86 L 414.16 172.82 L 414.31 172.9 L 414.46 172.03 L 414.77 172.63 L 414.92 172.77 L 415.07 172.75 L 415.23 172.93 L 415.38 172.49 L 415.53 173.72 L 415.68 172.68 L 415.84 173.27 L 415.99 173.28 L 416.29 173.83 L 416.45 173.68 L 416.6 173.97 L 416.75 174.66 L 416.9 174.25 L 417.06 174.34 L 417.21 174.15 L 417.51 174.27 L 417.67 173.95 L 417.82 174.89 L 417.97 173.84 L 418.13 174.92 L 418.28 175.18 L 418.43 174.72 L 418.74 175.21 L 418.89 175.23 L 419.19 175.69 L 419.35 175.66 L 419.65 176.33 L 419.8 175.63 L 419.96 175.56 L 420.11 176.26 L 420.41 176.52 L 420.57 177.09 L 420.72 176.95 L 420.87 177.09 L 421.03 177.03 L 421.33 177.76 L 421.64 176.25 L 421.79 177.58 L 422.09 176.58 L 422.25 177.37 L 422.4 177.53 L 422.55 177.06 L 422.86 177.58 L 423.01 176.75 L 423.16 176.66 L 423.62 177.11 L 423.77 176.71 L 423.92 177.01 L 424.08 176.12 L 424.23 176.07 L 424.38 176.83 L 424.69 176.19 L 424.99 177.22 L 425.3 176.81 L 425.45 176.56 L 425.6 176.62 L 425.76 176.82 L 426.06 176.02 L 426.37 176.76 L 426.52 176.07 L 426.67 176.24 L 426.82 176.1 L 426.98 176.47 L 427.13 176.06 L 427.28 176.48 L 427.59 175.4 L 427.89 176.83 L 428.05 176.06 L 428.2 176.03 L 428.35 175.72 L 428.5 175.79 L 428.66 175.61 L 428.81 174.69 L 428.96 175.78 L 429.11 175.68 L 429.27 175.41 L 429.42 176.28 L 429.57 175.37 L 429.88 176.23 L 430.49 174.93 L 430.79 175.49 L 430.95 174.98 L 431.1 175.18 L 431.25 174.29 L 431.4 175.93 L 431.56 174.55 L 432.17 175.32 L 432.47 175.65 L 432.62 174.26 L 432.78 174.56 L 433.08 174.72 L 433.23 175.58 L 433.39 174.95 L 433.54 174.82 L 433.69 174.53 L 433.85 175.39 L 434 174.94 L 434.15 175.16 L 434.3 175.15 L 434.46 175.53 L 434.61 175.14 L 434.76 175.24 L 434.91 175.97 L 435.22 174.31 L 435.37 175.4 L 435.52 174.69 L 435.68 175.52 L 435.83 175.38 L 435.98 174.48 L 436.13 174.9 L 436.29 174.27 L 436.44 174.67 L 436.59 174.39 L 436.74 174.79 L 436.9 174.19 L 437.05 174.08 L 437.51 175.26 L 437.66 175.5 L 437.81 174.78 L 437.97 174.65 L 438.12 175.08 L 438.27 174.58 L 438.42 175.17 L 438.58 174.31 L 438.73 174.69 L 438.88 174.38 L 439.03 175.15 L 439.19 175.18 L 439.34 175.44 L 439.49 174.51 L 439.64 175.12 L 439.8 174.19 L 439.95 174.66 L 440.1 174.47 L 440.26 175.23 L 440.71 174.74 L 440.87 175.64 L 441.02 175.1 L 441.17 175.42 L 441.32 174.67 L 441.48 174.91 L 441.63 174.9 L 441.93 174.47 L 442.09 175 L 442.24 174.52 L 442.39 175.38 L 442.54 174.86 L 442.7 175.23 L 442.85 174.59 L 443 174.98 L 443.31 174.57 L 443.61 175.51 L 443.92 174.77 L 444.07 174.86 L 444.22 175.3 L 444.38 174.69 L 444.53 175.02 L 444.68 174.5 L 444.83 175.08 L 445.14 174.55 L 445.29 175.27 L 445.44 175.16 L 445.6 174.88 L 446.05 175.28 L 446.21 175.79 L 446.36 175.22 L 446.51 175.71 L 446.66 175.21 L 446.82 176.11 L 446.97 174.77 L 447.12 174.6 L 447.43 175.43 L 447.73 174.83 L 447.89 174.96 L 448.04 175.39 L 448.19 174.63 L 448.95 175.79 L 449.11 175.51 L 449.26 175.82 L 449.41 175.11 L 449.56 175.39 L 449.72 175.19 L 449.87 175.18 L 450.02 175.37 L 450.18 176.17 L 450.33 175.28 L 450.63 175.92 L 450.79 175.99 L 451.24 175.43 L 451.4 175.69 L 451.55 175.25 L 451.7 175.21 L 451.85 175.5 L 452.01 174.42 L 452.16 175.34 L 452.31 175.32 L 452.62 175.66 L 452.92 174.89 L 453.23 175.85 L 453.38 175.44 L 453.53 176.42 L 453.69 175.52 L 453.84 175.6 L 453.99 175.38 L 454.14 176.03 L 454.3 175.66 L 454.45 175.9 L 454.6 175.71 L 454.75 175.3 L 455.06 175.7 L 455.21 175.03 L 455.36 175.46 L 455.52 176.24 L 455.97 175.28 L 456.28 175.51 L 456.43 176 L 456.59 175.67 L 456.74 176.03 L 456.89 175.95 L 457.2 176.14 L 457.5 175.87 L 457.65 176.11 L 457.81 175.47 L 457.96 175.96 L 458.11 175.11 L 458.26 175.17 L 458.42 175.88 L 458.57 175.09 L 458.72 175.98 L 458.87 175.09 L 459.33 176.62 L 459.48 176.01 L 459.64 176.36 L 459.79 175.53 L 459.94 176.47 L 460.25 175.68 L 460.4 175.7 L 460.55 175.58 L 460.71 175.81 L 460.86 175.48 L 461.01 176.04 L 461.16 175.47 L 461.32 176.13 L 461.47 175.63 L 461.62 176.12 L 462.08 175.3 L 462.23 176.32 L 462.38 175.86 L 462.54 175.92 L 462.69 175.16 L 462.84 176.04 L 463 175.61 L 463.3 176.24 L 463.45 175.71 L 463.61 176.27 L 463.76 175.7 L 463.91 175.74 L 464.06 175.55 L 464.22 176.29 L 464.37 175.19 L 464.52 175.3 L 464.67 176.32 L 464.83 175 L 464.98 175.37 L 465.13 176.41 L 465.28 175.82 L 465.44 176.38 L 465.59 176.06 L 465.74 176 L 465.89 175.76 L 466.05 176.24 L 466.2 176.03 L 466.35 176.39 L 466.66 175.56 L 466.81 175.72 L 466.96 175.39 L 467.27 175.8 L 467.42 175.56 L 467.57 176.51 L 467.73 176.13 L 467.88 176.76 L 468.03 176.07 L 468.18 176.19 L 468.34 175.73 L 468.49 176.19 L 468.64 176.16 L 468.79 175.85 L 469.1 175.79 L 469.41 176.61 L 469.56 176.54 L 469.71 175.55 L 469.86 176.48 L 470.02 176.22 L 470.17 176.46 L 470.32 175.79 L 470.47 176.34 L 470.63 175.58 L 470.78 176.1 L 470.93 175.68 L 471.24 175.55 L 471.39 176.34 L 471.69 176.08 L 471.85 176.64 L 472 175.59 L 472.3 175.68 L 472.46 176.42 L 472.61 175.83 L 472.92 175.52 L 473.07 176.18 L 473.37 175.48 L 473.53 176.46 L 473.68 176.48 L 473.83 176.3 L 473.98 176.59 L 474.29 175.46 L 474.44 176.38 L 474.59 176.15 L 474.75 175.68 L 475.2 176.24 L 475.51 176.2 L 475.66 175.88 L 475.81 175.94 L 475.97 175.51 L 476.12 176.56 L 476.27 175.72 L 476.43 176.3 L 476.58 176.12 L 476.73 176.27 L 476.88 175.96 L 477.04 176.37 L 477.19 176.19 L 477.34 176.67 L 477.65 175.69 L 477.8 175.71 L 477.95 176.32 L 478.1 176.18 L 478.26 176.32 L 478.56 176.11 L 478.71 175.64 L 478.87 175.86 L 479.17 175.39 L 479.33 176.4 L 479.48 175.92 L 479.78 176.64 L 480.09 176.36 L 480.24 175.55 L 480.39 176.08 L 480.55 176.17 L 480.7 176.1 L 480.85 176.34 L 481 175.99 L 481.16 176.02 L 481.31 176.5 L 481.46 176.09 L 481.61 174.77 L 481.77 175.84 L 481.92 176.05 L 482.07 175.71 L 482.22 176.33 L 482.53 175.72 L 482.68 176.65 L 482.99 176.27 L 483.29 176.41 L 483.6 175.78 L 483.75 176 L 484.06 175.66 L 484.21 176.22 L 484.36 175.89 L 484.51 176.11 L 484.67 175.78 L 484.82 176.18 L 484.97 176.09 L 485.12 175.37 L 485.43 176.43 L 485.58 175.83 L 485.74 175.9 L 485.89 176.34 L 486.04 176.16 L 486.19 175.8 L 486.35 176.34 L 486.5 176.18 L 486.65 176.3 L 486.8 175.86 L 487.11 176.34 L 487.26 176.03 L 487.41 175.27 L 487.57 176.53 L 487.72 176.5 L 487.87 176.02 L 488.02 176.81 L 488.18 175.74 L 488.33 176.92 L 488.63 176.19 L 488.79 175.51 L 489.25 175.89 L 489.4 175.48 L 489.55 176.68 L 489.86 175.7 L 490.01 176.62 L 490.31 175.74 L 490.47 175.72 L 490.62 176.25 L 490.77 175.55 L 490.92 176.03 L 491.08 175.8 L 491.23 176.59 L 491.53 176.57 L 491.69 175.69 L 491.84 177.14 L 491.99 176.94 L 492.15 175.99 L 492.3 176.17 L 492.45 177.22 L 492.6 176.27 L 492.76 176.21 L 492.91 175.71 L 493.06 176.9 L 493.37 175.82 L 493.52 175.93 L 493.67 176.51 L 493.82 176.33 L 493.98 176.9 L 494.13 175.97 L 494.28 176.6 L 494.43 176.02 L 494.59 176.26 L 494.74 176.9 L 495.35 175.89 L 495.66 176.31 L 495.81 176.16 L 495.96 176.61 L 496.11 176.51 L 496.27 176.11 L 496.42 176.3 L 496.57 176.84 L 496.72 176.39 L 496.88 176.57 L 497.03 176.49 L 497.18 175.85 L 497.33 176.68 L 497.49 176.59 L 497.64 176.03 L 497.79 176.03 L 497.94 175.87 L 498.1 176.49 L 498.25 176.18 L 498.56 176.76 L 498.86 176.46 L 499.17 175.66 L 499.32 176.23 L 499.47 175.66 L 499.78 176.74 L 500.08 175.75 L 500.23 175.77 L 500.39 176.74 L 500.54 175.68 L 500.69 176.6 L 501 176.22 L 501.15 175.45 L 501.3 175.89 L 501.45 175.86 L 501.61 177.07 L 501.76 176.35 L 501.76 176.35 " clip-path="url(#pb87db20f77)" style="fill: none; stroke: #7565b5; stroke-width: 1.4; stroke-linecap: square"/></g><g id="patch_8"><path d="M 74.43 240.82 L 74.43 133.72 " style="fill: none; stroke: #262626; stroke-linejoin: miter; stroke-linecap: square"/></g><g id="patch_9"><path d="M 501.76 240.82 L 501.76 133.72 " style="fill: none; stroke: #262626; stroke-linejoin: miter; stroke-linecap: square"/></g><g id="patch_10"><path d="M 74.43 240.82 L 501.76 240.82 " style="fill: none; stroke: #262626; stroke-linejoin: miter; stroke-linecap: square"/></g><g id="patch_11"><path d="M 74.43 133.72 L 501.76 133.72 " style="fill: none; stroke: #262626; stroke-linejoin: miter; stroke-linecap: square"/></g></g><g id="axes_3"><g id="patch_12"><path d="M 74.43 364.22 L 501.76 364.22 L 501.76 257.12 L 74.43 257.12 z " style="fill: #ffffff"/></g><g id="matplotlib.axis_5"><g id="xtick_17"><g id="line2d_52"><path d="M 74.43 364.22 L 74.43 257.12 " clip-path="url(#pda43f27301)" style="fill: none; stroke: #cccccc; stroke-linecap: square"/></g><g id="line2d_53"><g><use href="#mb01c74a3c1" x="74.43" y="364.22" style="fill: #262626; stroke: #262626"/></g></g><g id="text_8"><text style="font-size: 14.1px; font-family: 'DejaVu Sans', sans-serif; text-anchor: middle" x="74.43" y="381.033797" transform="rotate(-0 74.43 381.033797)">10</text></g></g><g id="xtick_18"><g id="line2d_54"><path d="M 135.48 364.22 L 135.48 257.12 " clip-path="url(#pda43f27301)" style="fill: none; stroke: #cccccc; stroke-linecap: square"/></g><g id="line2d_55"><g><use href="#mb01c74a3c1" x="135.477143" y="364.22" style="fill: #262626; stroke: #262626"/></g></g><g id="text_9"><text style="font-size: 14.1px; font-family: 'DejaVu Sans', sans-serif; text-anchor: middle" x="135.477143" y="381.033797" transform="rotate(-0 135.477143 381.033797)">20</text></g></g><g id="xtick_19"><g id="line2d_56"><path d="M 196.52 364.22 L 196.52 257.12 " clip-path="url(#pda43f27301)" style="fill: none; stroke: #cccccc; stroke-linecap: square"/></g><g id="line2d_57"><g><use href="#mb01c74a3c1" x="196.524286" y="364.22" style="fill: #262626; stroke: #262626"/></g></g><g id="text_10"><text style="font-size: 14.1px; font-family: 'DejaVu Sans', sans-serif; text-anchor: middle" x="196.524286" y="381.033797" transform="rotate(-0 196.524286 381.033797)">30</text></g></g><g id="xtick_20"><g id="line2d_58"><path d="M 257.57 364.22 L 257.57 257.12 " clip-path="url(#pda43f27301)" style="fill: none; stroke: #cccccc; stroke-linecap: square"/></g><g id="line2d_59"><g><use href="#mb01c74a3c1" x="257.571429" y="364.22" style="fill: #262626; stroke: #262626"/></g></g><g id="text_11"><text style="font-size: 14.1px; font-family: 'DejaVu Sans', sans-serif; text-anchor: middle" x="257.571429" y="381.033797" transform="rotate(-0 257.571429 381.033797)">40</text></g></g><g id="xtick_21"><g id="line2d_60"><path d="M 318.62 364.22 L 318.62 257.12 " clip-path="url(#pda43f27301)" style="fill: none; stroke: #cccccc; stroke-linecap: square"/></g><g id="line2d_61"><g><use href="#mb01c74a3c1" x="318.618571" y="364.22" style="fill: #262626; stroke: #262626"/></g></g><g id="text_12"><text style="font-size: 14.1px; font-family: 'DejaVu Sans', sans-serif; text-anchor: middle" x="318.618571" y="381.033797" transform="rotate(-0 318.618571 381.033797)">50</text></g></g><g id="xtick_22"><g id="line2d_62"><path d="M 379.67 364.22 L 379.67 257.12 " clip-path="url(#pda43f27301)" style="fill: none; stroke: #cccccc; stroke-linecap: square"/></g><g id="line2d_63"><g><use href="#mb01c74a3c1" x="379.665714" y="364.22" style="fill: #262626; stroke: #262626"/></g></g><g id="text_13"><text style="font-size: 14.1px; font-family: 'DejaVu Sans', sans-serif; text-anchor: middle" x="379.665714" y="381.033797" transform="rotate(-0 379.665714 381.033797)">60</text></g></g><g id="xtick_23"><g id="line2d_64"><path d="M 440.71 364.22 L 440.71 257.12 " clip-path="url(#pda43f27301)" style="fill: none; stroke: #cccccc; stroke-linecap: square"/></g><g id="line2d_65"><g><use href="#mb01c74a3c1" x="440.712857" y="364.22" style="fill: #262626; stroke: #262626"/></g></g><g id="text_14"><text style="font-size: 14.1px; font-family: 'DejaVu Sans', sans-serif; text-anchor: middle" x="440.712857" y="381.033797" transform="rotate(-0 440.712857 381.033797)">70</text></g></g><g id="xtick_24"><g id="line2d_66"><path d="M 501.76 364.22 L 501.76 257.12 " clip-path="url(#pda43f27301)" style="fill: none; stroke: #cccccc; stroke-linecap: square"/></g><g id="line2d_67"><g><use href="#mb01c74a3c1" x="501.76" y="364.22" style="fill: #262626; stroke: #262626"/></g></g><g id="text_15"><text style="font-size: 14.1px; font-family: 'DejaVu Sans', sans-serif; text-anchor: middle" x="501.76" y="381.033797" transform="rotate(-0 501.76 381.033797)">80</text></g></g></g><g id="matplotlib.axis_6"><g id="ytick_8"><g id="line2d_68"><path d="M 74.43 364.22 L 501.76 364.22 " clip-path="url(#pda43f27301)" style="fill: none; stroke: #cccccc; stroke-linecap: square"/></g><g id="line2d_69"><g><use href="#m298dba9c88" x="74.43" y="364.22" style="fill: #262626; stroke: #262626"/></g></g><g id="text_16"><text style="font-size: 14.1px; font-family: 'DejaVu Sans', sans-serif; text-anchor: end" x="68.33" y="368.976898" transform="rotate(-0 68.33 368.976898)">−100</text></g></g><g id="ytick_9"><g id="line2d_70"><path d="M 74.43 337.44 L 501.76 337.44 " clip-path="url(#pda43f27301)" style="fill: none; stroke: #cccccc; stroke-linecap: square"/></g><g id="line2d_71"><g><use href="#m298dba9c88" x="74.43" y="337.445" style="fill: #262626; stroke: #262626"/></g></g><g id="text_17"><text style="font-size: 14.1px; font-family: 'DejaVu Sans', sans-serif; text-anchor: end" x="68.33" y="342.201898" transform="rotate(-0 68.33 342.201898)">−50</text></g></g><g id="ytick_10"><g id="line2d_72"><path d="M 74.43 310.67 L 501.76 310.67 " clip-path="url(#pda43f27301)" style="fill: none; stroke: #cccccc; stroke-linecap: square"/></g><g id="line2d_73"><g><use href="#m298dba9c88" x="74.43" y="310.67" style="fill: #262626; stroke: #262626"/></g></g><g id="text_18"><text style="font-size: 14.1px; font-family: 'DejaVu Sans', sans-serif; text-anchor: end" x="68.33" y="315.426898" transform="rotate(-0 68.33 315.426898)">0</text></g></g><g id="ytick_11"><g id="line2d_74"><path d="M 74.43 283.89 L 501.76 283.89 " clip-path="url(#pda43f27301)" style="fill: none; stroke: #cccccc; stroke-linecap: square"/></g><g id="line2d_75"><g><use href="#m298dba9c88" x="74.43" y="283.895" style="fill: #262626; stroke: #262626"/></g></g><g id="text_19"><text style="font-size: 14.1px; font-family: 'DejaVu Sans', sans-serif; text-anchor: end" x="68.33" y="288.651898" transform="rotate(-0 68.33 288.651898)">50</text></g></g><g id="ytick_12"><g id="line2d_76"><path d="M 74.43 257.12 L 501.76 257.12 " clip-path="url(#pda43f27301)" style="fill: none; stroke: #cccccc; stroke-linecap: square"/></g><g id="line2d_77"><g><use href="#m298dba9c88" x="74.43" y="257.12" style="fill: #262626; stroke: #262626"/></g></g><g id="text_20"><text style="font-size: 14.1px; font-family: 'DejaVu Sans', sans-serif; text-anchor: end" x="68.33" y="261.876898" transform="rotate(-0 68.33 261.876898)">100</text></g></g></g><g id="line2d_78"><path d="M 74.43 310.77 L 75.5 310.66 L 76.41 310.63 L 86.94 310.63 L 88.32 310.63 L 89.39 310.65 L 90.15 310.66 L 90.91 310.7 L 92.74 310.69 L 93.97 310.65 L 94.73 310.68 L 109.38 310.72 L 109.99 310.71 L 110.6 310.68 L 111.36 310.7 L 112.13 310.68 L 113.19 310.72 L 114.42 310.72 L 116.4 310.7 L 118.08 310.64 L 133.04 310.65 L 134.41 310.67 L 135.78 310.53 L 137.31 310.12 L 138.38 309.46 L 139.9 308.14 L 140.82 307.15 L 144.02 303.22 L 146.16 300.5 L 148.45 297.66 L 152.42 292.54 L 160.2 283.21 L 164.17 279.24 L 168.29 275.65 L 172.87 272.18 L 174.24 271.3 L 179.13 268.43 L 181.42 267.31 L 185.54 265.93 L 187.83 265.42 L 190.27 265.24 L 195.61 265.62 L 199.58 266.56 L 201.71 267.3 L 203.54 268.04 L 207.51 269.95 L 208.58 270.61 L 211.02 272.02 L 213.62 273.7 L 216.82 276.09 L 224 282.41 L 227.35 285.84 L 234.22 293.6 L 243.07 304.73 L 245.51 307.9 L 246.43 309.13 L 247.35 310.43 L 249.33 313 L 257.11 323.26 L 261.23 328.37 L 265.35 333.17 L 270.54 338.64 L 272.99 341.05 L 273.9 341.85 L 274.97 342.75 L 276.19 343.82 L 277.87 345.16 L 278.48 345.65 L 280.31 346.83 L 282.14 348.05 L 283.21 348.73 L 284.13 349.19 L 286.26 350.31 L 287.48 350.81 L 288.55 351.36 L 292.67 352.58 L 293.74 352.83 L 294.81 353 L 298.47 353.39 L 301.98 353.36 L 303.36 353.22 L 304.27 353.16 L 305.04 353.05 L 305.95 352.9 L 310.38 351.87 L 312.82 351.08 L 318.77 348.59 L 320.76 347.58 L 324.11 345.73 L 325.94 344.63 L 329.91 341.95 L 330.52 341.51 L 331.59 340.74 L 333.12 339.43 L 335.1 337.77 L 340.9 331.83 L 345.33 326.54 L 348.84 321.85 L 359.06 308.34 L 361.35 305.49 L 363.64 302.67 L 368.68 296.86 L 371.73 293.58 L 373.87 291.34 L 374.93 290.57 L 375.55 290.47 L 376.16 290.54 L 377.38 291.12 L 378.75 292.22 L 379.67 293.32 L 382.26 296.99 L 383.63 299.23 L 385.47 301.9 L 387.14 303.99 L 389.28 306.12 L 390.5 306.9 L 392.03 307.59 L 394.77 308.07 L 398.44 308.26 L 401.8 308.4 L 403.32 308.42 L 406.07 308.49 L 406.98 308.52 L 408.21 308.56 L 412.78 308.67 L 414 308.72 L 420.72 308.93 L 421.64 308.94 L 422.7 308.95 L 424.84 309 L 428.2 309.12 L 429.72 309.12 L 430.79 309.16 L 431.86 309.2 L 435.83 309.3 L 437.2 309.29 L 438.12 309.34 L 439.64 309.38 L 441.32 309.37 L 442.85 309.41 L 449.41 309.55 L 452.46 309.56 L 456.89 309.6 L 458.72 309.61 L 461.01 309.68 L 462.08 309.68 L 466.66 309.71 L 470.93 309.73 L 472.3 309.77 L 473.53 309.83 L 474.29 309.84 L 475.2 309.79 L 476.73 309.89 L 481 309.83 L 483.14 309.91 L 485.74 309.88 L 488.48 309.9 L 501.76 310.04 L 501.76 310.04 " clip-path="url(#pda43f27301)" style="fill: none; stroke: #d674bf; stroke-width: 1.4; stroke-linecap: square"/></g><g id="patch_13"><path d="M 74.43 364.22 L 74.43 257.12 " style="fill: none; stroke: #262626; stroke-linejoin: miter; stroke-linecap: square"/></g><g id="patch_14"><path d="M 501.76 364.22 L 501.76 257.12 " style="fill: none; stroke: #262626; stroke-linejoin: miter; stroke-linecap: square"/></g><g id="patch_15"><path d="M 74.43 364.22 L 501.76 364.22 " style="fill: none; stroke: #262626; stroke-linejoin: miter; stroke-linecap: square"/></g><g id="patch_16"><path d="M 74.43 257.12 L 501.76 257.12 " style="fill: none; stroke: #262626; stroke-linejoin: miter; stroke-linecap: square"/></g></g><g id="axes_4"><g id="matplotlib.axis_7"><g id="ytick_13"><g id="line2d_79"/><g id="text_21"><text style="font-size: 14.1px; font-family: 'DejaVu Sans', sans-serif; text-anchor: start" x="504.36" y="113.377988" transform="rotate(-0 504.36 113.377988)">0.0</text></g></g><g id="ytick_14"><g id="line2d_80"/><g id="text_22"><text style="font-size: 14.1px; font-family: 'DejaVu Sans', sans-serif; text-anchor: start" x="504.36" y="71.07941" transform="rotate(-0 504.36 71.07941)">2.5</text></g></g><g id="ytick_15"><g id="line2d_81"/><g id="text_23"><text style="font-size: 14.1px; font-family: 'DejaVu Sans', sans-serif; text-anchor: start" x="504.36" y="28.780832" transform="rotate(-0 504.36 28.780832)">5.0</text></g></g></g><g id="line2d_82"><path d="M 74.43 21.84 L 74.74 22.29 L 75.04 22.4 L 75.35 22.32 L 75.5 22.59 L 75.8 23.71 L 75.96 23.78 L 76.57 22.61 L 76.87 22.77 L 77.02 22.71 L 77.48 21.81 L 77.63 22.01 L 78.09 23.35 L 78.25 23.41 L 78.7 22.82 L 78.86 22.92 L 79.16 23.32 L 79.31 23.2 L 79.92 22.11 L 80.08 22.17 L 80.53 23.07 L 80.69 22.87 L 80.99 21.97 L 81.15 21.9 L 81.6 22.51 L 82.21 22.3 L 82.52 22.28 L 82.98 21.89 L 83.43 21.62 L 83.59 21.74 L 84.35 23.29 L 84.81 22.98 L 85.11 22.86 L 85.42 22.14 L 85.72 21.55 L 85.88 21.62 L 86.49 22.35 L 86.79 22.48 L 87.1 22.41 L 87.4 22.62 L 87.86 22.94 L 88.47 23.07 L 89.39 21.64 L 89.54 21.72 L 90 22.51 L 90.3 22.65 L 90.61 22.64 L 91.07 22.73 L 91.37 22.54 L 91.68 22.84 L 91.98 23.01 L 92.29 22.74 L 92.9 22.14 L 93.05 22.15 L 93.51 22.7 L 93.66 22.52 L 94.12 21.21 L 94.27 21.33 L 94.58 21.95 L 94.73 22 L 95.03 21.84 L 95.49 22.24 L 95.8 22.03 L 95.95 22.06 L 96.25 22.46 L 96.56 23.04 L 96.86 23.12 L 97.17 22.96 L 97.48 22.62 L 97.63 22.65 L 98.09 23.14 L 98.39 22.58 L 98.85 21.56 L 99 21.58 L 99.46 21.97 L 100.38 22.01 L 100.68 22.55 L 101.14 22.46 L 101.44 23.02 L 101.9 23.95 L 102.21 23.16 L 102.51 22.54 L 102.66 22.58 L 103.27 23.37 L 103.89 23.01 L 104.34 22.61 L 104.65 22.78 L 105.11 22.39 L 105.41 22.68 L 105.72 22.98 L 105.87 22.84 L 106.33 21.99 L 106.63 21.98 L 106.94 22.53 L 107.24 23.1 L 107.55 23.03 L 108.46 22.39 L 108.77 21.74 L 108.92 21.67 L 109.38 21.95 L 109.68 22.35 L 110.3 22.26 L 110.91 22.87 L 111.21 22.71 L 111.52 22.45 L 112.13 22.41 L 112.43 22.3 L 113.19 22.4 L 113.5 22.75 L 113.65 22.8 L 113.81 22.73 L 114.11 22.02 L 114.42 21.51 L 115.03 21.69 L 115.33 21.75 L 115.94 22.13 L 116.25 22.7 L 116.71 22.91 L 116.86 22.82 L 117.32 21.79 L 117.77 20.95 L 117.93 20.95 L 118.08 21.34 L 118.54 23.14 L 118.69 22.91 L 118.99 22.06 L 119.15 21.95 L 119.3 22.02 L 119.91 22.88 L 120.37 22.4 L 120.67 22.06 L 120.98 21.63 L 121.13 21.67 L 121.74 22.66 L 122.05 22.17 L 122.35 22.39 L 122.66 22.51 L 123.12 22.09 L 123.27 22.28 L 123.57 22.86 L 123.73 22.73 L 124.03 22.26 L 124.49 22.52 L 124.64 22.33 L 124.95 21.65 L 125.1 21.64 L 126.01 22.94 L 126.78 21.8 L 127.24 22.11 L 127.54 22 L 127.69 22.13 L 128.15 22.93 L 128.3 22.74 L 128.76 21.6 L 129.07 21.48 L 129.22 21.57 L 129.83 22.56 L 130.14 22.23 L 130.44 21.87 L 130.59 21.92 L 131.05 22.57 L 131.2 22.5 L 131.66 21.71 L 131.81 21.79 L 132.27 22.85 L 132.42 22.83 L 132.58 22.36 L 133.04 19.9 L 133.19 19.73 L 133.49 20.32 L 133.65 20.77 L 133.8 28.9 L 134.1 51.87 L 134.71 77.28 L 135.17 88.37 L 135.63 94.03 L 136.39 101.63 L 137.61 109.74 L 138.07 111.5 L 138.22 109.87 L 138.53 92.9 L 139.6 21.88 L 139.75 16.55 L 139.9 15.29 L 140.21 19.12 L 140.51 23.22 L 140.67 23.71 L 140.97 23.39 L 141.73 23.04 L 142.04 22.5 L 142.19 22.48 L 142.65 22.96 L 143.26 21.87 L 143.72 21.81 L 144.02 22.21 L 144.48 23.11 L 144.63 23.09 L 145.24 22.3 L 146.01 21.97 L 146.31 22.65 L 146.47 22.67 L 146.77 22.2 L 146.92 22.18 L 147.23 22.3 L 147.69 22.11 L 147.99 22.84 L 148.3 23.33 L 148.45 23.09 L 148.91 22 L 149.37 22.53 L 149.82 22.13 L 150.43 23.38 L 151.04 22.6 L 151.35 22.53 L 151.81 22.95 L 152.11 22.53 L 152.27 22.3 L 152.42 22.31 L 152.72 22.61 L 153.03 22.55 L 153.64 22.39 L 153.94 22.41 L 154.4 22.15 L 154.55 22.22 L 155.32 23.16 L 155.93 22.73 L 156.69 22.03 L 157.3 22.1 L 157.76 22.46 L 157.91 22.43 L 158.37 21.86 L 159.13 22.52 L 159.44 22.12 L 159.74 21.65 L 159.9 21.69 L 160.51 22.65 L 160.81 22.53 L 161.12 22.03 L 161.42 21.55 L 161.88 21.95 L 162.19 22.01 L 162.64 22.57 L 162.95 22.53 L 163.71 21.97 L 164.17 22.33 L 164.63 22.4 L 165.09 23 L 165.39 23.15 L 165.7 23.36 L 166.15 22.84 L 166.61 23.1 L 167.22 22.23 L 167.53 22.32 L 167.98 21.75 L 168.14 21.88 L 168.44 22.46 L 169.05 22.82 L 169.51 22.52 L 169.97 22.66 L 170.27 22.53 L 170.58 22.33 L 170.88 22.48 L 171.19 22.28 L 171.49 22.54 L 171.95 22.11 L 172.26 22.25 L 172.56 22.1 L 173.02 22.64 L 173.33 22.64 L 173.63 22.79 L 174.09 22.75 L 174.55 22.72 L 174.85 22.52 L 175.31 21.95 L 175.62 21.87 L 176.23 21.28 L 176.99 22.4 L 177.29 23.12 L 177.45 23.08 L 177.9 22.25 L 178.67 22.63 L 179.13 23.7 L 179.28 23.67 L 179.58 22.82 L 179.89 22.17 L 180.8 22.46 L 181.11 22.55 L 181.72 21.99 L 182.33 23.42 L 182.48 23.37 L 183.09 22.77 L 183.4 22.87 L 183.7 22.64 L 184.01 22.04 L 184.16 22.01 L 184.77 22.71 L 185.08 22.4 L 185.38 22.11 L 185.84 23.09 L 185.99 22.91 L 186.3 22.27 L 186.45 22.38 L 186.76 22.85 L 187.06 22.72 L 187.37 22.47 L 187.52 22.5 L 187.98 23.29 L 188.89 22.5 L 189.05 22.51 L 189.66 23.06 L 189.81 23.09 L 189.96 22.94 L 190.42 21.89 L 190.57 21.96 L 191.03 22.76 L 191.64 21.81 L 192.1 22.19 L 192.56 22.02 L 192.86 22.42 L 193.17 22.82 L 193.47 22.85 L 193.78 22.43 L 193.93 22.23 L 194.39 22.31 L 194.69 22.03 L 195 21.87 L 195.3 21.61 L 195.76 22.34 L 196.22 22.21 L 196.68 22.74 L 197.29 23.25 L 198.05 22.97 L 198.97 23.49 L 199.27 22.99 L 199.58 22.52 L 199.88 22.05 L 200.03 21.76 L 200.19 21.74 L 200.64 22.62 L 201.1 22.51 L 201.41 22.53 L 201.71 22.33 L 202.17 22.33 L 202.78 21.69 L 203.39 22.79 L 203.7 22.74 L 204 22.87 L 204.46 22.19 L 204.77 22.28 L 205.22 21.91 L 205.53 22 L 205.99 21.93 L 206.29 21.98 L 206.75 22.39 L 207.21 21.09 L 207.36 21.16 L 208.12 23.2 L 208.28 23.33 L 208.43 23.19 L 208.89 21.65 L 209.04 21.71 L 209.65 23.07 L 210.41 22.29 L 210.72 22.15 L 211.18 22.63 L 211.48 22.55 L 211.79 22.62 L 212.09 22.23 L 212.55 21.44 L 212.7 21.39 L 213.01 21.99 L 213.16 22.29 L 213.31 22.21 L 213.77 20.96 L 213.92 21.01 L 214.84 22.58 L 215.45 22.67 L 215.75 22.65 L 216.06 22.77 L 216.36 22.6 L 216.52 22.66 L 216.98 23.15 L 217.43 22.74 L 217.89 22.87 L 218.5 22.23 L 218.81 22.74 L 219.11 23.15 L 219.57 22.32 L 219.72 22.42 L 220.18 23.53 L 220.49 23 L 221.1 21.9 L 221.25 21.83 L 221.86 23 L 222.01 22.97 L 222.77 22.25 L 222.93 22.45 L 223.23 23.14 L 223.39 23.09 L 223.69 22.5 L 224 22.55 L 225.22 22.93 L 225.52 22.51 L 225.98 21.8 L 226.28 22.27 L 226.44 22.44 L 226.59 22.32 L 226.9 21.86 L 227.51 22.37 L 227.81 22.14 L 228.12 22.21 L 228.42 22.47 L 228.57 22.47 L 229.03 21.97 L 229.18 22.12 L 229.49 22.75 L 229.95 22.85 L 230.25 23.16 L 230.56 22.52 L 230.86 22.09 L 231.32 22.26 L 231.63 21.92 L 231.78 21.72 L 231.93 21.74 L 232.54 22.64 L 233 21.22 L 233.15 21.27 L 233.61 22.38 L 234.22 22.82 L 234.68 23.78 L 234.83 23.62 L 235.59 21.7 L 235.9 21.72 L 236.2 21.99 L 236.66 22.87 L 236.82 22.89 L 237.43 22 L 237.73 21.46 L 237.88 21.48 L 238.49 22.44 L 239.26 22.17 L 239.56 21.72 L 239.72 21.72 L 240.33 22.56 L 240.63 22.14 L 240.78 22.11 L 241.09 22.29 L 241.55 22.23 L 241.85 22.63 L 242 22.54 L 242.31 22.03 L 242.46 22.14 L 242.92 22.98 L 243.53 22.44 L 243.99 22.7 L 244.29 23.11 L 244.45 23.11 L 245.21 22.17 L 245.51 21.82 L 245.67 21.9 L 245.97 22.48 L 246.13 22.55 L 246.43 22.46 L 246.74 22.84 L 246.89 23.06 L 247.04 23.07 L 247.5 22.19 L 247.8 22.46 L 247.96 22.61 L 248.11 22.57 L 248.41 22.06 L 248.57 22.03 L 249.02 22.33 L 249.48 22.09 L 249.79 22.19 L 250.25 21.91 L 250.86 22.83 L 251.01 22.89 L 251.31 23.33 L 251.47 23.26 L 252.23 22.13 L 252.69 22.03 L 252.84 21.9 L 252.99 22.03 L 253.3 22.77 L 253.45 22.83 L 254.21 21.97 L 254.82 22.22 L 255.13 22.28 L 255.74 22.76 L 255.89 22.64 L 256.35 21.66 L 256.5 21.8 L 256.96 22.54 L 257.11 22.47 L 257.42 22.06 L 257.57 22.04 L 257.88 22.38 L 258.33 23.07 L 258.49 23 L 258.94 22.41 L 259.1 22.44 L 259.71 23.04 L 260.17 22.94 L 260.47 23.29 L 260.62 23.24 L 261.23 21.67 L 261.39 21.7 L 262 22.97 L 262.91 22.16 L 263.22 22.24 L 263.52 22.61 L 263.68 22.63 L 264.44 22.06 L 264.9 22.54 L 265.05 22.4 L 265.51 21.49 L 265.81 21.73 L 266.42 22.27 L 266.88 22.12 L 267.03 22.21 L 267.19 22.09 L 267.49 21.43 L 267.64 21.57 L 268.1 22.64 L 268.25 22.58 L 268.71 22.15 L 269.02 22.68 L 269.32 23.17 L 269.48 23.19 L 269.78 22.73 L 270.39 21.52 L 270.54 21.59 L 271 22.38 L 271.15 22.17 L 271.61 21.12 L 271.76 21.22 L 272.07 22.12 L 272.38 22.98 L 272.53 22.95 L 272.83 22.25 L 273.14 21.46 L 273.29 21.39 L 274.05 22.24 L 274.36 21.9 L 274.66 21.62 L 274.97 22.19 L 275.28 22.58 L 275.58 22.32 L 275.89 22.01 L 276.34 22.24 L 277.11 21.37 L 277.26 21.38 L 277.56 21.89 L 277.87 22.36 L 278.17 22.34 L 278.48 22.19 L 278.94 22.65 L 279.85 22.08 L 280.01 22.14 L 280.46 22.65 L 280.77 22.4 L 280.92 22.53 L 281.38 23.74 L 281.53 23.62 L 281.99 22.56 L 282.14 22.46 L 282.45 22.79 L 282.6 22.95 L 282.91 22.8 L 283.21 22.46 L 283.52 22.18 L 283.82 22.15 L 284.13 21.97 L 284.43 21.93 L 284.74 21.73 L 285.2 22.3 L 285.81 21.46 L 286.11 21.9 L 286.42 22.29 L 286.87 22.34 L 287.18 22.93 L 287.33 23 L 287.79 22.68 L 288.1 22.48 L 288.4 22.13 L 288.55 22.15 L 289.01 22.58 L 289.32 22.49 L 289.77 23.82 L 289.93 23.71 L 290.38 22.2 L 290.69 22.11 L 290.99 22.29 L 291.45 22.91 L 291.91 22.49 L 292.22 22.62 L 292.37 22.59 L 292.52 22.67 L 293.13 24.16 L 293.28 23.93 L 293.74 22.71 L 294.2 22.48 L 294.35 22.63 L 294.81 23.58 L 294.96 23.56 L 295.27 23.23 L 295.57 23.25 L 296.18 22.66 L 296.49 23.03 L 296.64 23.02 L 296.95 22.54 L 297.4 21.61 L 297.71 20.11 L 297.86 20 L 298.17 20.79 L 298.32 24.35 L 298.78 56.61 L 299.39 80.01 L 300 93.08 L 300.46 98.76 L 301.37 106.01 L 301.83 108.88 L 302.29 111.8 L 302.44 112.21 L 302.59 112.26 L 302.75 112.09 L 302.9 108.97 L 303.36 81.09 L 303.97 51.54 L 304.73 20.44 L 305.04 15.71 L 305.19 15.48 L 305.34 16.73 L 305.8 23.39 L 305.95 23.93 L 306.1 23.55 L 306.56 21.58 L 306.71 21.74 L 307.02 22.36 L 307.63 22.54 L 307.78 22.49 L 308.09 22.15 L 308.24 22.21 L 308.7 23.49 L 308.85 23.46 L 309.31 22.59 L 309.46 22.67 L 309.92 23.46 L 310.07 23.39 L 310.68 22.02 L 310.84 21.99 L 311.29 22.51 L 311.6 22.17 L 311.9 21.75 L 312.06 21.73 L 312.36 22.1 L 312.67 22.52 L 312.97 22.55 L 313.28 22.33 L 313.43 22.38 L 314.19 23.7 L 314.35 23.6 L 314.65 22.74 L 314.96 21.78 L 315.11 21.6 L 315.26 21.65 L 315.87 22.27 L 316.48 21.83 L 316.79 22.35 L 317.09 22.96 L 317.25 22.97 L 317.7 22.29 L 317.86 22.36 L 318.16 22.82 L 318.31 22.84 L 318.62 22.69 L 318.92 22.91 L 319.08 22.78 L 319.38 22.28 L 319.53 22.31 L 319.84 22.57 L 320.14 22.4 L 320.3 22.31 L 320.45 22.38 L 321.06 23.14 L 321.37 23.1 L 321.52 23.1 L 321.67 22.85 L 321.98 21.95 L 322.13 21.91 L 322.43 22.53 L 322.59 22.57 L 323.35 21.62 L 323.5 21.68 L 323.81 22 L 324.27 21.69 L 324.42 21.81 L 324.72 22.28 L 324.88 22.26 L 325.33 21.58 L 325.49 21.64 L 325.94 22.07 L 326.25 22.17 L 327.01 23.27 L 327.32 23.05 L 327.78 23.08 L 328.39 21.77 L 328.84 22.88 L 329.15 22.68 L 329.3 22.6 L 329.61 22.85 L 330.06 23.29 L 330.37 23.32 L 330.68 22.78 L 330.98 22.16 L 331.13 22.1 L 331.44 22.38 L 332.05 23.19 L 332.2 23.12 L 332.66 22.51 L 332.96 22.54 L 333.42 21.59 L 333.58 21.83 L 333.88 22.76 L 334.03 22.8 L 334.34 22.47 L 334.95 22.75 L 335.41 21.4 L 335.56 21.5 L 336.17 23.01 L 336.63 21.85 L 336.78 21.98 L 337.09 22.53 L 337.7 22.84 L 338.15 22.28 L 338.46 22.04 L 338.76 21.82 L 338.92 22 L 339.53 23.47 L 339.99 22.66 L 340.44 23.05 L 340.9 22.26 L 341.21 21.88 L 341.36 21.88 L 341.66 22.69 L 341.82 23.1 L 341.97 23.18 L 342.43 22.56 L 342.73 22.28 L 342.88 22.06 L 343.04 22.04 L 343.34 22.32 L 344.11 21.63 L 344.41 22.54 L 344.72 23.15 L 345.02 22.76 L 345.33 22.41 L 345.48 22.44 L 345.94 22.78 L 346.24 22.4 L 346.55 21.92 L 346.7 21.9 L 346.85 22.15 L 347.31 23.35 L 347.46 23.32 L 347.77 23.09 L 348.23 23.62 L 348.68 22.89 L 349.6 22.67 L 350.06 21.88 L 350.36 22.05 L 350.97 22.36 L 351.13 22.4 L 351.43 22.08 L 351.58 21.92 L 351.74 21.92 L 352.19 22.35 L 353.11 22.61 L 353.57 23.23 L 354.03 23.24 L 354.33 23 L 354.64 22.6 L 354.79 22.67 L 355.09 23.15 L 355.25 23.03 L 355.7 22.04 L 356.16 22.37 L 356.77 22.19 L 357.08 22.48 L 357.23 22.36 L 357.69 20.91 L 357.84 21.22 L 358.3 22.81 L 358.45 23 L 358.6 23 L 359.21 22.23 L 359.67 23.25 L 359.83 23.08 L 360.13 22.35 L 360.28 22.26 L 360.89 22.61 L 361.35 21.86 L 361.66 21.93 L 361.81 21.9 L 362.42 22.38 L 363.18 21.69 L 363.79 22.19 L 364.1 22.69 L 364.56 23.58 L 364.71 23.68 L 364.86 23.61 L 365.17 22.98 L 365.47 22.49 L 365.78 22.91 L 366.08 23.35 L 366.24 23.17 L 366.54 22.32 L 366.69 22.29 L 367.15 22.92 L 367.46 23.1 L 367.76 23.3 L 368.22 22.82 L 368.52 23.12 L 368.83 23.08 L 369.29 23.51 L 369.9 22.74 L 370.2 22.67 L 370.51 22.45 L 370.97 21.95 L 371.27 22.4 L 371.58 22.97 L 371.73 23.09 L 371.88 23.03 L 372.8 22.01 L 372.95 21.96 L 373.41 22.21 L 373.71 21.92 L 373.87 22.08 L 374.17 22.7 L 374.32 22.68 L 374.78 22.07 L 375.24 22.43 L 375.55 22.67 L 376 22.43 L 376.31 22.16 L 376.77 21.54 L 376.92 21.52 L 377.22 21.85 L 377.53 22.16 L 377.83 21.94 L 378.14 22.39 L 378.29 22.57 L 378.44 22.56 L 378.75 22.03 L 379.06 21.55 L 379.51 21.54 L 379.67 21.69 L 380.12 22.54 L 380.28 22.47 L 380.58 22.06 L 380.73 22.23 L 381.04 23 L 381.19 22.97 L 381.5 22.46 L 381.95 22.27 L 382.26 22.43 L 382.87 23.17 L 383.02 23.09 L 383.63 22.17 L 383.94 22.03 L 384.4 22.8 L 384.55 22.71 L 384.85 22.36 L 385.16 22.64 L 385.47 23.02 L 385.77 23.03 L 386.08 22.84 L 386.38 22.26 L 386.69 21.56 L 387.45 21.18 L 387.6 21.35 L 387.91 22.57 L 388.21 23.73 L 388.36 23.61 L 388.98 21.82 L 389.43 21.42 L 389.59 21.49 L 390.2 22.28 L 390.5 22.37 L 391.11 21.71 L 391.42 22.2 L 391.57 22.2 L 392.03 21.62 L 392.64 21.97 L 392.94 22.09 L 393.4 21.91 L 393.71 22.07 L 393.86 22.34 L 394.32 23.47 L 394.62 22.74 L 394.93 22.03 L 395.23 21.96 L 395.84 21.91 L 396 22.05 L 396.3 22.67 L 396.45 22.72 L 397.22 21.96 L 397.52 22 L 397.83 22.21 L 398.59 22.91 L 399.2 22.41 L 399.96 22.48 L 400.27 22.55 L 400.57 22.93 L 400.73 22.89 L 401.03 22.62 L 401.34 22.82 L 401.8 23.34 L 401.95 23.18 L 402.41 22.22 L 402.56 22.25 L 402.86 23.01 L 403.02 23.37 L 403.17 23.31 L 403.47 22.8 L 403.78 22.83 L 404.24 22.01 L 404.39 22.12 L 404.7 22.74 L 404.85 22.71 L 405.46 21.91 L 406.07 22.32 L 406.53 21.77 L 406.83 21.89 L 408.36 22.74 L 408.66 22.46 L 408.97 22.05 L 409.12 22.04 L 409.43 22.41 L 409.58 22.36 L 410.04 21.84 L 410.19 21.91 L 410.65 22.54 L 410.8 22.51 L 411.1 22.23 L 411.26 22.23 L 411.56 22.55 L 412.02 23.21 L 412.33 22.98 L 412.78 22.67 L 412.94 22.63 L 413.39 22.81 L 413.7 22.41 L 414.31 22.27 L 414.77 21.64 L 415.53 21.68 L 415.99 22.03 L 416.6 21.69 L 416.9 21.79 L 417.36 21.39 L 417.51 21.54 L 417.97 22.7 L 418.13 22.63 L 418.43 22.09 L 418.58 22.14 L 418.89 22.4 L 419.19 22.45 L 419.5 22.67 L 419.65 22.63 L 419.96 22.38 L 420.57 22.75 L 421.18 21.61 L 421.64 22.03 L 422.09 21.57 L 422.25 21.73 L 422.86 22.92 L 423.01 22.91 L 423.31 22.59 L 423.47 22.6 L 424.08 23.01 L 424.38 23.04 L 424.99 22.28 L 425.45 22.55 L 425.76 22.11 L 426.06 21.6 L 426.21 21.53 L 426.37 21.68 L 426.82 22.45 L 427.13 22.38 L 427.44 22.24 L 428.66 23.13 L 428.96 23.56 L 429.11 23.49 L 430.18 21.46 L 430.33 21.63 L 430.79 22.41 L 430.95 22.52 L 431.25 23.19 L 431.56 23.72 L 431.86 23.63 L 432.62 22.88 L 432.93 22.78 L 433.23 22.36 L 433.69 21.62 L 434 21.35 L 434.15 21.45 L 434.61 22.17 L 435.07 22.64 L 435.52 23.28 L 435.68 23.1 L 436.29 21.19 L 436.9 21.52 L 437.66 23.04 L 437.81 22.89 L 438.42 21.8 L 438.58 21.83 L 439.03 22.37 L 439.34 22.64 L 439.64 23 L 439.8 22.88 L 440.26 21.83 L 440.41 21.76 L 440.56 21.83 L 441.02 22.47 L 441.17 22.38 L 441.48 21.73 L 441.63 21.7 L 442.09 22.5 L 442.54 22.12 L 442.85 22.29 L 443.31 22.01 L 443.92 21.37 L 444.07 21.46 L 444.38 22.05 L 444.68 22.71 L 444.83 22.81 L 445.44 22.46 L 445.9 23.4 L 446.05 23.3 L 446.66 22.54 L 447.12 22.93 L 447.28 22.9 L 447.73 22.35 L 447.89 22.12 L 448.04 22.1 L 448.5 23.19 L 448.8 22.98 L 449.11 22.85 L 449.41 23.03 L 449.56 23.12 L 449.72 23 L 450.18 22.22 L 450.48 22.09 L 450.79 21.83 L 451.09 22.08 L 451.4 22.41 L 451.55 22.45 L 451.85 22.2 L 452.16 21.74 L 452.46 21.72 L 452.77 21.82 L 453.07 22.02 L 453.99 21.83 L 454.6 22.61 L 454.75 22.58 L 455.06 21.8 L 455.36 21.21 L 455.97 22.1 L 456.43 22.09 L 457.2 22.43 L 457.5 22.13 L 457.65 22.29 L 458.11 23.19 L 458.42 23.21 L 458.72 23.14 L 459.03 23.08 L 459.33 22.77 L 459.64 22.29 L 459.79 22.4 L 460.1 23.05 L 460.25 23.11 L 460.55 23.01 L 460.71 23.11 L 461.16 23.82 L 461.77 22.72 L 462.54 22.02 L 462.69 21.9 L 462.84 21.94 L 463.45 22.73 L 463.76 22.49 L 464.06 22.08 L 464.22 22.08 L 464.83 22.86 L 464.98 22.8 L 465.28 22.36 L 465.44 22.37 L 465.74 22.76 L 466.2 22.72 L 466.51 23.15 L 466.66 22.97 L 467.12 21.79 L 467.27 21.85 L 467.73 22.82 L 468.49 21.77 L 468.64 21.92 L 469.25 23.45 L 469.41 23.15 L 469.71 21.98 L 469.86 21.79 L 470.32 22.43 L 470.78 22.27 L 471.39 22.56 L 471.69 22.25 L 472.15 21.35 L 472.46 22.13 L 472.76 22.8 L 472.92 22.98 L 473.07 22.97 L 473.53 21.83 L 473.68 21.89 L 473.98 22.39 L 474.29 22.41 L 474.59 22.34 L 474.9 22.34 L 475.2 22.3 L 475.81 23.11 L 476.12 23.08 L 476.27 23.19 L 476.43 23.14 L 476.73 22.65 L 476.88 22.61 L 477.49 23.05 L 477.8 22.69 L 478.1 22.37 L 478.26 22.45 L 478.71 23.24 L 479.02 23.06 L 479.63 22.51 L 480.09 22.78 L 480.7 22.22 L 480.85 22.37 L 481.31 23.16 L 482.07 22.93 L 482.38 22.78 L 482.99 21.95 L 483.29 22.01 L 483.75 21.4 L 484.06 21.64 L 484.36 21.96 L 484.82 23.17 L 485.12 22.9 L 485.43 22.63 L 485.74 22.15 L 485.89 22.2 L 486.19 22.52 L 486.35 22.51 L 486.65 22.02 L 486.8 21.75 L 486.96 21.86 L 487.26 22.78 L 487.41 22.84 L 488.02 21.73 L 488.63 22.6 L 489.09 22.37 L 489.55 22.56 L 490.01 22.05 L 490.31 21.96 L 490.77 21.41 L 491.38 22.67 L 491.84 22.19 L 492.3 22.23 L 492.6 22.11 L 493.06 22.61 L 493.52 21.74 L 494.13 22.57 L 494.89 22.41 L 495.2 22.61 L 495.81 22.12 L 496.11 21.79 L 496.27 21.77 L 496.57 22.06 L 497.03 22.56 L 497.49 22.69 L 498.1 23.2 L 498.71 22.84 L 498.86 22.85 L 499.47 22.12 L 499.78 22.31 L 500.08 22.2 L 500.39 22.45 L 500.54 22.35 L 500.84 21.84 L 501 21.97 L 501.45 22.89 L 501.76 22.82 L 501.76 22.82 " clip-path="url(#p11a7ee563b)" style="fill: none; stroke: #dd8452; stroke-width: 1.4; stroke-linecap: square"/></g><g id="patch_17"><path d="M 74.43 117.25 L 74.43 10.15 " style="fill: none; stroke: #262626; stroke-linejoin: miter; stroke-linecap: square"/></g><g id="patch_18"><path d="M 501.76 117.25 L 501.76 10.15 " style="fill: none; stroke: #262626; stroke-linejoin: miter; stroke-linecap: square"/></g><g id="patch_19"><path d="M 74.43 117.25 L 501.76 117.25 " style="fill: none; stroke: #262626; stroke-linejoin: miter; stroke-linecap: square"/></g><g id="patch_20"><path d="M 74.43 10.15 L 501.76 10.15 " style="fill: none; stroke: #262626; stroke-linejoin: miter; stroke-linecap: square"/></g></g><g id="patch_21"><path d="M 423.3 104.9 L 491.3 104.9 Q 494.3 104.9 494.3 101.9 L 494.3 61.1 Q 494.3 58.1 491.3 58.1 L 423.3 58.1 Q 420.3 58.1 420.3 61.1 L 420.3 101.9 Q 420.3 104.9 423.3 104.9 z " style="fill: #ffffff; opacity: 0.8; stroke: #cccccc; stroke-linejoin: miter"/></g><g id="patch_22"><path d="M 81.5 157.9 L 300.6 157.9 Q 303.6 157.9 303.6 154.9 L 303.6 140.6 Q 303.6 137.6 300.6 137.6 L 81.5 137.6 Q 78.5 137.6 78.5 140.6 L 78.5 154.9 Q 78.5 157.9 81.5 157.9 z " style="fill: #ffffff; opacity: 0.8; stroke: #cccccc; stroke-linejoin: miter"/></g><g id="patch_23"><path d="M 426.6 287.6 L 492 287.6 Q 495 287.6 495 284.6 L 495 266.9 Q 495 263.9 492 263.9 L 426.6 263.9 Q 423.6 263.9 423.6 266.9 L 423.6 284.6 Q 423.6 287.6 426.6 287.6 z " style="fill: #ffffff; opacity: 0.8; stroke: #cccccc; stroke-linejoin: miter"/></g><g id="line2d_83"><path d="M 425 69.5 L 454.3 69.5 " style="fill: none; stroke: #4069b0; stroke-width: 1.4"/></g><g id="line2d_84"><path d="M 425 91.6 L 454.3 91.6 " style="fill: none; stroke: #dd8452; stroke-width: 1.4"/></g><g id="line2d_85"><path d="M 82.2 146.9 L 107.8 146.9 " style="fill: none; stroke: #55a868; stroke-width: 1.4"/></g><g id="line2d_86"><path d="M 163.1 146.9 L 188.5 146.9 " style="fill: none; stroke: #c8444c; stroke-width: 1.4"/></g><g id="line2d_87"><path d="M 244.9 146.9 L 270.4 146.9 " style="fill: none; stroke: #7565b5; stroke-width: 1.4"/></g><g id="line2d_88"><path d="M 429 275.5 L 458.1 275.5 " style="fill: none; stroke: #d674bf; stroke-width: 1.4"/></g><g id="text_24"><!-- $V_{ge}$ [V] --><g transform="translate(22.7 89.9175) rotate(-90)"><text><tspan x="0" y="-0.84375" style="font-style: oblique; font-size: 15.5px; font-family: 'DejaVu Sans', sans-serif">V</tspan><tspan x="10.603271" y="1.78125" style="font-style: oblique; font-size: 10.85px; font-family: 'DejaVu Sans', sans-serif">g</tspan><tspan x="17.490479" y="1.78125" style="font-style: oblique; font-size: 10.85px; font-family: 'DejaVu Sans', sans-serif">e</tspan><tspan x="24.603271" y="-0.84375" style="font-size: 15.5px; font-family: 'DejaVu Sans', sans-serif"> </tspan><tspan x="29.530273" y="-0.84375" style="font-size: 15.5px; font-family: 'DejaVu Sans', sans-serif">[</tspan><tspan x="35.577393" y="-0.84375" style="font-size: 15.5px; font-family: 'DejaVu Sans', sans-serif">V</tspan><tspan x="46.180664" y="-0.84375" style="font-size: 15.5px; font-family: 'DejaVu Sans', sans-serif">]</tspan></text></g></g><g id="text_25"><text style="font-size: 15.5px; font-family: 'DejaVu Sans', sans-serif; text-anchor: middle" x="23.9" y="187.75" transform="rotate(-90 23.9 187.75)">Voltage [kV]</text></g><g id="text_26"><text style="font-size: 15.5px; font-family: 'DejaVu Sans', sans-serif; text-anchor: middle" x="24.4" y="310.55" transform="rotate(-90 24.4 310.55)">Current [A]</text></g><g id="text_27"><!-- $V_{SO}$ [V] --><g transform="translate(532.6 36.8025) rotate(-270)"><text><tspan x="0" y="-0.84375" style="font-style: oblique; font-size: 15.5px; font-family: 'DejaVu Sans', sans-serif">V</tspan><tspan x="10.603271" y="1.78125" style="font-style: oblique; font-size: 10.85px; font-family: 'DejaVu Sans', sans-serif">S</tspan><tspan x="17.490479" y="1.78125" style="font-style: oblique; font-size: 10.85px; font-family: 'DejaVu Sans', sans-serif">O</tspan><tspan x="26.468115" y="-0.84375" style="font-size: 15.5px; font-family: 'DejaVu Sans', sans-serif"> </tspan><tspan x="31.395117" y="-0.84375" style="font-size: 15.5px; font-family: 'DejaVu Sans', sans-serif">[</tspan><tspan x="37.442236" y="-0.84375" style="font-size: 15.5px; font-family: 'DejaVu Sans', sans-serif">V</tspan><tspan x="48.045508" y="-0.84375" style="font-size: 15.5px; font-family: 'DejaVu Sans', sans-serif">]</tspan></text></g></g><g id="text_28"><!-- Time [$\mu$s] --><g transform="translate(250.8 399.5)"><text><tspan x="0" y="-0.84375" style="font-size: 15.5px; font-family: 'DejaVu Sans', sans-serif">T</tspan><tspan x="9.468018" y="-0.84375" style="font-size: 15.5px; font-family: 'DejaVu Sans', sans-serif">i</tspan><tspan x="13.774414" y="-0.84375" style="font-size: 15.5px; font-family: 'DejaVu Sans', sans-serif">m</tspan><tspan x="28.873291" y="-0.84375" style="font-size: 15.5px; font-family: 'DejaVu Sans', sans-serif">e</tspan><tspan x="38.409424" y="-0.84375" style="font-size: 15.5px; font-family: 'DejaVu Sans', sans-serif"> </tspan><tspan x="43.336426" y="-0.84375" style="font-size: 15.5px; font-family: 'DejaVu Sans', sans-serif">[</tspan><tspan x="59.245117" y="-0.84375" style="font-size: 15.5px; font-family: 'DejaVu Sans', sans-serif">s</tspan><tspan x="67.320557" y="-0.84375" style="font-size: 15.5px; font-family: 'DejaVu Sans', sans-serif">]</tspan><tspan x="49.383545" y="-0.84375" style="font-style: oblique; font-size: 15.5px; font-family: 'DejaVu Sans', sans-serif">μ</tspan></text></g></g><g id="text_29"><!-- $V_{ge,th}$ --><g transform="translate(80.9 63.9)"><text><tspan x="0" y="-0.0625" style="font-style: oblique; font-size: 15px; font-family: 'DejaVu Sans', sans-serif">V</tspan><tspan x="10.26123" y="2.398438" style="font-style: oblique; font-size: 10.5px; font-family: 'DejaVu Sans', sans-serif">g</tspan><tspan x="16.92627" y="2.398438" style="font-style: oblique; font-size: 10.5px; font-family: 'DejaVu Sans', sans-serif">e</tspan><tspan x="28.769531" y="2.398438" style="font-style: oblique; font-size: 10.5px; font-family: 'DejaVu Sans', sans-serif">t</tspan><tspan x="32.886475" y="2.398438" style="font-style: oblique; font-size: 10.5px; font-family: 'DejaVu Sans', sans-serif">h</tspan><tspan x="23.38623" y="2.398438" style="font-size: 10.5px; font-family: 'DejaVu Sans', sans-serif">,</tspan></text></g></g><g id="text_30"><!-- $V_{ge}$ --><g transform="translate(465.1 74.7)"><text><tspan x="0" y="-0.796875" style="font-style: oblique; font-size: 14px; font-family: 'DejaVu Sans', sans-serif">V</tspan><tspan x="9.577148" y="1.5" style="font-style: oblique; font-size: 9.8px; font-family: 'DejaVu Sans', sans-serif">g</tspan><tspan x="15.797852" y="1.5" style="font-style: oblique; font-size: 9.8px; font-family: 'DejaVu Sans', sans-serif">e</tspan></text></g></g><g id="text_31"><!-- $V_{SO}$ --><g transform="translate(465.1 96.5)"><text><tspan x="0" y="-0.796875" style="font-style: oblique; font-size: 14px; font-family: 'DejaVu Sans', sans-serif">V</tspan><tspan x="9.577148" y="1.5" style="font-style: oblique; font-size: 9.8px; font-family: 'DejaVu Sans', sans-serif">S</tspan><tspan x="15.797852" y="1.5" style="font-style: oblique; font-size: 9.8px; font-family: 'DejaVu Sans', sans-serif">O</tspan></text></g></g><g id="text_32"><!-- $V_{mb}$ --><g transform="translate(116.8 150.9)"><text><tspan x="0" y="-0.25" style="font-style: oblique; font-size: 12px; font-family: 'DejaVu Sans', sans-serif">V</tspan><tspan x="8.208984" y="1.71875" style="font-style: oblique; font-size: 8.4px; font-family: 'DejaVu Sans', sans-serif">m</tspan><tspan x="16.391602" y="1.71875" style="font-style: oblique; font-size: 8.4px; font-family: 'DejaVu Sans', sans-serif">b</tspan></text></g></g><g id="text_33"><!-- $V_{coil}$ --><g transform="translate(197.4 150.9)"><text><tspan x="0" y="-0.25" style="font-style: oblique; font-size: 12px; font-family: 'DejaVu Sans', sans-serif">V</tspan><tspan x="8.208984" y="1.71875" style="font-style: oblique; font-size: 8.4px; font-family: 'DejaVu Sans', sans-serif">c</tspan><tspan x="12.827344" y="1.71875" style="font-style: oblique; font-size: 8.4px; font-family: 'DejaVu Sans', sans-serif">o</tspan><tspan x="17.966602" y="1.71875" style="font-style: oblique; font-size: 8.4px; font-family: 'DejaVu Sans', sans-serif">i</tspan><tspan x="20.300391" y="1.71875" style="font-style: oblique; font-size: 8.4px; font-family: 'DejaVu Sans', sans-serif">l</tspan></text></g></g><g id="text_34"><!-- $V_{ce}$ --><g transform="translate(279.2 150.9)"><text><tspan x="0" y="-0.25" style="font-style: oblique; font-size: 12px; font-family: 'DejaVu Sans', sans-serif">V</tspan><tspan x="8.208984" y="1.71875" style="font-style: oblique; font-size: 8.4px; font-family: 'DejaVu Sans', sans-serif">c</tspan><tspan x="12.827344" y="1.71875" style="font-style: oblique; font-size: 8.4px; font-family: 'DejaVu Sans', sans-serif">e</tspan></text></g></g><g id="text_35"><!-- $I_{mb}$ --><g transform="translate(468.4 280.4)"><text><tspan x="0" y="-0.796875" style="font-style: oblique; font-size: 14px; font-family: 'DejaVu Sans', sans-serif">I</tspan><tspan x="4.128906" y="1.5" style="font-style: oblique; font-size: 9.8px; font-family: 'DejaVu Sans', sans-serif">m</tspan><tspan x="13.675293" y="1.5" style="font-style: oblique; font-size: 9.8px; font-family: 'DejaVu Sans', sans-serif">b</tspan></text></g></g></g><defs><clipPath id="p11a7ee563b"><rect x="74.43" y="10.15" width="427.33" height="107.1"/></clipPath><clipPath id="pb87db20f77"><rect x="74.43" y="133.72" width="427.33" height="107.1"/></clipPath><clipPath id="pda43f27301"><rect x="74.43" y="257.12" width="427.33" height="107.1"/></clipPath></defs></svg> </body></html>
